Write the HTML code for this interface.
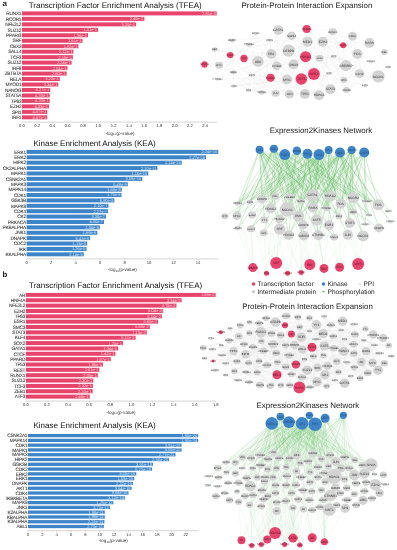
<!DOCTYPE html>
<html><head><meta charset="utf-8"><style>
html,body{margin:0;padding:0;background:#fff;width:397px;height:550px;overflow:hidden}
svg{display:block;will-change:transform;filter:blur(0.3px)}
text{font-family:"Liberation Sans",sans-serif;text-rendering:geometricPrecision}
</style></head><body>
<svg width="397" height="550" viewBox="0 0 397 550">
<rect width="397" height="550" fill="#fff"/>
<text x="2.60" y="6.00" font-size="8.0" fill="#1a1a1a" text-anchor="start" font-weight="bold" >a</text>
<text x="2.50" y="277.00" font-size="7.8" fill="#1a1a1a" text-anchor="start" font-weight="bold" >b</text>
<text x="28.70" y="7.50" font-size="8.0" fill="#111" text-anchor="start" >Transcription Factor Enrichment Analysis (TFEA)</text>
<rect x="22.00" y="11.40" width="194.70" height="4.00" fill="#e8436b"/>
<text x="21.30" y="15.13" font-size="4.8" fill="#3c3c3c" text-anchor="end" letter-spacing="-0.25" stroke="#3c3c3c" stroke-width="0.08">RUNX1</text>
<text x="215.70" y="14.84" font-size="4.0" fill="#fff" text-anchor="end" fill-opacity="0.78">2.81e-3</text>
<rect x="22.00" y="16.87" width="122.40" height="4.00" fill="#e8436b"/>
<text x="21.30" y="20.60" font-size="4.8" fill="#3c3c3c" text-anchor="end" letter-spacing="-0.25" stroke="#3c3c3c" stroke-width="0.08">RCOR1</text>
<text x="143.40" y="20.31" font-size="4.0" fill="#fff" text-anchor="end" fill-opacity="0.78">2.49e-2</text>
<rect x="22.00" y="22.34" width="114.10" height="4.00" fill="#e8436b"/>
<text x="21.30" y="26.07" font-size="4.8" fill="#3c3c3c" text-anchor="end" letter-spacing="-0.25" stroke="#3c3c3c" stroke-width="0.08">NFE2L2</text>
<text x="135.10" y="25.78" font-size="4.0" fill="#fff" text-anchor="end" fill-opacity="0.78">3.20e-2</text>
<rect x="22.00" y="27.81" width="76.10" height="4.00" fill="#e8436b"/>
<text x="21.30" y="31.54" font-size="4.8" fill="#3c3c3c" text-anchor="end" letter-spacing="-0.25" stroke="#3c3c3c" stroke-width="0.08">SUZ12</text>
<text x="97.10" y="31.25" font-size="4.0" fill="#fff" text-anchor="end" fill-opacity="0.78">1.01e-1</text>
<rect x="22.00" y="33.28" width="66.00" height="4.00" fill="#e8436b"/>
<text x="21.30" y="37.01" font-size="4.8" fill="#3c3c3c" text-anchor="end" letter-spacing="-0.25" stroke="#3c3c3c" stroke-width="0.08">PPARG</text>
<text x="87.00" y="36.72" font-size="4.0" fill="#fff" text-anchor="end" fill-opacity="0.78">1.36e-1</text>
<rect x="22.00" y="38.75" width="60.50" height="4.00" fill="#e8436b"/>
<text x="21.30" y="42.48" font-size="4.8" fill="#3c3c3c" text-anchor="end" letter-spacing="-0.25" stroke="#3c3c3c" stroke-width="0.08">SRF</text>
<text x="81.50" y="42.19" font-size="4.0" fill="#fff" text-anchor="end" fill-opacity="0.78">1.61e-1</text>
<rect x="22.00" y="44.22" width="56.40" height="4.00" fill="#e8436b"/>
<text x="21.30" y="47.95" font-size="4.8" fill="#3c3c3c" text-anchor="end" letter-spacing="-0.25" stroke="#3c3c3c" stroke-width="0.08">CBX3</text>
<text x="77.40" y="47.66" font-size="4.0" fill="#fff" text-anchor="end" fill-opacity="0.78">1.82e-1</text>
<rect x="22.00" y="49.69" width="51.40" height="4.00" fill="#e8436b"/>
<text x="21.30" y="53.42" font-size="4.8" fill="#3c3c3c" text-anchor="end" letter-spacing="-0.25" stroke="#3c3c3c" stroke-width="0.08">SALL4</text>
<text x="72.40" y="53.13" font-size="4.0" fill="#fff" text-anchor="end" fill-opacity="0.78">2.12e-1</text>
<rect x="22.00" y="55.16" width="50.90" height="4.00" fill="#e8436b"/>
<text x="21.30" y="58.89" font-size="4.8" fill="#3c3c3c" text-anchor="end" letter-spacing="-0.25" stroke="#3c3c3c" stroke-width="0.08">TCF3</text>
<text x="71.90" y="58.60" font-size="4.0" fill="#fff" text-anchor="end" fill-opacity="0.78">2.15e-1</text>
<rect x="22.00" y="60.63" width="49.60" height="4.00" fill="#e8436b"/>
<text x="21.30" y="64.36" font-size="4.8" fill="#3c3c3c" text-anchor="end" letter-spacing="-0.25" stroke="#3c3c3c" stroke-width="0.08">SUZ12</text>
<text x="70.60" y="64.07" font-size="4.0" fill="#fff" text-anchor="end" fill-opacity="0.78">2.24e-1</text>
<rect x="22.00" y="66.10" width="45.40" height="4.00" fill="#e8436b"/>
<text x="21.30" y="69.83" font-size="4.8" fill="#3c3c3c" text-anchor="end" letter-spacing="-0.25" stroke="#3c3c3c" stroke-width="0.08">IRF8</text>
<text x="66.40" y="69.54" font-size="4.0" fill="#fff" text-anchor="end" fill-opacity="0.78">2.54e-1</text>
<rect x="22.00" y="71.57" width="44.60" height="4.00" fill="#e8436b"/>
<text x="21.30" y="75.30" font-size="4.8" fill="#3c3c3c" text-anchor="end" letter-spacing="-0.25" stroke="#3c3c3c" stroke-width="0.08">ZBTB7A</text>
<text x="65.60" y="75.01" font-size="4.0" fill="#fff" text-anchor="end" fill-opacity="0.78">2.60e-1</text>
<rect x="22.00" y="77.04" width="37.80" height="4.00" fill="#e8436b"/>
<text x="21.30" y="80.77" font-size="4.8" fill="#3c3c3c" text-anchor="end" letter-spacing="-0.25" stroke="#3c3c3c" stroke-width="0.08">RELA</text>
<text x="58.80" y="80.48" font-size="4.0" fill="#fff" text-anchor="end" fill-opacity="0.78">3.20e-1</text>
<rect x="22.00" y="82.51" width="36.30" height="4.00" fill="#e8436b"/>
<text x="21.30" y="86.24" font-size="4.8" fill="#3c3c3c" text-anchor="end" letter-spacing="-0.25" stroke="#3c3c3c" stroke-width="0.08">MYOD1</text>
<text x="57.30" y="85.95" font-size="4.0" fill="#fff" text-anchor="end" fill-opacity="0.78">3.34e-1</text>
<rect x="22.00" y="87.98" width="28.20" height="4.00" fill="#e8436b"/>
<text x="21.30" y="91.71" font-size="4.8" fill="#3c3c3c" text-anchor="end" letter-spacing="-0.25" stroke="#3c3c3c" stroke-width="0.08">NANOG</text>
<text x="49.20" y="91.42" font-size="4.0" fill="#fff" text-anchor="end" fill-opacity="0.78">4.27e-1</text>
<rect x="22.00" y="93.45" width="27.70" height="4.00" fill="#e8436b"/>
<text x="21.30" y="97.18" font-size="4.8" fill="#3c3c3c" text-anchor="end" letter-spacing="-0.25" stroke="#3c3c3c" stroke-width="0.08">STAT5A</text>
<text x="48.70" y="96.89" font-size="4.0" fill="#fff" text-anchor="end" fill-opacity="0.78">4.33e-1</text>
<rect x="22.00" y="98.92" width="27.70" height="4.00" fill="#e8436b"/>
<text x="21.30" y="102.65" font-size="4.8" fill="#3c3c3c" text-anchor="end" letter-spacing="-0.25" stroke="#3c3c3c" stroke-width="0.08">TP63</text>
<text x="48.70" y="102.36" font-size="4.0" fill="#fff" text-anchor="end" fill-opacity="0.78">4.33e-1</text>
<rect x="22.00" y="104.39" width="27.00" height="4.00" fill="#e8436b"/>
<text x="21.30" y="108.12" font-size="4.8" fill="#3c3c3c" text-anchor="end" letter-spacing="-0.25" stroke="#3c3c3c" stroke-width="0.08">EZH2</text>
<text x="48.00" y="107.83" font-size="4.0" fill="#fff" text-anchor="end" fill-opacity="0.78">4.43e-1</text>
<rect x="22.00" y="109.86" width="25.20" height="4.00" fill="#e8436b"/>
<text x="21.30" y="113.59" font-size="4.8" fill="#3c3c3c" text-anchor="end" letter-spacing="-0.25" stroke="#3c3c3c" stroke-width="0.08">SPI1</text>
<text x="46.20" y="113.30" font-size="4.0" fill="#fff" text-anchor="end" fill-opacity="0.78">4.67e-1</text>
<rect x="22.00" y="115.33" width="25.20" height="4.00" fill="#e8436b"/>
<text x="21.30" y="119.06" font-size="4.8" fill="#3c3c3c" text-anchor="end" letter-spacing="-0.25" stroke="#3c3c3c" stroke-width="0.08">IRF1</text>
<text x="46.20" y="118.77" font-size="4.0" fill="#fff" text-anchor="end" fill-opacity="0.78">4.67e-1</text>
<line x1="22.00" y1="122.10" x2="217.20" y2="122.10" stroke="#aaa" stroke-width="0.5"/>
<line x1="22.00" y1="122.10" x2="22.00" y2="123.30" stroke="#aaa" stroke-width="0.4"/>
<text x="22.00" y="126.90" font-size="4.2" fill="#333" text-anchor="middle" >0.0</text>
<line x1="37.26" y1="122.10" x2="37.26" y2="123.30" stroke="#aaa" stroke-width="0.4"/>
<text x="37.26" y="126.90" font-size="4.2" fill="#333" text-anchor="middle" >0.2</text>
<line x1="52.52" y1="122.10" x2="52.52" y2="123.30" stroke="#aaa" stroke-width="0.4"/>
<text x="52.52" y="126.90" font-size="4.2" fill="#333" text-anchor="middle" >0.4</text>
<line x1="67.78" y1="122.10" x2="67.78" y2="123.30" stroke="#aaa" stroke-width="0.4"/>
<text x="67.78" y="126.90" font-size="4.2" fill="#333" text-anchor="middle" >0.6</text>
<line x1="83.04" y1="122.10" x2="83.04" y2="123.30" stroke="#aaa" stroke-width="0.4"/>
<text x="83.04" y="126.90" font-size="4.2" fill="#333" text-anchor="middle" >0.8</text>
<line x1="98.30" y1="122.10" x2="98.30" y2="123.30" stroke="#aaa" stroke-width="0.4"/>
<text x="98.30" y="126.90" font-size="4.2" fill="#333" text-anchor="middle" >1.0</text>
<line x1="113.56" y1="122.10" x2="113.56" y2="123.30" stroke="#aaa" stroke-width="0.4"/>
<text x="113.56" y="126.90" font-size="4.2" fill="#333" text-anchor="middle" >1.2</text>
<line x1="128.82" y1="122.10" x2="128.82" y2="123.30" stroke="#aaa" stroke-width="0.4"/>
<text x="128.82" y="126.90" font-size="4.2" fill="#333" text-anchor="middle" >1.4</text>
<line x1="144.08" y1="122.10" x2="144.08" y2="123.30" stroke="#aaa" stroke-width="0.4"/>
<text x="144.08" y="126.90" font-size="4.2" fill="#333" text-anchor="middle" >1.6</text>
<line x1="159.34" y1="122.10" x2="159.34" y2="123.30" stroke="#aaa" stroke-width="0.4"/>
<text x="159.34" y="126.90" font-size="4.2" fill="#333" text-anchor="middle" >1.8</text>
<line x1="174.60" y1="122.10" x2="174.60" y2="123.30" stroke="#aaa" stroke-width="0.4"/>
<text x="174.60" y="126.90" font-size="4.2" fill="#333" text-anchor="middle" >2.0</text>
<line x1="189.86" y1="122.10" x2="189.86" y2="123.30" stroke="#aaa" stroke-width="0.4"/>
<text x="189.86" y="126.90" font-size="4.2" fill="#333" text-anchor="middle" >2.2</text>
<line x1="205.12" y1="122.10" x2="205.12" y2="123.30" stroke="#aaa" stroke-width="0.4"/>
<text x="205.12" y="126.90" font-size="4.2" fill="#333" text-anchor="middle" >2.4</text>
<text x="120.00" y="134.60" font-size="4.55" fill="#333" text-anchor="middle">-log<tspan font-size="3.1" dy="0.8">10</tspan><tspan dy="-0.8">(p-value)</tspan></text>
<text x="33.40" y="145.60" font-size="8.0" fill="#111" text-anchor="start" >Kinase Enrichment Analysis (KEA)</text>
<rect x="26.60" y="149.90" width="191.70" height="4.00" fill="#3d85c8"/>
<text x="25.90" y="153.63" font-size="4.8" fill="#3c3c3c" text-anchor="end" letter-spacing="-0.25" stroke="#3c3c3c" stroke-width="0.08">ERK1</text>
<text x="217.30" y="153.34" font-size="4.0" fill="#fff" text-anchor="end" fill-opacity="0.78">2.24e-16</text>
<rect x="26.60" y="155.29" width="179.40" height="4.00" fill="#3d85c8"/>
<text x="25.90" y="159.02" font-size="4.8" fill="#3c3c3c" text-anchor="end" letter-spacing="-0.25" stroke="#3c3c3c" stroke-width="0.08">ERK2</text>
<text x="205.00" y="158.73" font-size="4.0" fill="#fff" text-anchor="end" fill-opacity="0.78">2.27e-15</text>
<rect x="26.60" y="160.68" width="155.20" height="4.00" fill="#3d85c8"/>
<text x="25.90" y="164.41" font-size="4.8" fill="#3c3c3c" text-anchor="end" letter-spacing="-0.25" stroke="#3c3c3c" stroke-width="0.08">HIPK2</text>
<text x="180.80" y="164.12" font-size="4.0" fill="#fff" text-anchor="end" fill-opacity="0.78">2.14e-13</text>
<rect x="26.60" y="166.07" width="130.80" height="4.00" fill="#3d85c8"/>
<text x="25.90" y="169.80" font-size="4.8" fill="#3c3c3c" text-anchor="end" letter-spacing="-0.25" stroke="#3c3c3c" stroke-width="0.08">CK2ALPHA</text>
<text x="156.40" y="169.51" font-size="4.0" fill="#fff" text-anchor="end" fill-opacity="0.78">2.10e-11</text>
<rect x="26.60" y="171.46" width="121.70" height="4.00" fill="#3d85c8"/>
<text x="25.90" y="175.19" font-size="4.8" fill="#3c3c3c" text-anchor="end" letter-spacing="-0.25" stroke="#3c3c3c" stroke-width="0.08">MAPK1</text>
<text x="147.30" y="174.90" font-size="4.0" fill="#fff" text-anchor="end" fill-opacity="0.78">1.16e-10</text>
<rect x="26.60" y="176.85" width="115.70" height="4.00" fill="#3d85c8"/>
<text x="25.90" y="180.58" font-size="4.8" fill="#3c3c3c" text-anchor="end" letter-spacing="-0.25" stroke="#3c3c3c" stroke-width="0.08">CSNK2A1</text>
<text x="141.30" y="180.29" font-size="4.0" fill="#fff" text-anchor="end" fill-opacity="0.78">3.59e-10</text>
<rect x="26.60" y="182.24" width="101.20" height="4.00" fill="#3d85c8"/>
<text x="25.90" y="185.97" font-size="4.8" fill="#3c3c3c" text-anchor="end" letter-spacing="-0.25" stroke="#3c3c3c" stroke-width="0.08">MAPK3</text>
<text x="126.80" y="185.68" font-size="4.0" fill="#fff" text-anchor="end" fill-opacity="0.78">5.48e-9</text>
<rect x="26.60" y="187.63" width="95.20" height="4.00" fill="#3d85c8"/>
<text x="25.90" y="191.36" font-size="4.8" fill="#3c3c3c" text-anchor="end" letter-spacing="-0.25" stroke="#3c3c3c" stroke-width="0.08">MAPK14</text>
<text x="120.80" y="191.07" font-size="4.0" fill="#fff" text-anchor="end" fill-opacity="0.78">1.69e-8</text>
<rect x="26.60" y="193.02" width="94.90" height="4.00" fill="#3d85c8"/>
<text x="25.90" y="196.75" font-size="4.8" fill="#3c3c3c" text-anchor="end" letter-spacing="-0.25" stroke="#3c3c3c" stroke-width="0.08">CDK1</text>
<text x="120.50" y="196.46" font-size="4.0" fill="#fff" text-anchor="end" fill-opacity="0.78">1.79e-8</text>
<rect x="26.60" y="198.41" width="87.80" height="4.00" fill="#3d85c8"/>
<text x="25.90" y="202.14" font-size="4.8" fill="#3c3c3c" text-anchor="end" letter-spacing="-0.25" stroke="#3c3c3c" stroke-width="0.08">GSK3B</text>
<text x="113.40" y="201.85" font-size="4.0" fill="#fff" text-anchor="end" fill-opacity="0.78">6.80e-8</text>
<rect x="26.60" y="203.80" width="81.80" height="4.00" fill="#3d85c8"/>
<text x="25.90" y="207.53" font-size="4.8" fill="#3c3c3c" text-anchor="end" letter-spacing="-0.25" stroke="#3c3c3c" stroke-width="0.08">MAPK8</text>
<text x="107.40" y="207.24" font-size="4.0" fill="#fff" text-anchor="end" fill-opacity="0.78">2.10e-7</text>
<rect x="26.60" y="209.19" width="81.40" height="4.00" fill="#3d85c8"/>
<text x="25.90" y="212.92" font-size="4.8" fill="#3c3c3c" text-anchor="end" letter-spacing="-0.25" stroke="#3c3c3c" stroke-width="0.08">CDK4</text>
<text x="107.00" y="212.63" font-size="4.0" fill="#fff" text-anchor="end" fill-opacity="0.78">2.27e-7</text>
<rect x="26.60" y="214.58" width="79.40" height="4.00" fill="#3d85c8"/>
<text x="25.90" y="218.31" font-size="4.8" fill="#3c3c3c" text-anchor="end" letter-spacing="-0.25" stroke="#3c3c3c" stroke-width="0.08">CK2</text>
<text x="105.00" y="218.02" font-size="4.0" fill="#fff" text-anchor="end" fill-opacity="0.78">3.30e-7</text>
<rect x="26.60" y="219.97" width="77.40" height="4.00" fill="#3d85c8"/>
<text x="25.90" y="223.70" font-size="4.8" fill="#3c3c3c" text-anchor="end" letter-spacing="-0.25" stroke="#3c3c3c" stroke-width="0.08">PRKACA</text>
<text x="103.00" y="223.41" font-size="4.0" fill="#fff" text-anchor="end" fill-opacity="0.78">4.80e-7</text>
<rect x="26.60" y="225.36" width="73.30" height="4.00" fill="#3d85c8"/>
<text x="25.90" y="229.09" font-size="4.8" fill="#3c3c3c" text-anchor="end" letter-spacing="-0.25" stroke="#3c3c3c" stroke-width="0.08">PKBALPHA</text>
<text x="98.90" y="228.80" font-size="4.0" fill="#fff" text-anchor="end" fill-opacity="0.78">1.04e-6</text>
<rect x="26.60" y="230.75" width="70.70" height="4.00" fill="#3d85c8"/>
<text x="25.90" y="234.48" font-size="4.8" fill="#3c3c3c" text-anchor="end" letter-spacing="-0.25" stroke="#3c3c3c" stroke-width="0.08">JNK1</text>
<text x="96.30" y="234.19" font-size="4.0" fill="#fff" text-anchor="end" fill-opacity="0.78">1.69e-6</text>
<rect x="26.60" y="236.14" width="63.60" height="4.00" fill="#3d85c8"/>
<text x="25.90" y="239.87" font-size="4.8" fill="#3c3c3c" text-anchor="end" letter-spacing="-0.25" stroke="#3c3c3c" stroke-width="0.08">DNAPK</text>
<text x="89.20" y="239.58" font-size="4.0" fill="#fff" text-anchor="end" fill-opacity="0.78">6.43e-6</text>
<rect x="26.60" y="241.53" width="60.60" height="4.00" fill="#3d85c8"/>
<text x="25.90" y="245.26" font-size="4.8" fill="#3c3c3c" text-anchor="end" letter-spacing="-0.25" stroke="#3c3c3c" stroke-width="0.08">CDC2</text>
<text x="86.20" y="244.97" font-size="4.0" fill="#fff" text-anchor="end" fill-opacity="0.78">1.13e-5</text>
<rect x="26.60" y="246.92" width="60.00" height="4.00" fill="#3d85c8"/>
<text x="25.90" y="250.65" font-size="4.8" fill="#3c3c3c" text-anchor="end" letter-spacing="-0.25" stroke="#3c3c3c" stroke-width="0.08">IKK</text>
<text x="85.60" y="250.36" font-size="4.0" fill="#fff" text-anchor="end" fill-opacity="0.78">1.26e-5</text>
<rect x="26.60" y="252.31" width="57.20" height="4.00" fill="#3d85c8"/>
<text x="25.90" y="256.04" font-size="4.8" fill="#3c3c3c" text-anchor="end" letter-spacing="-0.25" stroke="#3c3c3c" stroke-width="0.08">KKALPHA</text>
<text x="82.80" y="255.75" font-size="4.0" fill="#fff" text-anchor="end" fill-opacity="0.78">2.14e-5</text>
<line x1="26.60" y1="258.90" x2="218.50" y2="258.90" stroke="#aaa" stroke-width="0.5"/>
<line x1="26.60" y1="258.90" x2="26.60" y2="260.10" stroke="#aaa" stroke-width="0.4"/>
<text x="26.60" y="263.70" font-size="4.2" fill="#333" text-anchor="middle" >0</text>
<line x1="51.10" y1="258.90" x2="51.10" y2="260.10" stroke="#aaa" stroke-width="0.4"/>
<text x="51.10" y="263.70" font-size="4.2" fill="#333" text-anchor="middle" >2</text>
<line x1="75.60" y1="258.90" x2="75.60" y2="260.10" stroke="#aaa" stroke-width="0.4"/>
<text x="75.60" y="263.70" font-size="4.2" fill="#333" text-anchor="middle" >4</text>
<line x1="100.10" y1="258.90" x2="100.10" y2="260.10" stroke="#aaa" stroke-width="0.4"/>
<text x="100.10" y="263.70" font-size="4.2" fill="#333" text-anchor="middle" >6</text>
<line x1="124.60" y1="258.90" x2="124.60" y2="260.10" stroke="#aaa" stroke-width="0.4"/>
<text x="124.60" y="263.70" font-size="4.2" fill="#333" text-anchor="middle" >8</text>
<line x1="149.10" y1="258.90" x2="149.10" y2="260.10" stroke="#aaa" stroke-width="0.4"/>
<text x="149.10" y="263.70" font-size="4.2" fill="#333" text-anchor="middle" >10</text>
<line x1="173.60" y1="258.90" x2="173.60" y2="260.10" stroke="#aaa" stroke-width="0.4"/>
<text x="173.60" y="263.70" font-size="4.2" fill="#333" text-anchor="middle" >12</text>
<line x1="198.10" y1="258.90" x2="198.10" y2="260.10" stroke="#aaa" stroke-width="0.4"/>
<text x="198.10" y="263.70" font-size="4.2" fill="#333" text-anchor="middle" >14</text>
<text x="122.40" y="271.30" font-size="4.55" fill="#333" text-anchor="middle">-log<tspan font-size="3.1" dy="0.8">10</tspan><tspan dy="-0.8">(p-value)</tspan></text>
<text x="29.10" y="287.60" font-size="8.0" fill="#111" text-anchor="start" >Transcription Factor Enrichment Analysis (TFEA)</text>
<rect x="25.90" y="292.90" width="189.70" height="4.00" fill="#e8436b"/>
<text x="25.20" y="296.63" font-size="4.8" fill="#3c3c3c" text-anchor="end" letter-spacing="-0.25" stroke="#3c3c3c" stroke-width="0.08">AR</text>
<text x="214.60" y="296.34" font-size="4.0" fill="#fff" text-anchor="end" fill-opacity="0.78">1.59e-2</text>
<rect x="25.90" y="298.25" width="155.70" height="4.00" fill="#e8436b"/>
<text x="25.20" y="301.98" font-size="4.8" fill="#3c3c3c" text-anchor="end" letter-spacing="-0.25" stroke="#3c3c3c" stroke-width="0.08">HNF4A</text>
<text x="180.60" y="301.69" font-size="4.0" fill="#fff" text-anchor="end" fill-opacity="0.78">3.34e-2</text>
<rect x="25.90" y="303.61" width="150.50" height="4.00" fill="#e8436b"/>
<text x="25.20" y="307.33" font-size="4.8" fill="#3c3c3c" text-anchor="end" letter-spacing="-0.25" stroke="#3c3c3c" stroke-width="0.08">NFE2L2</text>
<text x="175.40" y="307.05" font-size="4.0" fill="#fff" text-anchor="end" fill-opacity="0.78">3.75e-2</text>
<rect x="25.90" y="308.96" width="136.90" height="4.00" fill="#e8436b"/>
<text x="25.20" y="312.69" font-size="4.8" fill="#3c3c3c" text-anchor="end" letter-spacing="-0.25" stroke="#3c3c3c" stroke-width="0.08">EZH2</text>
<text x="161.80" y="312.40" font-size="4.0" fill="#fff" text-anchor="end" fill-opacity="0.78">5.04e-2</text>
<rect x="25.90" y="314.31" width="136.00" height="4.00" fill="#e8436b"/>
<text x="25.20" y="318.04" font-size="4.8" fill="#3c3c3c" text-anchor="end" letter-spacing="-0.25" stroke="#3c3c3c" stroke-width="0.08">TP63</text>
<text x="160.90" y="317.75" font-size="4.0" fill="#fff" text-anchor="end" fill-opacity="0.78">5.14e-2</text>
<rect x="25.90" y="319.66" width="132.10" height="4.00" fill="#e8436b"/>
<text x="25.20" y="323.39" font-size="4.8" fill="#3c3c3c" text-anchor="end" letter-spacing="-0.25" stroke="#3c3c3c" stroke-width="0.08">ESR1</text>
<text x="157.00" y="323.10" font-size="4.0" fill="#fff" text-anchor="end" fill-opacity="0.78">5.60e-2</text>
<rect x="25.90" y="325.02" width="123.90" height="4.00" fill="#e8436b"/>
<text x="25.20" y="328.75" font-size="4.8" fill="#3c3c3c" text-anchor="end" letter-spacing="-0.25" stroke="#3c3c3c" stroke-width="0.08">SMC3</text>
<text x="148.80" y="328.46" font-size="4.0" fill="#fff" text-anchor="end" fill-opacity="0.78">6.69e-2</text>
<rect x="25.90" y="330.37" width="120.90" height="4.00" fill="#e8436b"/>
<text x="25.20" y="334.10" font-size="4.8" fill="#3c3c3c" text-anchor="end" letter-spacing="-0.25" stroke="#3c3c3c" stroke-width="0.08">STAT3</text>
<text x="145.80" y="333.81" font-size="4.0" fill="#fff" text-anchor="end" fill-opacity="0.78">7.15e-2</text>
<rect x="25.90" y="335.72" width="109.70" height="4.00" fill="#e8436b"/>
<text x="25.20" y="339.45" font-size="4.8" fill="#3c3c3c" text-anchor="end" letter-spacing="-0.25" stroke="#3c3c3c" stroke-width="0.08">KLF4</text>
<text x="134.60" y="339.16" font-size="4.0" fill="#fff" text-anchor="end" fill-opacity="0.78">9.12e-2</text>
<rect x="25.90" y="341.08" width="97.00" height="4.00" fill="#e8436b"/>
<text x="25.20" y="344.81" font-size="4.8" fill="#3c3c3c" text-anchor="end" letter-spacing="-0.25" stroke="#3c3c3c" stroke-width="0.08">SOX2</text>
<text x="121.90" y="344.52" font-size="4.0" fill="#fff" text-anchor="end" fill-opacity="0.78">1.20e-1</text>
<rect x="25.90" y="346.43" width="92.20" height="4.00" fill="#e8436b"/>
<text x="25.20" y="350.16" font-size="4.8" fill="#3c3c3c" text-anchor="end" letter-spacing="-0.25" stroke="#3c3c3c" stroke-width="0.08">GATA1</text>
<text x="117.10" y="349.87" font-size="4.0" fill="#fff" text-anchor="end" fill-opacity="0.78">1.34e-1</text>
<rect x="25.90" y="351.78" width="89.50" height="4.00" fill="#e8436b"/>
<text x="25.20" y="355.51" font-size="4.8" fill="#3c3c3c" text-anchor="end" letter-spacing="-0.25" stroke="#3c3c3c" stroke-width="0.08">CTCF</text>
<text x="114.40" y="355.22" font-size="4.0" fill="#fff" text-anchor="end" fill-opacity="0.78">1.42e-1</text>
<rect x="25.90" y="357.14" width="84.90" height="4.00" fill="#e8436b"/>
<text x="25.20" y="360.86" font-size="4.8" fill="#3c3c3c" text-anchor="end" letter-spacing="-0.25" stroke="#3c3c3c" stroke-width="0.08">PPARD</text>
<text x="109.80" y="360.58" font-size="4.0" fill="#fff" text-anchor="end" fill-opacity="0.78">1.57e-1</text>
<rect x="25.90" y="362.49" width="77.00" height="4.00" fill="#e8436b"/>
<text x="25.20" y="366.22" font-size="4.8" fill="#3c3c3c" text-anchor="end" letter-spacing="-0.25" stroke="#3c3c3c" stroke-width="0.08">TP53</text>
<text x="101.90" y="365.93" font-size="4.0" fill="#fff" text-anchor="end" fill-opacity="0.78">1.86e-1</text>
<rect x="25.90" y="367.84" width="73.40" height="4.00" fill="#e8436b"/>
<text x="25.20" y="371.57" font-size="4.8" fill="#3c3c3c" text-anchor="end" letter-spacing="-0.25" stroke="#3c3c3c" stroke-width="0.08">REST</text>
<text x="98.30" y="371.28" font-size="4.0" fill="#fff" text-anchor="end" fill-opacity="0.78">2.01e-1</text>
<rect x="25.90" y="373.19" width="72.00" height="4.00" fill="#e8436b"/>
<text x="25.20" y="376.92" font-size="4.8" fill="#3c3c3c" text-anchor="end" letter-spacing="-0.25" stroke="#3c3c3c" stroke-width="0.08">RUNX1</text>
<text x="96.90" y="376.63" font-size="4.0" fill="#fff" text-anchor="end" fill-opacity="0.78">2.08e-1</text>
<rect x="25.90" y="378.55" width="67.40" height="4.00" fill="#e8436b"/>
<text x="25.20" y="382.28" font-size="4.8" fill="#3c3c3c" text-anchor="end" letter-spacing="-0.25" stroke="#3c3c3c" stroke-width="0.08">SUZ12</text>
<text x="92.30" y="381.99" font-size="4.0" fill="#fff" text-anchor="end" fill-opacity="0.78">2.30e-1</text>
<rect x="25.90" y="383.90" width="67.00" height="4.00" fill="#e8436b"/>
<text x="25.20" y="387.63" font-size="4.8" fill="#3c3c3c" text-anchor="end" letter-spacing="-0.25" stroke="#3c3c3c" stroke-width="0.08">TCF3</text>
<text x="91.90" y="387.34" font-size="4.0" fill="#fff" text-anchor="end" fill-opacity="0.78">2.32e-1</text>
<rect x="25.90" y="389.25" width="66.80" height="4.00" fill="#e8436b"/>
<text x="25.20" y="392.98" font-size="4.8" fill="#3c3c3c" text-anchor="end" letter-spacing="-0.25" stroke="#3c3c3c" stroke-width="0.08">ZEB1</text>
<text x="91.70" y="392.69" font-size="4.0" fill="#fff" text-anchor="end" fill-opacity="0.78">2.33e-1</text>
<rect x="25.90" y="394.61" width="63.90" height="4.00" fill="#e8436b"/>
<text x="25.20" y="398.33" font-size="4.8" fill="#3c3c3c" text-anchor="end" letter-spacing="-0.25" stroke="#3c3c3c" stroke-width="0.08">ATF3</text>
<text x="88.80" y="398.05" font-size="4.0" fill="#fff" text-anchor="end" fill-opacity="0.78">2.48e-1</text>
<line x1="25.90" y1="401.10" x2="215.60" y2="401.10" stroke="#aaa" stroke-width="0.5"/>
<line x1="25.90" y1="401.10" x2="25.90" y2="402.30" stroke="#aaa" stroke-width="0.4"/>
<text x="25.90" y="405.90" font-size="4.2" fill="#333" text-anchor="middle" >0.0</text>
<line x1="47.00" y1="401.10" x2="47.00" y2="402.30" stroke="#aaa" stroke-width="0.4"/>
<text x="47.00" y="405.90" font-size="4.2" fill="#333" text-anchor="middle" >0.2</text>
<line x1="68.10" y1="401.10" x2="68.10" y2="402.30" stroke="#aaa" stroke-width="0.4"/>
<text x="68.10" y="405.90" font-size="4.2" fill="#333" text-anchor="middle" >0.4</text>
<line x1="89.20" y1="401.10" x2="89.20" y2="402.30" stroke="#aaa" stroke-width="0.4"/>
<text x="89.20" y="405.90" font-size="4.2" fill="#333" text-anchor="middle" >0.6</text>
<line x1="110.30" y1="401.10" x2="110.30" y2="402.30" stroke="#aaa" stroke-width="0.4"/>
<text x="110.30" y="405.90" font-size="4.2" fill="#333" text-anchor="middle" >0.8</text>
<line x1="131.40" y1="401.10" x2="131.40" y2="402.30" stroke="#aaa" stroke-width="0.4"/>
<text x="131.40" y="405.90" font-size="4.2" fill="#333" text-anchor="middle" >1.0</text>
<line x1="152.50" y1="401.10" x2="152.50" y2="402.30" stroke="#aaa" stroke-width="0.4"/>
<text x="152.50" y="405.90" font-size="4.2" fill="#333" text-anchor="middle" >1.2</text>
<line x1="173.60" y1="401.10" x2="173.60" y2="402.30" stroke="#aaa" stroke-width="0.4"/>
<text x="173.60" y="405.90" font-size="4.2" fill="#333" text-anchor="middle" >1.4</text>
<line x1="194.70" y1="401.10" x2="194.70" y2="402.30" stroke="#aaa" stroke-width="0.4"/>
<text x="194.70" y="405.90" font-size="4.2" fill="#333" text-anchor="middle" >1.6</text>
<line x1="215.80" y1="401.10" x2="215.80" y2="402.30" stroke="#aaa" stroke-width="0.4"/>
<text x="215.80" y="405.90" font-size="4.2" fill="#333" text-anchor="middle" >1.8</text>
<text x="121.00" y="413.60" font-size="4.55" fill="#333" text-anchor="middle">-log<tspan font-size="3.1" dy="0.8">10</tspan><tspan dy="-0.8">(p-value)</tspan></text>
<text x="33.50" y="427.60" font-size="8.0" fill="#111" text-anchor="start" >Kinase Enrichment Analysis (KEA)</text>
<rect x="28.00" y="433.95" width="170.20" height="3.30" fill="#3d85c8"/>
<text x="27.30" y="437.33" font-size="4.8" fill="#3c3c3c" text-anchor="end" letter-spacing="-0.25" stroke="#3c3c3c" stroke-width="0.08">CSNK2A1</text>
<text x="197.20" y="437.04" font-size="4.0" fill="#fff" text-anchor="end" fill-opacity="0.78">1.90e-24</text>
<rect x="28.00" y="438.74" width="170.20" height="3.30" fill="#3d85c8"/>
<text x="27.30" y="442.11" font-size="4.8" fill="#3c3c3c" text-anchor="end" letter-spacing="-0.25" stroke="#3c3c3c" stroke-width="0.08">MAPK14</text>
<text x="197.20" y="441.83" font-size="4.0" fill="#fff" text-anchor="end" fill-opacity="0.78">1.90e-24</text>
<rect x="28.00" y="443.52" width="153.60" height="3.30" fill="#3d85c8"/>
<text x="27.30" y="446.90" font-size="4.8" fill="#3c3c3c" text-anchor="end" letter-spacing="-0.25" stroke="#3c3c3c" stroke-width="0.08">CDK1</text>
<text x="180.60" y="446.61" font-size="4.0" fill="#fff" text-anchor="end" fill-opacity="0.78">3.91e-22</text>
<rect x="28.00" y="448.31" width="153.60" height="3.30" fill="#3d85c8"/>
<text x="27.30" y="451.68" font-size="4.8" fill="#3c3c3c" text-anchor="end" letter-spacing="-0.25" stroke="#3c3c3c" stroke-width="0.08">MAPK1</text>
<text x="180.60" y="451.40" font-size="4.0" fill="#fff" text-anchor="end" fill-opacity="0.78">3.91e-22</text>
<rect x="28.00" y="453.09" width="147.50" height="3.30" fill="#3d85c8"/>
<text x="27.30" y="456.47" font-size="4.8" fill="#3c3c3c" text-anchor="end" letter-spacing="-0.25" stroke="#3c3c3c" stroke-width="0.08">MAPK3</text>
<text x="174.50" y="456.18" font-size="4.0" fill="#fff" text-anchor="end" fill-opacity="0.78">2.77e-21</text>
<rect x="28.00" y="457.88" width="140.90" height="3.30" fill="#3d85c8"/>
<text x="27.30" y="461.25" font-size="4.8" fill="#3c3c3c" text-anchor="end" letter-spacing="-0.25" stroke="#3c3c3c" stroke-width="0.08">HIPK2</text>
<text x="167.90" y="460.97" font-size="4.0" fill="#fff" text-anchor="end" fill-opacity="0.78">2.30e-20</text>
<rect x="28.00" y="462.66" width="124.90" height="3.30" fill="#3d85c8"/>
<text x="27.30" y="466.04" font-size="4.8" fill="#3c3c3c" text-anchor="end" letter-spacing="-0.25" stroke="#3c3c3c" stroke-width="0.08">GSK3B</text>
<text x="151.90" y="465.75" font-size="4.0" fill="#fff" text-anchor="end" fill-opacity="0.78">3.91e-18</text>
<rect x="28.00" y="467.45" width="124.00" height="3.30" fill="#3d85c8"/>
<text x="27.30" y="470.82" font-size="4.8" fill="#3c3c3c" text-anchor="end" letter-spacing="-0.25" stroke="#3c3c3c" stroke-width="0.08">CDK2</text>
<text x="151.00" y="470.54" font-size="4.0" fill="#fff" text-anchor="end" fill-opacity="0.78">5.22e-18</text>
<rect x="28.00" y="472.23" width="108.30" height="3.30" fill="#3d85c8"/>
<text x="27.30" y="475.61" font-size="4.8" fill="#3c3c3c" text-anchor="end" letter-spacing="-0.25" stroke="#3c3c3c" stroke-width="0.08">ERK2</text>
<text x="135.30" y="475.32" font-size="4.0" fill="#fff" text-anchor="end" fill-opacity="0.78">8.05e-16</text>
<rect x="28.00" y="477.02" width="106.20" height="3.30" fill="#3d85c8"/>
<text x="27.30" y="480.39" font-size="4.8" fill="#3c3c3c" text-anchor="end" letter-spacing="-0.25" stroke="#3c3c3c" stroke-width="0.08">ERK1</text>
<text x="133.20" y="480.11" font-size="4.0" fill="#fff" text-anchor="end" fill-opacity="0.78">1.58e-15</text>
<rect x="28.00" y="481.80" width="105.00" height="3.30" fill="#3d85c8"/>
<text x="27.30" y="485.18" font-size="4.8" fill="#3c3c3c" text-anchor="end" letter-spacing="-0.25" stroke="#3c3c3c" stroke-width="0.08">DNAPK</text>
<text x="132.00" y="484.89" font-size="4.0" fill="#fff" text-anchor="end" fill-opacity="0.78">2.32e-15</text>
<rect x="28.00" y="486.59" width="103.60" height="3.30" fill="#3d85c8"/>
<text x="27.30" y="489.96" font-size="4.8" fill="#3c3c3c" text-anchor="end" letter-spacing="-0.25" stroke="#3c3c3c" stroke-width="0.08">AKT1</text>
<text x="130.60" y="489.68" font-size="4.0" fill="#fff" text-anchor="end" fill-opacity="0.78">3.64e-15</text>
<rect x="28.00" y="491.37" width="100.50" height="3.30" fill="#3d85c8"/>
<text x="27.30" y="494.75" font-size="4.8" fill="#3c3c3c" text-anchor="end" letter-spacing="-0.25" stroke="#3c3c3c" stroke-width="0.08">CDK4</text>
<text x="127.50" y="494.46" font-size="4.0" fill="#fff" text-anchor="end" fill-opacity="0.78">9.84e-15</text>
<rect x="28.00" y="496.16" width="96.90" height="3.30" fill="#3d85c8"/>
<text x="27.30" y="499.53" font-size="4.8" fill="#3c3c3c" text-anchor="end" letter-spacing="-0.25" stroke="#3c3c3c" stroke-width="0.08">IKBKBETA</text>
<text x="123.90" y="499.25" font-size="4.0" fill="#fff" text-anchor="end" fill-opacity="0.78">3.12e-14</text>
<rect x="28.00" y="500.94" width="85.40" height="3.30" fill="#3d85c8"/>
<text x="27.30" y="504.32" font-size="4.8" fill="#3c3c3c" text-anchor="end" letter-spacing="-0.25" stroke="#3c3c3c" stroke-width="0.08">MAPK8</text>
<text x="112.40" y="504.03" font-size="4.0" fill="#fff" text-anchor="end" fill-opacity="0.78">1.25e-12</text>
<rect x="28.00" y="505.73" width="82.00" height="3.30" fill="#3d85c8"/>
<text x="27.30" y="509.10" font-size="4.8" fill="#3c3c3c" text-anchor="end" letter-spacing="-0.25" stroke="#3c3c3c" stroke-width="0.08">JNK1</text>
<text x="109.00" y="508.81" font-size="4.0" fill="#fff" text-anchor="end" fill-opacity="0.78">3.73e-12</text>
<rect x="28.00" y="510.51" width="76.80" height="3.30" fill="#3d85c8"/>
<text x="27.30" y="513.89" font-size="4.8" fill="#3c3c3c" text-anchor="end" letter-spacing="-0.25" stroke="#3c3c3c" stroke-width="0.08">K2ALPHA</text>
<text x="103.80" y="513.60" font-size="4.0" fill="#fff" text-anchor="end" fill-opacity="0.78">1.98e-11</text>
<rect x="28.00" y="515.30" width="76.80" height="3.30" fill="#3d85c8"/>
<text x="27.30" y="518.67" font-size="4.8" fill="#3c3c3c" text-anchor="end" letter-spacing="-0.25" stroke="#3c3c3c" stroke-width="0.08">KBALPHA</text>
<text x="103.80" y="518.39" font-size="4.0" fill="#fff" text-anchor="end" fill-opacity="0.78">1.98e-11</text>
<rect x="28.00" y="520.08" width="76.40" height="3.30" fill="#3d85c8"/>
<text x="27.30" y="523.46" font-size="4.8" fill="#3c3c3c" text-anchor="end" letter-spacing="-0.25" stroke="#3c3c3c" stroke-width="0.08">K3ALPHA</text>
<text x="103.40" y="523.17" font-size="4.0" fill="#fff" text-anchor="end" fill-opacity="0.78">2.25e-11</text>
<rect x="28.00" y="524.87" width="75.80" height="3.30" fill="#3d85c8"/>
<text x="27.30" y="528.24" font-size="4.8" fill="#3c3c3c" text-anchor="end" letter-spacing="-0.25" stroke="#3c3c3c" stroke-width="0.08">ABL1</text>
<text x="102.80" y="527.96" font-size="4.0" fill="#fff" text-anchor="end" fill-opacity="0.78">2.73e-11</text>
<line x1="28.00" y1="530.70" x2="198.50" y2="530.70" stroke="#aaa" stroke-width="0.5"/>
<line x1="28.00" y1="530.70" x2="28.00" y2="531.90" stroke="#aaa" stroke-width="0.4"/>
<text x="28.00" y="535.50" font-size="4.2" fill="#333" text-anchor="middle" >0</text>
<line x1="42.35" y1="530.70" x2="42.35" y2="531.90" stroke="#aaa" stroke-width="0.4"/>
<text x="42.35" y="535.50" font-size="4.2" fill="#333" text-anchor="middle" >2</text>
<line x1="56.70" y1="530.70" x2="56.70" y2="531.90" stroke="#aaa" stroke-width="0.4"/>
<text x="56.70" y="535.50" font-size="4.2" fill="#333" text-anchor="middle" >4</text>
<line x1="71.05" y1="530.70" x2="71.05" y2="531.90" stroke="#aaa" stroke-width="0.4"/>
<text x="71.05" y="535.50" font-size="4.2" fill="#333" text-anchor="middle" >6</text>
<line x1="85.40" y1="530.70" x2="85.40" y2="531.90" stroke="#aaa" stroke-width="0.4"/>
<text x="85.40" y="535.50" font-size="4.2" fill="#333" text-anchor="middle" >8</text>
<line x1="99.75" y1="530.70" x2="99.75" y2="531.90" stroke="#aaa" stroke-width="0.4"/>
<text x="99.75" y="535.50" font-size="4.2" fill="#333" text-anchor="middle" >10</text>
<line x1="114.10" y1="530.70" x2="114.10" y2="531.90" stroke="#aaa" stroke-width="0.4"/>
<text x="114.10" y="535.50" font-size="4.2" fill="#333" text-anchor="middle" >12</text>
<line x1="128.45" y1="530.70" x2="128.45" y2="531.90" stroke="#aaa" stroke-width="0.4"/>
<text x="128.45" y="535.50" font-size="4.2" fill="#333" text-anchor="middle" >14</text>
<line x1="142.80" y1="530.70" x2="142.80" y2="531.90" stroke="#aaa" stroke-width="0.4"/>
<text x="142.80" y="535.50" font-size="4.2" fill="#333" text-anchor="middle" >16</text>
<line x1="157.15" y1="530.70" x2="157.15" y2="531.90" stroke="#aaa" stroke-width="0.4"/>
<text x="157.15" y="535.50" font-size="4.2" fill="#333" text-anchor="middle" >18</text>
<line x1="171.50" y1="530.70" x2="171.50" y2="531.90" stroke="#aaa" stroke-width="0.4"/>
<text x="171.50" y="535.50" font-size="4.2" fill="#333" text-anchor="middle" >20</text>
<line x1="185.85" y1="530.70" x2="185.85" y2="531.90" stroke="#aaa" stroke-width="0.4"/>
<text x="185.85" y="535.50" font-size="4.2" fill="#333" text-anchor="middle" >22</text>
<text x="113.30" y="541.80" font-size="4.55" fill="#333" text-anchor="middle">-log<tspan font-size="3.1" dy="0.8">10</tspan><tspan dy="-0.8">(p-value)</tspan></text>
<line x1="219.0" y1="65.3" x2="258.0" y2="61.4" stroke="#e6e6e6" stroke-width="0.3"/>
<line x1="219.0" y1="65.3" x2="249.0" y2="44.6" stroke="#e6e6e6" stroke-width="0.3"/>
<line x1="219.0" y1="65.3" x2="233.5" y2="72.2" stroke="#e6e6e6" stroke-width="0.3"/>
<line x1="219.0" y1="65.3" x2="261.7" y2="92.4" stroke="#e6e6e6" stroke-width="0.3"/>
<line x1="219.0" y1="65.3" x2="278.3" y2="30.2" stroke="#e6e6e6" stroke-width="0.3"/>
<line x1="219.0" y1="65.3" x2="204.5" y2="64.5" stroke="#e6e6e6" stroke-width="0.3"/>
<line x1="219.0" y1="65.3" x2="270.5" y2="77.8" stroke="#e6e6e6" stroke-width="0.3"/>
<line x1="214.7" y1="49.5" x2="258.0" y2="61.4" stroke="#e6e6e6" stroke-width="0.3"/>
<line x1="214.7" y1="49.5" x2="271.3" y2="53.9" stroke="#e6e6e6" stroke-width="0.3"/>
<line x1="214.7" y1="49.5" x2="276.8" y2="65.7" stroke="#e6e6e6" stroke-width="0.3"/>
<line x1="214.7" y1="49.5" x2="252.0" y2="75.3" stroke="#e6e6e6" stroke-width="0.3"/>
<line x1="214.7" y1="49.5" x2="217.6" y2="79.0" stroke="#e6e6e6" stroke-width="0.3"/>
<line x1="258.0" y1="61.4" x2="291.6" y2="35.8" stroke="#e6e6e6" stroke-width="0.3"/>
<line x1="258.0" y1="61.4" x2="319.6" y2="58.3" stroke="#e6e6e6" stroke-width="0.3"/>
<line x1="258.0" y1="61.4" x2="319.1" y2="95.3" stroke="#e6e6e6" stroke-width="0.3"/>
<line x1="258.0" y1="61.4" x2="269.5" y2="40.2" stroke="#e6e6e6" stroke-width="0.3"/>
<line x1="232.0" y1="40.3" x2="261.7" y2="92.4" stroke="#e6e6e6" stroke-width="0.3"/>
<line x1="232.0" y1="40.3" x2="291.6" y2="35.8" stroke="#e6e6e6" stroke-width="0.3"/>
<line x1="232.0" y1="40.3" x2="204.5" y2="64.5" stroke="#e6e6e6" stroke-width="0.3"/>
<line x1="232.0" y1="40.3" x2="244.0" y2="58.4" stroke="#e6e6e6" stroke-width="0.3"/>
<line x1="232.0" y1="40.3" x2="234.0" y2="86.1" stroke="#e6e6e6" stroke-width="0.3"/>
<line x1="249.0" y1="44.6" x2="275.6" y2="93.4" stroke="#e6e6e6" stroke-width="0.3"/>
<line x1="249.0" y1="44.6" x2="244.0" y2="58.4" stroke="#e6e6e6" stroke-width="0.3"/>
<line x1="249.0" y1="44.6" x2="255.7" y2="33.3" stroke="#e6e6e6" stroke-width="0.3"/>
<line x1="271.3" y1="53.9" x2="261.7" y2="92.4" stroke="#e6e6e6" stroke-width="0.3"/>
<line x1="271.3" y1="53.9" x2="289.4" y2="94.2" stroke="#e6e6e6" stroke-width="0.3"/>
<line x1="271.3" y1="53.9" x2="278.3" y2="30.2" stroke="#e6e6e6" stroke-width="0.3"/>
<line x1="271.3" y1="53.9" x2="322.9" y2="41.8" stroke="#e6e6e6" stroke-width="0.3"/>
<line x1="271.3" y1="53.9" x2="319.6" y2="58.3" stroke="#e6e6e6" stroke-width="0.3"/>
<line x1="271.3" y1="53.9" x2="330.4" y2="89.3" stroke="#e6e6e6" stroke-width="0.3"/>
<line x1="271.3" y1="53.9" x2="304.8" y2="93.9" stroke="#e6e6e6" stroke-width="0.3"/>
<line x1="271.3" y1="53.9" x2="204.5" y2="64.5" stroke="#e6e6e6" stroke-width="0.3"/>
<line x1="271.3" y1="53.9" x2="270.5" y2="77.8" stroke="#e6e6e6" stroke-width="0.3"/>
<line x1="271.3" y1="53.9" x2="301.4" y2="79.0" stroke="#e6e6e6" stroke-width="0.3"/>
<line x1="271.3" y1="53.9" x2="255.7" y2="33.3" stroke="#e6e6e6" stroke-width="0.3"/>
<line x1="271.3" y1="53.9" x2="269.5" y2="40.2" stroke="#e6e6e6" stroke-width="0.3"/>
<line x1="288.7" y1="50.6" x2="233.5" y2="72.2" stroke="#e6e6e6" stroke-width="0.3"/>
<line x1="288.7" y1="50.6" x2="275.6" y2="93.4" stroke="#e6e6e6" stroke-width="0.3"/>
<line x1="288.7" y1="50.6" x2="278.3" y2="30.2" stroke="#e6e6e6" stroke-width="0.3"/>
<line x1="288.7" y1="50.6" x2="252.0" y2="75.3" stroke="#e6e6e6" stroke-width="0.3"/>
<line x1="288.7" y1="50.6" x2="234.0" y2="86.1" stroke="#e6e6e6" stroke-width="0.3"/>
<line x1="276.8" y1="65.7" x2="330.4" y2="89.3" stroke="#e6e6e6" stroke-width="0.3"/>
<line x1="276.8" y1="65.7" x2="269.5" y2="40.2" stroke="#e6e6e6" stroke-width="0.3"/>
<line x1="276.8" y1="65.7" x2="333.7" y2="56.7" stroke="#e6e6e6" stroke-width="0.3"/>
<line x1="293.5" y1="64.4" x2="286.9" y2="79.5" stroke="#e6e6e6" stroke-width="0.3"/>
<line x1="293.5" y1="64.4" x2="332.6" y2="31.6" stroke="#e6e6e6" stroke-width="0.3"/>
<line x1="293.5" y1="64.4" x2="352.5" y2="36.1" stroke="#e6e6e6" stroke-width="0.3"/>
<line x1="293.5" y1="64.4" x2="306.7" y2="28.9" stroke="#e6e6e6" stroke-width="0.3"/>
<line x1="293.5" y1="64.4" x2="329.1" y2="73.7" stroke="#e6e6e6" stroke-width="0.3"/>
<line x1="233.5" y1="72.2" x2="275.6" y2="93.4" stroke="#e6e6e6" stroke-width="0.3"/>
<line x1="233.5" y1="72.2" x2="217.6" y2="79.0" stroke="#e6e6e6" stroke-width="0.3"/>
<line x1="286.9" y1="79.5" x2="305.6" y2="56.7" stroke="#e6e6e6" stroke-width="0.3"/>
<line x1="286.9" y1="79.5" x2="313.9" y2="74.1" stroke="#e6e6e6" stroke-width="0.3"/>
<line x1="286.9" y1="79.5" x2="252.0" y2="75.3" stroke="#e6e6e6" stroke-width="0.3"/>
<line x1="286.9" y1="79.5" x2="234.0" y2="86.1" stroke="#e6e6e6" stroke-width="0.3"/>
<line x1="286.9" y1="79.5" x2="333.7" y2="56.7" stroke="#e6e6e6" stroke-width="0.3"/>
<line x1="261.7" y1="92.4" x2="289.4" y2="94.2" stroke="#e6e6e6" stroke-width="0.3"/>
<line x1="261.7" y1="92.4" x2="217.6" y2="79.0" stroke="#e6e6e6" stroke-width="0.3"/>
<line x1="261.7" y1="92.4" x2="255.7" y2="33.3" stroke="#e6e6e6" stroke-width="0.3"/>
<line x1="275.6" y1="93.4" x2="278.3" y2="30.2" stroke="#e6e6e6" stroke-width="0.3"/>
<line x1="275.6" y1="93.4" x2="319.6" y2="58.3" stroke="#e6e6e6" stroke-width="0.3"/>
<line x1="275.6" y1="93.4" x2="330.4" y2="89.3" stroke="#e6e6e6" stroke-width="0.3"/>
<line x1="275.6" y1="93.4" x2="230.2" y2="55.1" stroke="#e6e6e6" stroke-width="0.3"/>
<line x1="275.6" y1="93.4" x2="301.4" y2="79.0" stroke="#e6e6e6" stroke-width="0.3"/>
<line x1="275.6" y1="93.4" x2="248.6" y2="90.4" stroke="#e6e6e6" stroke-width="0.3"/>
<line x1="275.6" y1="93.4" x2="255.7" y2="33.3" stroke="#e6e6e6" stroke-width="0.3"/>
<line x1="275.6" y1="93.4" x2="329.1" y2="73.7" stroke="#e6e6e6" stroke-width="0.3"/>
<line x1="289.4" y1="94.2" x2="322.9" y2="41.8" stroke="#e6e6e6" stroke-width="0.3"/>
<line x1="289.4" y1="94.2" x2="346.0" y2="65.6" stroke="#e6e6e6" stroke-width="0.3"/>
<line x1="289.4" y1="94.2" x2="270.5" y2="77.8" stroke="#e6e6e6" stroke-width="0.3"/>
<line x1="289.4" y1="94.2" x2="313.9" y2="74.1" stroke="#e6e6e6" stroke-width="0.3"/>
<line x1="289.4" y1="94.2" x2="252.0" y2="75.3" stroke="#e6e6e6" stroke-width="0.3"/>
<line x1="278.3" y1="30.2" x2="307.5" y2="41.8" stroke="#e6e6e6" stroke-width="0.3"/>
<line x1="278.3" y1="30.2" x2="319.6" y2="58.3" stroke="#e6e6e6" stroke-width="0.3"/>
<line x1="278.3" y1="30.2" x2="343.1" y2="45.2" stroke="#e6e6e6" stroke-width="0.3"/>
<line x1="291.6" y1="35.8" x2="357.4" y2="54.0" stroke="#e6e6e6" stroke-width="0.3"/>
<line x1="291.6" y1="35.8" x2="346.0" y2="65.6" stroke="#e6e6e6" stroke-width="0.3"/>
<line x1="291.6" y1="35.8" x2="343.9" y2="79.9" stroke="#e6e6e6" stroke-width="0.3"/>
<line x1="291.6" y1="35.8" x2="230.2" y2="55.1" stroke="#e6e6e6" stroke-width="0.3"/>
<line x1="291.6" y1="35.8" x2="252.0" y2="75.3" stroke="#e6e6e6" stroke-width="0.3"/>
<line x1="332.6" y1="31.6" x2="319.6" y2="58.3" stroke="#e6e6e6" stroke-width="0.3"/>
<line x1="332.6" y1="31.6" x2="343.9" y2="79.9" stroke="#e6e6e6" stroke-width="0.3"/>
<line x1="332.6" y1="31.6" x2="346.6" y2="89.9" stroke="#e6e6e6" stroke-width="0.3"/>
<line x1="332.6" y1="31.6" x2="319.1" y2="95.3" stroke="#e6e6e6" stroke-width="0.3"/>
<line x1="332.6" y1="31.6" x2="306.7" y2="28.9" stroke="#e6e6e6" stroke-width="0.3"/>
<line x1="352.5" y1="36.1" x2="307.5" y2="41.8" stroke="#e6e6e6" stroke-width="0.3"/>
<line x1="352.5" y1="36.1" x2="357.4" y2="54.0" stroke="#e6e6e6" stroke-width="0.3"/>
<line x1="352.5" y1="36.1" x2="330.4" y2="89.3" stroke="#e6e6e6" stroke-width="0.3"/>
<line x1="352.5" y1="36.1" x2="329.1" y2="73.7" stroke="#e6e6e6" stroke-width="0.3"/>
<line x1="352.5" y1="36.1" x2="364.9" y2="85.8" stroke="#e6e6e6" stroke-width="0.3"/>
<line x1="369.5" y1="42.9" x2="322.9" y2="41.8" stroke="#e6e6e6" stroke-width="0.3"/>
<line x1="369.5" y1="42.9" x2="343.9" y2="79.9" stroke="#e6e6e6" stroke-width="0.3"/>
<line x1="369.5" y1="42.9" x2="313.9" y2="74.1" stroke="#e6e6e6" stroke-width="0.3"/>
<line x1="369.5" y1="42.9" x2="388.4" y2="67.0" stroke="#e6e6e6" stroke-width="0.3"/>
<line x1="307.5" y1="41.8" x2="244.0" y2="58.4" stroke="#e6e6e6" stroke-width="0.3"/>
<line x1="307.5" y1="41.8" x2="270.5" y2="77.8" stroke="#e6e6e6" stroke-width="0.3"/>
<line x1="307.5" y1="41.8" x2="301.4" y2="79.0" stroke="#e6e6e6" stroke-width="0.3"/>
<line x1="307.5" y1="41.8" x2="252.0" y2="75.3" stroke="#e6e6e6" stroke-width="0.3"/>
<line x1="322.9" y1="41.8" x2="346.0" y2="65.6" stroke="#e6e6e6" stroke-width="0.3"/>
<line x1="322.9" y1="41.8" x2="346.6" y2="89.9" stroke="#e6e6e6" stroke-width="0.3"/>
<line x1="322.9" y1="41.8" x2="269.5" y2="40.2" stroke="#e6e6e6" stroke-width="0.3"/>
<line x1="322.9" y1="41.8" x2="329.1" y2="73.7" stroke="#e6e6e6" stroke-width="0.3"/>
<line x1="319.6" y1="58.3" x2="330.4" y2="89.3" stroke="#e6e6e6" stroke-width="0.3"/>
<line x1="319.6" y1="58.3" x2="346.6" y2="89.9" stroke="#e6e6e6" stroke-width="0.3"/>
<line x1="319.6" y1="58.3" x2="306.7" y2="28.9" stroke="#e6e6e6" stroke-width="0.3"/>
<line x1="319.6" y1="58.3" x2="301.4" y2="79.0" stroke="#e6e6e6" stroke-width="0.3"/>
<line x1="319.6" y1="58.3" x2="269.5" y2="40.2" stroke="#e6e6e6" stroke-width="0.3"/>
<line x1="357.4" y1="54.0" x2="346.6" y2="89.9" stroke="#e6e6e6" stroke-width="0.3"/>
<line x1="357.4" y1="54.0" x2="304.8" y2="93.9" stroke="#e6e6e6" stroke-width="0.3"/>
<line x1="384.3" y1="52.1" x2="346.6" y2="89.9" stroke="#e6e6e6" stroke-width="0.3"/>
<line x1="384.3" y1="52.1" x2="364.9" y2="85.8" stroke="#e6e6e6" stroke-width="0.3"/>
<line x1="346.0" y1="65.6" x2="378.4" y2="76.4" stroke="#e6e6e6" stroke-width="0.3"/>
<line x1="359.5" y1="73.7" x2="304.8" y2="93.9" stroke="#e6e6e6" stroke-width="0.3"/>
<line x1="359.5" y1="73.7" x2="306.7" y2="28.9" stroke="#e6e6e6" stroke-width="0.3"/>
<line x1="359.5" y1="73.7" x2="305.6" y2="56.7" stroke="#e6e6e6" stroke-width="0.3"/>
<line x1="378.4" y1="76.4" x2="319.1" y2="95.3" stroke="#e6e6e6" stroke-width="0.3"/>
<line x1="378.4" y1="76.4" x2="333.7" y2="56.7" stroke="#e6e6e6" stroke-width="0.3"/>
<line x1="343.9" y1="79.9" x2="313.9" y2="74.1" stroke="#e6e6e6" stroke-width="0.3"/>
<line x1="343.9" y1="79.9" x2="301.4" y2="79.0" stroke="#e6e6e6" stroke-width="0.3"/>
<line x1="343.9" y1="79.9" x2="364.9" y2="85.8" stroke="#e6e6e6" stroke-width="0.3"/>
<line x1="330.4" y1="89.3" x2="305.6" y2="56.7" stroke="#e6e6e6" stroke-width="0.3"/>
<line x1="330.4" y1="89.3" x2="313.9" y2="74.1" stroke="#e6e6e6" stroke-width="0.3"/>
<line x1="346.6" y1="89.9" x2="343.1" y2="45.2" stroke="#e6e6e6" stroke-width="0.3"/>
<line x1="346.6" y1="89.9" x2="388.4" y2="67.0" stroke="#e6e6e6" stroke-width="0.3"/>
<line x1="304.8" y1="93.9" x2="270.5" y2="77.8" stroke="#e6e6e6" stroke-width="0.3"/>
<line x1="304.8" y1="93.9" x2="306.7" y2="28.9" stroke="#e6e6e6" stroke-width="0.3"/>
<line x1="304.8" y1="93.9" x2="248.6" y2="90.4" stroke="#e6e6e6" stroke-width="0.3"/>
<line x1="319.1" y1="95.3" x2="370.9" y2="61.6" stroke="#e6e6e6" stroke-width="0.3"/>
<line x1="204.5" y1="64.5" x2="234.0" y2="86.1" stroke="#e6e6e6" stroke-width="0.3"/>
<line x1="270.5" y1="77.8" x2="305.6" y2="56.7" stroke="#e6e6e6" stroke-width="0.3"/>
<line x1="270.5" y1="77.8" x2="217.6" y2="79.0" stroke="#e6e6e6" stroke-width="0.3"/>
<line x1="270.5" y1="77.8" x2="234.0" y2="86.1" stroke="#e6e6e6" stroke-width="0.3"/>
<line x1="270.5" y1="77.8" x2="248.6" y2="90.4" stroke="#e6e6e6" stroke-width="0.3"/>
<line x1="306.7" y1="28.9" x2="333.7" y2="56.7" stroke="#e6e6e6" stroke-width="0.3"/>
<line x1="343.1" y1="45.2" x2="370.9" y2="61.6" stroke="#e6e6e6" stroke-width="0.3"/>
<line x1="305.6" y1="56.7" x2="313.9" y2="74.1" stroke="#e6e6e6" stroke-width="0.3"/>
<line x1="305.6" y1="56.7" x2="370.9" y2="61.6" stroke="#e6e6e6" stroke-width="0.3"/>
<line x1="313.9" y1="74.1" x2="333.7" y2="56.7" stroke="#e6e6e6" stroke-width="0.3"/>
<line x1="301.4" y1="79.0" x2="252.0" y2="75.3" stroke="#e6e6e6" stroke-width="0.3"/>
<line x1="301.4" y1="79.0" x2="234.0" y2="86.1" stroke="#e6e6e6" stroke-width="0.3"/>
<line x1="301.4" y1="79.0" x2="248.6" y2="90.4" stroke="#e6e6e6" stroke-width="0.3"/>
<line x1="217.6" y1="79.0" x2="255.7" y2="33.3" stroke="#e6e6e6" stroke-width="0.3"/>
<line x1="248.6" y1="90.4" x2="255.7" y2="33.3" stroke="#e6e6e6" stroke-width="0.3"/>
<ellipse cx="219.0" cy="65.3" rx="4.08" ry="3.47" fill="#d3d3d3"/>
<text x="219.0" y="66.24" font-size="2.70" fill="#333" text-anchor="middle">MYC</text>
<ellipse cx="214.7" cy="49.5" rx="3.03" ry="2.15" fill="#d3d3d3"/>
<text x="214.7" y="50.38" font-size="2.50" fill="#333" text-anchor="middle">UBC</text>
<ellipse cx="258.0" cy="61.4" rx="5.72" ry="5.50" fill="#d3d3d3"/>
<text x="258.0" y="62.52" font-size="3.20" fill="#333" text-anchor="middle">UBC</text>
<ellipse cx="232.0" cy="40.3" rx="2.78" ry="1.97" fill="#d3d3d3"/>
<text x="232.0" y="41.17" font-size="2.50" fill="#333" text-anchor="middle">SMAD4</text>
<ellipse cx="249.0" cy="44.6" rx="3.03" ry="2.15" fill="#d3d3d3"/>
<text x="249.0" y="45.48" font-size="2.50" fill="#333" text-anchor="middle">CTNNB1</text>
<ellipse cx="271.3" cy="53.9" rx="5.15" ry="4.95" fill="#d3d3d3"/>
<text x="271.3" y="55.02" font-size="3.20" fill="#333" text-anchor="middle">RB1</text>
<ellipse cx="288.7" cy="50.6" rx="6.29" ry="6.05" fill="#d3d3d3"/>
<text x="288.7" y="51.72" font-size="3.20" fill="#333" text-anchor="middle">CEBPB</text>
<ellipse cx="276.8" cy="65.7" rx="4.58" ry="4.40" fill="#d3d3d3"/>
<text x="276.8" y="66.78" font-size="3.08" fill="#333" text-anchor="middle">EP300</text>
<ellipse cx="293.5" cy="64.4" rx="5.15" ry="4.95" fill="#d3d3d3"/>
<text x="293.5" y="65.52" font-size="3.20" fill="#333" text-anchor="middle">SIN3A</text>
<ellipse cx="233.5" cy="72.2" rx="2.78" ry="1.97" fill="#d3d3d3"/>
<text x="233.5" y="73.08" font-size="2.50" fill="#333" text-anchor="middle">RARA</text>
<ellipse cx="286.9" cy="79.5" rx="5.15" ry="4.95" fill="#d3d3d3"/>
<text x="286.9" y="80.62" font-size="3.20" fill="#333" text-anchor="middle">MYC</text>
<ellipse cx="261.7" cy="92.4" rx="3.03" ry="2.15" fill="#d3d3d3"/>
<text x="261.7" y="93.28" font-size="2.50" fill="#333" text-anchor="middle">NCOA1</text>
<ellipse cx="275.6" cy="93.4" rx="4.08" ry="3.47" fill="#d3d3d3"/>
<text x="275.6" y="94.34" font-size="2.70" fill="#333" text-anchor="middle">VDR</text>
<ellipse cx="289.4" cy="94.2" rx="4.58" ry="4.40" fill="#d3d3d3"/>
<text x="289.4" y="95.28" font-size="3.08" fill="#333" text-anchor="middle">JUN</text>
<ellipse cx="278.3" cy="30.2" rx="5.03" ry="4.84" fill="#d3d3d3"/>
<text x="278.3" y="31.32" font-size="3.20" fill="#333" text-anchor="middle">GATA1</text>
<ellipse cx="291.6" cy="35.8" rx="4.35" ry="4.18" fill="#d3d3d3"/>
<text x="291.6" y="36.82" font-size="2.93" fill="#333" text-anchor="middle">SUZ12</text>
<ellipse cx="332.6" cy="31.6" rx="4.08" ry="3.47" fill="#d3d3d3"/>
<text x="332.6" y="32.54" font-size="2.70" fill="#333" text-anchor="middle">RUNX1</text>
<ellipse cx="352.5" cy="36.1" rx="4.58" ry="4.40" fill="#d3d3d3"/>
<text x="352.5" y="37.18" font-size="3.08" fill="#333" text-anchor="middle">UBC</text>
<ellipse cx="369.5" cy="42.9" rx="5.15" ry="4.95" fill="#d3d3d3"/>
<text x="369.5" y="44.02" font-size="3.20" fill="#333" text-anchor="middle">RARA</text>
<ellipse cx="307.5" cy="41.8" rx="5.15" ry="4.95" fill="#d3d3d3"/>
<text x="307.5" y="42.92" font-size="3.20" fill="#333" text-anchor="middle">MED1</text>
<ellipse cx="322.9" cy="41.8" rx="5.15" ry="4.95" fill="#d3d3d3"/>
<text x="322.9" y="42.92" font-size="3.20" fill="#333" text-anchor="middle">EZH2</text>
<ellipse cx="319.6" cy="58.3" rx="4.08" ry="3.47" fill="#d3d3d3"/>
<text x="319.6" y="59.24" font-size="2.70" fill="#333" text-anchor="middle">VDR</text>
<ellipse cx="357.4" cy="54.0" rx="5.15" ry="4.95" fill="#d3d3d3"/>
<text x="357.4" y="55.12" font-size="3.20" fill="#333" text-anchor="middle">FOS</text>
<ellipse cx="384.3" cy="52.1" rx="3.50" ry="2.97" fill="#d3d3d3"/>
<text x="384.3" y="52.98" font-size="2.50" fill="#333" text-anchor="middle">RB1</text>
<ellipse cx="346.0" cy="65.6" rx="5.72" ry="5.50" fill="#d3d3d3"/>
<text x="346.0" y="66.72" font-size="3.20" fill="#333" text-anchor="middle">CREBBP</text>
<ellipse cx="359.5" cy="73.7" rx="4.58" ry="4.40" fill="#d3d3d3"/>
<text x="359.5" y="74.78" font-size="3.08" fill="#333" text-anchor="middle">EZH2</text>
<ellipse cx="378.4" cy="76.4" rx="6.29" ry="6.05" fill="#d3d3d3"/>
<text x="378.4" y="77.52" font-size="3.20" fill="#333" text-anchor="middle">NCOA1</text>
<ellipse cx="343.9" cy="79.9" rx="3.50" ry="2.97" fill="#d3d3d3"/>
<text x="343.9" y="80.78" font-size="2.50" fill="#333" text-anchor="middle">SPI1</text>
<ellipse cx="330.4" cy="89.3" rx="5.15" ry="4.95" fill="#d3d3d3"/>
<text x="330.4" y="90.42" font-size="3.20" fill="#333" text-anchor="middle">STAT3</text>
<ellipse cx="346.6" cy="89.9" rx="3.50" ry="2.97" fill="#d3d3d3"/>
<text x="346.6" y="90.78" font-size="2.50" fill="#333" text-anchor="middle">SMAD3</text>
<ellipse cx="304.8" cy="93.9" rx="5.15" ry="4.95" fill="#d3d3d3"/>
<text x="304.8" y="95.02" font-size="3.20" fill="#333" text-anchor="middle">TP53</text>
<ellipse cx="319.1" cy="95.3" rx="5.15" ry="4.95" fill="#d3d3d3"/>
<text x="319.1" y="96.42" font-size="3.20" fill="#333" text-anchor="middle">HDAC1</text>
<circle cx="204.5" cy="64.5" r="3.20" fill="#e8436b"/>
<text x="204.5" y="65.38" font-size="2.50" fill="#6a1028" text-anchor="middle">NCOA1</text>
<circle cx="230.2" cy="55.1" r="3.20" fill="#e8436b"/>
<text x="230.2" y="55.98" font-size="2.50" fill="#6a1028" text-anchor="middle">SMAD4</text>
<circle cx="244.0" cy="58.4" r="3.70" fill="#e8436b"/>
<text x="244.0" y="59.31" font-size="2.59" fill="#6a1028" text-anchor="middle">MYC</text>
<circle cx="270.5" cy="77.8" r="4.00" fill="#e8436b"/>
<text x="270.5" y="78.78" font-size="2.80" fill="#6a1028" text-anchor="middle">RUNX1</text>
<circle cx="306.7" cy="28.9" r="4.00" fill="#e8436b"/>
<text x="306.7" y="29.88" font-size="2.80" fill="#6a1028" text-anchor="middle">NCOR2</text>
<circle cx="343.1" cy="45.2" r="3.00" fill="#e8436b"/>
<text x="343.1" y="46.08" font-size="2.50" fill="#6a1028" text-anchor="middle">HDAC2</text>
<circle cx="305.6" cy="56.7" r="5.50" fill="#e8436b"/>
<text x="305.6" y="57.82" font-size="3.20" fill="#6a1028" text-anchor="middle">HDAC2</text>
<circle cx="313.9" cy="74.1" r="6.00" fill="#e8436b"/>
<text x="313.9" y="75.22" font-size="3.20" fill="#6a1028" text-anchor="middle">SIRT1</text>
<circle cx="301.4" cy="79.0" r="5.80" fill="#e8436b"/>
<text x="301.4" y="80.12" font-size="3.20" fill="#6a1028" text-anchor="middle">TCF3</text>
<ellipse cx="252.0" cy="75.3" rx="2.8" ry="1.6" fill="#dcdcdc"/>
<text x="252.0" y="75.90" font-size="2.5" fill="#555" text-anchor="middle">SIRT1</text>
<ellipse cx="217.6" cy="79.0" rx="2.8" ry="1.6" fill="#dcdcdc"/>
<text x="217.6" y="79.60" font-size="2.5" fill="#555" text-anchor="middle">CTNNB1</text>
<ellipse cx="234.0" cy="86.1" rx="2.8" ry="1.6" fill="#dcdcdc"/>
<text x="234.0" y="86.70" font-size="2.5" fill="#555" text-anchor="middle">FOS</text>
<ellipse cx="248.6" cy="90.4" rx="2.8" ry="1.6" fill="#dcdcdc"/>
<text x="248.6" y="91.00" font-size="2.5" fill="#555" text-anchor="middle">FOS</text>
<ellipse cx="255.7" cy="33.3" rx="2.8" ry="1.6" fill="#dcdcdc"/>
<text x="255.7" y="33.90" font-size="2.5" fill="#555" text-anchor="middle">EP300</text>
<ellipse cx="269.5" cy="40.2" rx="2.8" ry="1.6" fill="#dcdcdc"/>
<text x="269.5" y="40.80" font-size="2.5" fill="#555" text-anchor="middle">STAT3</text>
<ellipse cx="333.7" cy="56.7" rx="2.8" ry="1.6" fill="#dcdcdc"/>
<text x="333.7" y="57.30" font-size="2.5" fill="#555" text-anchor="middle">MYC</text>
<ellipse cx="370.9" cy="61.6" rx="2.8" ry="1.6" fill="#dcdcdc"/>
<text x="370.9" y="62.20" font-size="2.5" fill="#555" text-anchor="middle">SMAD3</text>
<ellipse cx="388.4" cy="67.0" rx="2.8" ry="1.6" fill="#dcdcdc"/>
<text x="388.4" y="67.60" font-size="2.5" fill="#555" text-anchor="middle">MYC</text>
<ellipse cx="329.1" cy="73.7" rx="2.8" ry="1.6" fill="#dcdcdc"/>
<text x="329.1" y="74.30" font-size="2.5" fill="#555" text-anchor="middle">MYC</text>
<ellipse cx="364.9" cy="85.8" rx="2.8" ry="1.6" fill="#dcdcdc"/>
<text x="364.9" y="86.40" font-size="2.5" fill="#555" text-anchor="middle">KAT5</text>
<line x1="259.6" y1="149.7" x2="237.5" y2="203.4" stroke="rgba(85,185,85,0.6)" stroke-width="0.45"/>
<line x1="259.6" y1="149.7" x2="261.9" y2="199.2" stroke="rgba(85,185,85,0.6)" stroke-width="0.45"/>
<line x1="259.6" y1="149.7" x2="275.1" y2="196.3" stroke="rgba(85,185,85,0.6)" stroke-width="0.45"/>
<line x1="259.6" y1="149.7" x2="289.5" y2="196.6" stroke="rgba(85,185,85,0.6)" stroke-width="0.45"/>
<line x1="259.6" y1="149.7" x2="300.8" y2="201.1" stroke="rgba(85,185,85,0.6)" stroke-width="0.45"/>
<line x1="259.6" y1="149.7" x2="312.6" y2="195.1" stroke="rgba(85,185,85,0.6)" stroke-width="0.45"/>
<line x1="259.6" y1="149.7" x2="353.3" y2="197.5" stroke="rgba(85,185,85,0.6)" stroke-width="0.45"/>
<line x1="259.6" y1="149.7" x2="313.7" y2="207.0" stroke="rgba(85,185,85,0.6)" stroke-width="0.45"/>
<line x1="259.6" y1="149.7" x2="326.4" y2="208.3" stroke="rgba(85,185,85,0.6)" stroke-width="0.45"/>
<line x1="259.6" y1="149.7" x2="237.0" y2="215.5" stroke="rgba(85,185,85,0.6)" stroke-width="0.45"/>
<line x1="259.6" y1="149.7" x2="264.4" y2="219.9" stroke="rgba(85,185,85,0.6)" stroke-width="0.45"/>
<line x1="259.6" y1="149.7" x2="270.6" y2="208.4" stroke="rgba(85,185,85,0.6)" stroke-width="0.45"/>
<line x1="259.6" y1="149.7" x2="298.5" y2="216.0" stroke="rgba(85,185,85,0.6)" stroke-width="0.45"/>
<line x1="259.6" y1="149.7" x2="279.6" y2="219.0" stroke="rgba(85,185,85,0.6)" stroke-width="0.45"/>
<line x1="259.6" y1="149.7" x2="339.0" y2="216.4" stroke="rgba(85,185,85,0.6)" stroke-width="0.45"/>
<line x1="259.6" y1="149.7" x2="379.0" y2="228.0" stroke="rgba(85,185,85,0.6)" stroke-width="0.45"/>
<line x1="259.6" y1="149.7" x2="279.6" y2="229.1" stroke="rgba(85,185,85,0.6)" stroke-width="0.45"/>
<line x1="259.6" y1="149.7" x2="303.8" y2="235.6" stroke="rgba(85,185,85,0.6)" stroke-width="0.45"/>
<line x1="259.6" y1="149.7" x2="334.2" y2="237.1" stroke="rgba(85,185,85,0.6)" stroke-width="0.45"/>
<line x1="273.9" y1="148.7" x2="237.5" y2="203.4" stroke="rgba(85,185,85,0.6)" stroke-width="0.45"/>
<line x1="273.9" y1="148.7" x2="249.8" y2="201.9" stroke="rgba(85,185,85,0.6)" stroke-width="0.45"/>
<line x1="273.9" y1="148.7" x2="261.9" y2="199.2" stroke="rgba(85,185,85,0.6)" stroke-width="0.45"/>
<line x1="273.9" y1="148.7" x2="275.1" y2="196.3" stroke="rgba(85,185,85,0.6)" stroke-width="0.45"/>
<line x1="273.9" y1="148.7" x2="289.5" y2="196.6" stroke="rgba(85,185,85,0.6)" stroke-width="0.45"/>
<line x1="273.9" y1="148.7" x2="312.6" y2="195.1" stroke="rgba(85,185,85,0.6)" stroke-width="0.45"/>
<line x1="273.9" y1="148.7" x2="330.4" y2="196.2" stroke="rgba(85,185,85,0.6)" stroke-width="0.45"/>
<line x1="273.9" y1="148.7" x2="313.7" y2="207.0" stroke="rgba(85,185,85,0.6)" stroke-width="0.45"/>
<line x1="273.9" y1="148.7" x2="326.4" y2="208.3" stroke="rgba(85,185,85,0.6)" stroke-width="0.45"/>
<line x1="273.9" y1="148.7" x2="237.0" y2="215.5" stroke="rgba(85,185,85,0.6)" stroke-width="0.45"/>
<line x1="273.9" y1="148.7" x2="270.6" y2="208.4" stroke="rgba(85,185,85,0.6)" stroke-width="0.45"/>
<line x1="273.9" y1="148.7" x2="287.2" y2="209.5" stroke="rgba(85,185,85,0.6)" stroke-width="0.45"/>
<line x1="273.9" y1="148.7" x2="329.0" y2="225.3" stroke="rgba(85,185,85,0.6)" stroke-width="0.45"/>
<line x1="273.9" y1="148.7" x2="237.8" y2="228.0" stroke="rgba(85,185,85,0.6)" stroke-width="0.45"/>
<line x1="273.9" y1="148.7" x2="288.7" y2="235.1" stroke="rgba(85,185,85,0.6)" stroke-width="0.45"/>
<line x1="273.9" y1="148.7" x2="303.8" y2="235.6" stroke="rgba(85,185,85,0.6)" stroke-width="0.45"/>
<line x1="273.9" y1="148.7" x2="318.3" y2="235.2" stroke="rgba(85,185,85,0.6)" stroke-width="0.45"/>
<line x1="284.8" y1="154.6" x2="237.5" y2="203.4" stroke="rgba(85,185,85,0.6)" stroke-width="0.45"/>
<line x1="284.8" y1="154.6" x2="249.8" y2="201.9" stroke="rgba(85,185,85,0.6)" stroke-width="0.45"/>
<line x1="284.8" y1="154.6" x2="261.9" y2="199.2" stroke="rgba(85,185,85,0.6)" stroke-width="0.45"/>
<line x1="284.8" y1="154.6" x2="275.1" y2="196.3" stroke="rgba(85,185,85,0.6)" stroke-width="0.45"/>
<line x1="284.8" y1="154.6" x2="289.5" y2="196.6" stroke="rgba(85,185,85,0.6)" stroke-width="0.45"/>
<line x1="284.8" y1="154.6" x2="300.8" y2="201.1" stroke="rgba(85,185,85,0.6)" stroke-width="0.45"/>
<line x1="284.8" y1="154.6" x2="312.6" y2="195.1" stroke="rgba(85,185,85,0.6)" stroke-width="0.45"/>
<line x1="284.8" y1="154.6" x2="353.3" y2="197.5" stroke="rgba(85,185,85,0.6)" stroke-width="0.45"/>
<line x1="284.8" y1="154.6" x2="313.7" y2="207.0" stroke="rgba(85,185,85,0.6)" stroke-width="0.45"/>
<line x1="284.8" y1="154.6" x2="378.4" y2="204.8" stroke="rgba(85,185,85,0.6)" stroke-width="0.45"/>
<line x1="284.8" y1="154.6" x2="298.5" y2="216.0" stroke="rgba(85,185,85,0.6)" stroke-width="0.45"/>
<line x1="284.8" y1="154.6" x2="339.0" y2="216.4" stroke="rgba(85,185,85,0.6)" stroke-width="0.45"/>
<line x1="284.8" y1="154.6" x2="303.5" y2="225.0" stroke="rgba(85,185,85,0.6)" stroke-width="0.45"/>
<line x1="284.8" y1="154.6" x2="263.8" y2="232.9" stroke="rgba(85,185,85,0.6)" stroke-width="0.45"/>
<line x1="296.9" y1="150.7" x2="237.5" y2="203.4" stroke="rgba(85,185,85,0.6)" stroke-width="0.45"/>
<line x1="296.9" y1="150.7" x2="249.8" y2="201.9" stroke="rgba(85,185,85,0.6)" stroke-width="0.45"/>
<line x1="296.9" y1="150.7" x2="261.9" y2="199.2" stroke="rgba(85,185,85,0.6)" stroke-width="0.45"/>
<line x1="296.9" y1="150.7" x2="275.1" y2="196.3" stroke="rgba(85,185,85,0.6)" stroke-width="0.45"/>
<line x1="296.9" y1="150.7" x2="289.5" y2="196.6" stroke="rgba(85,185,85,0.6)" stroke-width="0.45"/>
<line x1="296.9" y1="150.7" x2="312.6" y2="195.1" stroke="rgba(85,185,85,0.6)" stroke-width="0.45"/>
<line x1="296.9" y1="150.7" x2="330.4" y2="196.2" stroke="rgba(85,185,85,0.6)" stroke-width="0.45"/>
<line x1="296.9" y1="150.7" x2="353.3" y2="197.5" stroke="rgba(85,185,85,0.6)" stroke-width="0.45"/>
<line x1="296.9" y1="150.7" x2="378.4" y2="204.8" stroke="rgba(85,185,85,0.6)" stroke-width="0.45"/>
<line x1="296.9" y1="150.7" x2="287.2" y2="209.5" stroke="rgba(85,185,85,0.6)" stroke-width="0.45"/>
<line x1="296.9" y1="150.7" x2="312.9" y2="207.5" stroke="rgba(85,185,85,0.6)" stroke-width="0.45"/>
<line x1="296.9" y1="150.7" x2="279.6" y2="219.0" stroke="rgba(85,185,85,0.6)" stroke-width="0.45"/>
<line x1="296.9" y1="150.7" x2="339.0" y2="216.4" stroke="rgba(85,185,85,0.6)" stroke-width="0.45"/>
<line x1="296.9" y1="150.7" x2="237.8" y2="228.0" stroke="rgba(85,185,85,0.6)" stroke-width="0.45"/>
<line x1="296.9" y1="150.7" x2="251.0" y2="228.8" stroke="rgba(85,185,85,0.6)" stroke-width="0.45"/>
<line x1="296.9" y1="150.7" x2="288.7" y2="235.1" stroke="rgba(85,185,85,0.6)" stroke-width="0.45"/>
<line x1="296.9" y1="150.7" x2="303.8" y2="235.6" stroke="rgba(85,185,85,0.6)" stroke-width="0.45"/>
<line x1="296.9" y1="150.7" x2="369.0" y2="215.0" stroke="rgba(85,185,85,0.6)" stroke-width="0.45"/>
<line x1="307.5" y1="153.8" x2="237.5" y2="203.4" stroke="rgba(85,185,85,0.6)" stroke-width="0.45"/>
<line x1="307.5" y1="153.8" x2="249.8" y2="201.9" stroke="rgba(85,185,85,0.6)" stroke-width="0.45"/>
<line x1="307.5" y1="153.8" x2="261.9" y2="199.2" stroke="rgba(85,185,85,0.6)" stroke-width="0.45"/>
<line x1="307.5" y1="153.8" x2="289.5" y2="196.6" stroke="rgba(85,185,85,0.6)" stroke-width="0.45"/>
<line x1="307.5" y1="153.8" x2="300.8" y2="201.1" stroke="rgba(85,185,85,0.6)" stroke-width="0.45"/>
<line x1="307.5" y1="153.8" x2="312.6" y2="195.1" stroke="rgba(85,185,85,0.6)" stroke-width="0.45"/>
<line x1="307.5" y1="153.8" x2="330.4" y2="196.2" stroke="rgba(85,185,85,0.6)" stroke-width="0.45"/>
<line x1="307.5" y1="153.8" x2="353.3" y2="197.5" stroke="rgba(85,185,85,0.6)" stroke-width="0.45"/>
<line x1="307.5" y1="153.8" x2="340.7" y2="203.7" stroke="rgba(85,185,85,0.6)" stroke-width="0.45"/>
<line x1="307.5" y1="153.8" x2="313.7" y2="207.0" stroke="rgba(85,185,85,0.6)" stroke-width="0.45"/>
<line x1="307.5" y1="153.8" x2="326.4" y2="208.3" stroke="rgba(85,185,85,0.6)" stroke-width="0.45"/>
<line x1="307.5" y1="153.8" x2="353.3" y2="211.8" stroke="rgba(85,185,85,0.6)" stroke-width="0.45"/>
<line x1="307.5" y1="153.8" x2="252.1" y2="215.0" stroke="rgba(85,185,85,0.6)" stroke-width="0.45"/>
<line x1="307.5" y1="153.8" x2="287.2" y2="209.5" stroke="rgba(85,185,85,0.6)" stroke-width="0.45"/>
<line x1="307.5" y1="153.8" x2="298.5" y2="216.0" stroke="rgba(85,185,85,0.6)" stroke-width="0.45"/>
<line x1="307.5" y1="153.8" x2="318.3" y2="235.2" stroke="rgba(85,185,85,0.6)" stroke-width="0.45"/>
<line x1="307.5" y1="153.8" x2="347.7" y2="234.7" stroke="rgba(85,185,85,0.6)" stroke-width="0.45"/>
<line x1="307.5" y1="153.8" x2="369.0" y2="215.0" stroke="rgba(85,185,85,0.6)" stroke-width="0.45"/>
<line x1="319.0" y1="154.5" x2="289.5" y2="196.6" stroke="rgba(85,185,85,0.6)" stroke-width="0.45"/>
<line x1="319.0" y1="154.5" x2="300.8" y2="201.1" stroke="rgba(85,185,85,0.6)" stroke-width="0.45"/>
<line x1="319.0" y1="154.5" x2="312.6" y2="195.1" stroke="rgba(85,185,85,0.6)" stroke-width="0.45"/>
<line x1="319.0" y1="154.5" x2="330.4" y2="196.2" stroke="rgba(85,185,85,0.6)" stroke-width="0.45"/>
<line x1="319.0" y1="154.5" x2="353.3" y2="197.5" stroke="rgba(85,185,85,0.6)" stroke-width="0.45"/>
<line x1="319.0" y1="154.5" x2="340.7" y2="203.7" stroke="rgba(85,185,85,0.6)" stroke-width="0.45"/>
<line x1="319.0" y1="154.5" x2="313.7" y2="207.0" stroke="rgba(85,185,85,0.6)" stroke-width="0.45"/>
<line x1="319.0" y1="154.5" x2="326.4" y2="208.3" stroke="rgba(85,185,85,0.6)" stroke-width="0.45"/>
<line x1="319.0" y1="154.5" x2="224.9" y2="216.3" stroke="rgba(85,185,85,0.6)" stroke-width="0.45"/>
<line x1="319.0" y1="154.5" x2="237.0" y2="215.5" stroke="rgba(85,185,85,0.6)" stroke-width="0.45"/>
<line x1="319.0" y1="154.5" x2="287.2" y2="209.5" stroke="rgba(85,185,85,0.6)" stroke-width="0.45"/>
<line x1="319.0" y1="154.5" x2="312.9" y2="207.5" stroke="rgba(85,185,85,0.6)" stroke-width="0.45"/>
<line x1="319.0" y1="154.5" x2="298.5" y2="216.0" stroke="rgba(85,185,85,0.6)" stroke-width="0.45"/>
<line x1="319.0" y1="154.5" x2="279.6" y2="219.0" stroke="rgba(85,185,85,0.6)" stroke-width="0.45"/>
<line x1="319.0" y1="154.5" x2="316.6" y2="220.0" stroke="rgba(85,185,85,0.6)" stroke-width="0.45"/>
<line x1="319.0" y1="154.5" x2="349.8" y2="223.1" stroke="rgba(85,185,85,0.6)" stroke-width="0.45"/>
<line x1="319.0" y1="154.5" x2="303.5" y2="225.0" stroke="rgba(85,185,85,0.6)" stroke-width="0.45"/>
<line x1="319.0" y1="154.5" x2="251.0" y2="228.8" stroke="rgba(85,185,85,0.6)" stroke-width="0.45"/>
<line x1="319.0" y1="154.5" x2="263.8" y2="232.9" stroke="rgba(85,185,85,0.6)" stroke-width="0.45"/>
<line x1="319.0" y1="154.5" x2="334.2" y2="237.1" stroke="rgba(85,185,85,0.6)" stroke-width="0.45"/>
<line x1="319.0" y1="154.5" x2="366.8" y2="201.6" stroke="rgba(85,185,85,0.6)" stroke-width="0.45"/>
<line x1="328.6" y1="149.9" x2="237.5" y2="203.4" stroke="rgba(85,185,85,0.6)" stroke-width="0.45"/>
<line x1="328.6" y1="149.9" x2="249.8" y2="201.9" stroke="rgba(85,185,85,0.6)" stroke-width="0.45"/>
<line x1="328.6" y1="149.9" x2="261.9" y2="199.2" stroke="rgba(85,185,85,0.6)" stroke-width="0.45"/>
<line x1="328.6" y1="149.9" x2="275.1" y2="196.3" stroke="rgba(85,185,85,0.6)" stroke-width="0.45"/>
<line x1="328.6" y1="149.9" x2="289.5" y2="196.6" stroke="rgba(85,185,85,0.6)" stroke-width="0.45"/>
<line x1="328.6" y1="149.9" x2="300.8" y2="201.1" stroke="rgba(85,185,85,0.6)" stroke-width="0.45"/>
<line x1="328.6" y1="149.9" x2="312.6" y2="195.1" stroke="rgba(85,185,85,0.6)" stroke-width="0.45"/>
<line x1="328.6" y1="149.9" x2="330.4" y2="196.2" stroke="rgba(85,185,85,0.6)" stroke-width="0.45"/>
<line x1="328.6" y1="149.9" x2="353.3" y2="197.5" stroke="rgba(85,185,85,0.6)" stroke-width="0.45"/>
<line x1="328.6" y1="149.9" x2="340.7" y2="203.7" stroke="rgba(85,185,85,0.6)" stroke-width="0.45"/>
<line x1="328.6" y1="149.9" x2="313.7" y2="207.0" stroke="rgba(85,185,85,0.6)" stroke-width="0.45"/>
<line x1="328.6" y1="149.9" x2="326.4" y2="208.3" stroke="rgba(85,185,85,0.6)" stroke-width="0.45"/>
<line x1="328.6" y1="149.9" x2="270.6" y2="208.4" stroke="rgba(85,185,85,0.6)" stroke-width="0.45"/>
<line x1="328.6" y1="149.9" x2="339.0" y2="216.4" stroke="rgba(85,185,85,0.6)" stroke-width="0.45"/>
<line x1="328.6" y1="149.9" x2="329.0" y2="225.3" stroke="rgba(85,185,85,0.6)" stroke-width="0.45"/>
<line x1="328.6" y1="149.9" x2="288.7" y2="235.1" stroke="rgba(85,185,85,0.6)" stroke-width="0.45"/>
<line x1="328.6" y1="149.9" x2="363.1" y2="235.9" stroke="rgba(85,185,85,0.6)" stroke-width="0.45"/>
<line x1="328.6" y1="149.9" x2="366.8" y2="201.6" stroke="rgba(85,185,85,0.6)" stroke-width="0.45"/>
<line x1="340.0" y1="152.5" x2="275.1" y2="196.3" stroke="rgba(85,185,85,0.6)" stroke-width="0.45"/>
<line x1="340.0" y1="152.5" x2="289.5" y2="196.6" stroke="rgba(85,185,85,0.6)" stroke-width="0.45"/>
<line x1="340.0" y1="152.5" x2="300.8" y2="201.1" stroke="rgba(85,185,85,0.6)" stroke-width="0.45"/>
<line x1="340.0" y1="152.5" x2="312.6" y2="195.1" stroke="rgba(85,185,85,0.6)" stroke-width="0.45"/>
<line x1="340.0" y1="152.5" x2="330.4" y2="196.2" stroke="rgba(85,185,85,0.6)" stroke-width="0.45"/>
<line x1="340.0" y1="152.5" x2="353.3" y2="197.5" stroke="rgba(85,185,85,0.6)" stroke-width="0.45"/>
<line x1="340.0" y1="152.5" x2="340.7" y2="203.7" stroke="rgba(85,185,85,0.6)" stroke-width="0.45"/>
<line x1="340.0" y1="152.5" x2="326.4" y2="208.3" stroke="rgba(85,185,85,0.6)" stroke-width="0.45"/>
<line x1="340.0" y1="152.5" x2="353.3" y2="211.8" stroke="rgba(85,185,85,0.6)" stroke-width="0.45"/>
<line x1="340.0" y1="152.5" x2="378.4" y2="204.8" stroke="rgba(85,185,85,0.6)" stroke-width="0.45"/>
<line x1="340.0" y1="152.5" x2="312.9" y2="207.5" stroke="rgba(85,185,85,0.6)" stroke-width="0.45"/>
<line x1="340.0" y1="152.5" x2="279.6" y2="219.0" stroke="rgba(85,185,85,0.6)" stroke-width="0.45"/>
<line x1="340.0" y1="152.5" x2="316.6" y2="220.0" stroke="rgba(85,185,85,0.6)" stroke-width="0.45"/>
<line x1="340.0" y1="152.5" x2="349.8" y2="223.1" stroke="rgba(85,185,85,0.6)" stroke-width="0.45"/>
<line x1="340.0" y1="152.5" x2="279.6" y2="229.1" stroke="rgba(85,185,85,0.6)" stroke-width="0.45"/>
<line x1="340.0" y1="152.5" x2="288.7" y2="235.1" stroke="rgba(85,185,85,0.6)" stroke-width="0.45"/>
<line x1="340.0" y1="152.5" x2="318.3" y2="235.2" stroke="rgba(85,185,85,0.6)" stroke-width="0.45"/>
<line x1="340.0" y1="152.5" x2="363.1" y2="235.9" stroke="rgba(85,185,85,0.6)" stroke-width="0.45"/>
<line x1="340.0" y1="152.5" x2="366.8" y2="201.6" stroke="rgba(85,185,85,0.6)" stroke-width="0.45"/>
<line x1="340.0" y1="152.5" x2="369.0" y2="215.0" stroke="rgba(85,185,85,0.6)" stroke-width="0.45"/>
<line x1="340.0" y1="152.5" x2="390.3" y2="221.8" stroke="rgba(85,185,85,0.6)" stroke-width="0.45"/>
<line x1="340.0" y1="152.5" x2="365.5" y2="224.5" stroke="rgba(85,185,85,0.6)" stroke-width="0.45"/>
<line x1="351.7" y1="149.9" x2="261.9" y2="199.2" stroke="rgba(85,185,85,0.6)" stroke-width="0.45"/>
<line x1="351.7" y1="149.9" x2="289.5" y2="196.6" stroke="rgba(85,185,85,0.6)" stroke-width="0.45"/>
<line x1="351.7" y1="149.9" x2="330.4" y2="196.2" stroke="rgba(85,185,85,0.6)" stroke-width="0.45"/>
<line x1="351.7" y1="149.9" x2="353.3" y2="197.5" stroke="rgba(85,185,85,0.6)" stroke-width="0.45"/>
<line x1="351.7" y1="149.9" x2="340.7" y2="203.7" stroke="rgba(85,185,85,0.6)" stroke-width="0.45"/>
<line x1="351.7" y1="149.9" x2="313.7" y2="207.0" stroke="rgba(85,185,85,0.6)" stroke-width="0.45"/>
<line x1="351.7" y1="149.9" x2="326.4" y2="208.3" stroke="rgba(85,185,85,0.6)" stroke-width="0.45"/>
<line x1="351.7" y1="149.9" x2="353.3" y2="211.8" stroke="rgba(85,185,85,0.6)" stroke-width="0.45"/>
<line x1="351.7" y1="149.9" x2="252.1" y2="215.0" stroke="rgba(85,185,85,0.6)" stroke-width="0.45"/>
<line x1="351.7" y1="149.9" x2="312.9" y2="207.5" stroke="rgba(85,185,85,0.6)" stroke-width="0.45"/>
<line x1="351.7" y1="149.9" x2="316.6" y2="220.0" stroke="rgba(85,185,85,0.6)" stroke-width="0.45"/>
<line x1="351.7" y1="149.9" x2="339.0" y2="216.4" stroke="rgba(85,185,85,0.6)" stroke-width="0.45"/>
<line x1="351.7" y1="149.9" x2="349.8" y2="223.1" stroke="rgba(85,185,85,0.6)" stroke-width="0.45"/>
<line x1="351.7" y1="149.9" x2="379.0" y2="228.0" stroke="rgba(85,185,85,0.6)" stroke-width="0.45"/>
<line x1="351.7" y1="149.9" x2="347.7" y2="234.7" stroke="rgba(85,185,85,0.6)" stroke-width="0.45"/>
<line x1="351.7" y1="149.9" x2="366.8" y2="201.6" stroke="rgba(85,185,85,0.6)" stroke-width="0.45"/>
<line x1="351.7" y1="149.9" x2="388.4" y2="211.0" stroke="rgba(85,185,85,0.6)" stroke-width="0.45"/>
<line x1="351.7" y1="149.9" x2="369.0" y2="215.0" stroke="rgba(85,185,85,0.6)" stroke-width="0.45"/>
<line x1="364.2" y1="152.5" x2="300.8" y2="201.1" stroke="rgba(85,185,85,0.6)" stroke-width="0.45"/>
<line x1="364.2" y1="152.5" x2="330.4" y2="196.2" stroke="rgba(85,185,85,0.6)" stroke-width="0.45"/>
<line x1="364.2" y1="152.5" x2="353.3" y2="197.5" stroke="rgba(85,185,85,0.6)" stroke-width="0.45"/>
<line x1="364.2" y1="152.5" x2="340.7" y2="203.7" stroke="rgba(85,185,85,0.6)" stroke-width="0.45"/>
<line x1="364.2" y1="152.5" x2="378.4" y2="204.8" stroke="rgba(85,185,85,0.6)" stroke-width="0.45"/>
<line x1="364.2" y1="152.5" x2="312.9" y2="207.5" stroke="rgba(85,185,85,0.6)" stroke-width="0.45"/>
<line x1="364.2" y1="152.5" x2="298.5" y2="216.0" stroke="rgba(85,185,85,0.6)" stroke-width="0.45"/>
<line x1="364.2" y1="152.5" x2="329.0" y2="225.3" stroke="rgba(85,185,85,0.6)" stroke-width="0.45"/>
<line x1="364.2" y1="152.5" x2="366.8" y2="201.6" stroke="rgba(85,185,85,0.6)" stroke-width="0.45"/>
<line x1="364.2" y1="152.5" x2="365.5" y2="224.5" stroke="rgba(85,185,85,0.6)" stroke-width="0.45"/>
<line x1="237.5" y1="203.4" x2="237.0" y2="215.5" stroke="#e2e2e2" stroke-width="0.3"/>
<line x1="289.5" y1="196.6" x2="312.6" y2="195.1" stroke="#e2e2e2" stroke-width="0.3"/>
<line x1="289.5" y1="196.6" x2="287.2" y2="209.5" stroke="#e2e2e2" stroke-width="0.3"/>
<line x1="289.5" y1="196.6" x2="312.9" y2="207.5" stroke="#e2e2e2" stroke-width="0.3"/>
<line x1="300.8" y1="201.1" x2="313.7" y2="207.0" stroke="#e2e2e2" stroke-width="0.3"/>
<line x1="300.8" y1="201.1" x2="279.6" y2="219.0" stroke="#e2e2e2" stroke-width="0.3"/>
<line x1="312.6" y1="195.1" x2="326.4" y2="208.3" stroke="#e2e2e2" stroke-width="0.3"/>
<line x1="312.6" y1="195.1" x2="298.5" y2="216.0" stroke="#e2e2e2" stroke-width="0.3"/>
<line x1="353.3" y1="197.5" x2="378.4" y2="204.8" stroke="#e2e2e2" stroke-width="0.3"/>
<line x1="340.7" y1="203.7" x2="339.0" y2="216.4" stroke="#e2e2e2" stroke-width="0.3"/>
<line x1="313.7" y1="207.0" x2="326.4" y2="208.3" stroke="#e2e2e2" stroke-width="0.3"/>
<line x1="313.7" y1="207.0" x2="329.0" y2="225.3" stroke="#e2e2e2" stroke-width="0.3"/>
<line x1="326.4" y1="208.3" x2="312.9" y2="207.5" stroke="#e2e2e2" stroke-width="0.3"/>
<line x1="353.3" y1="211.8" x2="349.8" y2="223.1" stroke="#e2e2e2" stroke-width="0.3"/>
<line x1="252.1" y1="215.0" x2="279.6" y2="219.0" stroke="#e2e2e2" stroke-width="0.3"/>
<line x1="252.1" y1="215.0" x2="237.8" y2="228.0" stroke="#e2e2e2" stroke-width="0.3"/>
<line x1="264.4" y1="219.9" x2="279.6" y2="219.0" stroke="#e2e2e2" stroke-width="0.3"/>
<line x1="270.6" y1="208.4" x2="279.6" y2="219.0" stroke="#e2e2e2" stroke-width="0.3"/>
<line x1="270.6" y1="208.4" x2="263.8" y2="232.9" stroke="#e2e2e2" stroke-width="0.3"/>
<line x1="287.2" y1="209.5" x2="279.6" y2="229.1" stroke="#e2e2e2" stroke-width="0.3"/>
<line x1="316.6" y1="220.0" x2="303.8" y2="235.6" stroke="#e2e2e2" stroke-width="0.3"/>
<line x1="316.6" y1="220.0" x2="334.2" y2="237.1" stroke="#e2e2e2" stroke-width="0.3"/>
<line x1="339.0" y1="216.4" x2="318.3" y2="235.2" stroke="#e2e2e2" stroke-width="0.3"/>
<line x1="303.5" y1="225.0" x2="279.6" y2="229.1" stroke="#e2e2e2" stroke-width="0.3"/>
<line x1="263.8" y1="232.9" x2="288.7" y2="235.1" stroke="#e2e2e2" stroke-width="0.3"/>
<line x1="318.3" y1="235.2" x2="347.7" y2="234.7" stroke="#e2e2e2" stroke-width="0.3"/>
<line x1="347.7" y1="234.7" x2="363.1" y2="235.9" stroke="#e2e2e2" stroke-width="0.3"/>
<line x1="237.5" y1="203.4" x2="252.9" y2="267.6" stroke="rgba(170,215,170,0.55)" stroke-width="0.25"/>
<line x1="249.8" y1="201.9" x2="252.9" y2="267.6" stroke="rgba(170,215,170,0.55)" stroke-width="0.25"/>
<line x1="275.1" y1="196.3" x2="266.5" y2="273.3" stroke="rgba(170,215,170,0.55)" stroke-width="0.25"/>
<line x1="300.8" y1="201.1" x2="301.2" y2="272.6" stroke="rgba(170,215,170,0.55)" stroke-width="0.25"/>
<line x1="312.6" y1="195.1" x2="301.2" y2="272.6" stroke="rgba(170,215,170,0.55)" stroke-width="0.25"/>
<line x1="312.6" y1="195.1" x2="324.0" y2="268.4" stroke="rgba(170,215,170,0.55)" stroke-width="0.25"/>
<line x1="330.4" y1="196.2" x2="309.8" y2="264.5" stroke="rgba(170,215,170,0.55)" stroke-width="0.25"/>
<line x1="353.3" y1="197.5" x2="358.2" y2="264.0" stroke="rgba(170,215,170,0.55)" stroke-width="0.25"/>
<line x1="340.7" y1="203.7" x2="339.6" y2="267.2" stroke="rgba(170,215,170,0.55)" stroke-width="0.25"/>
<line x1="313.7" y1="207.0" x2="324.0" y2="268.4" stroke="rgba(170,215,170,0.55)" stroke-width="0.25"/>
<line x1="313.7" y1="207.0" x2="339.6" y2="267.2" stroke="rgba(170,215,170,0.55)" stroke-width="0.25"/>
<line x1="252.1" y1="215.0" x2="276.2" y2="263.1" stroke="rgba(170,215,170,0.55)" stroke-width="0.25"/>
<line x1="252.1" y1="215.0" x2="266.5" y2="273.3" stroke="rgba(170,215,170,0.55)" stroke-width="0.25"/>
<line x1="270.6" y1="208.4" x2="276.2" y2="263.1" stroke="rgba(170,215,170,0.55)" stroke-width="0.25"/>
<line x1="270.6" y1="208.4" x2="287.6" y2="273.3" stroke="rgba(170,215,170,0.55)" stroke-width="0.25"/>
<line x1="287.2" y1="209.5" x2="276.2" y2="263.1" stroke="rgba(170,215,170,0.55)" stroke-width="0.25"/>
<line x1="312.9" y1="207.5" x2="309.8" y2="264.5" stroke="rgba(170,215,170,0.55)" stroke-width="0.25"/>
<line x1="312.9" y1="207.5" x2="324.0" y2="268.4" stroke="rgba(170,215,170,0.55)" stroke-width="0.25"/>
<line x1="298.5" y1="216.0" x2="287.6" y2="273.3" stroke="rgba(170,215,170,0.55)" stroke-width="0.25"/>
<line x1="298.5" y1="216.0" x2="301.2" y2="272.6" stroke="rgba(170,215,170,0.55)" stroke-width="0.25"/>
<line x1="298.5" y1="216.0" x2="309.8" y2="264.5" stroke="rgba(170,215,170,0.55)" stroke-width="0.25"/>
<line x1="279.6" y1="219.0" x2="276.2" y2="263.1" stroke="rgba(170,215,170,0.55)" stroke-width="0.25"/>
<line x1="279.6" y1="219.0" x2="301.2" y2="272.6" stroke="rgba(170,215,170,0.55)" stroke-width="0.25"/>
<line x1="339.0" y1="216.4" x2="309.8" y2="264.5" stroke="rgba(170,215,170,0.55)" stroke-width="0.25"/>
<line x1="349.8" y1="223.1" x2="358.2" y2="264.0" stroke="rgba(170,215,170,0.55)" stroke-width="0.25"/>
<line x1="303.5" y1="225.0" x2="276.2" y2="263.1" stroke="rgba(170,215,170,0.55)" stroke-width="0.25"/>
<line x1="303.5" y1="225.0" x2="287.6" y2="273.3" stroke="rgba(170,215,170,0.55)" stroke-width="0.25"/>
<line x1="303.5" y1="225.0" x2="309.8" y2="264.5" stroke="rgba(170,215,170,0.55)" stroke-width="0.25"/>
<line x1="329.0" y1="225.3" x2="309.8" y2="264.5" stroke="rgba(170,215,170,0.55)" stroke-width="0.25"/>
<line x1="329.0" y1="225.3" x2="324.0" y2="268.4" stroke="rgba(170,215,170,0.55)" stroke-width="0.25"/>
<line x1="329.0" y1="225.3" x2="339.6" y2="267.2" stroke="rgba(170,215,170,0.55)" stroke-width="0.25"/>
<line x1="237.8" y1="228.0" x2="252.9" y2="267.6" stroke="rgba(170,215,170,0.55)" stroke-width="0.25"/>
<line x1="251.0" y1="228.8" x2="252.9" y2="267.6" stroke="rgba(170,215,170,0.55)" stroke-width="0.25"/>
<line x1="251.0" y1="228.8" x2="276.2" y2="263.1" stroke="rgba(170,215,170,0.55)" stroke-width="0.25"/>
<line x1="263.8" y1="232.9" x2="266.5" y2="273.3" stroke="rgba(170,215,170,0.55)" stroke-width="0.25"/>
<line x1="279.6" y1="229.1" x2="276.2" y2="263.1" stroke="rgba(170,215,170,0.55)" stroke-width="0.25"/>
<line x1="279.6" y1="229.1" x2="266.5" y2="273.3" stroke="rgba(170,215,170,0.55)" stroke-width="0.25"/>
<line x1="279.6" y1="229.1" x2="301.2" y2="272.6" stroke="rgba(170,215,170,0.55)" stroke-width="0.25"/>
<line x1="288.7" y1="235.1" x2="252.9" y2="267.6" stroke="rgba(170,215,170,0.55)" stroke-width="0.25"/>
<line x1="303.8" y1="235.6" x2="301.2" y2="272.6" stroke="rgba(170,215,170,0.55)" stroke-width="0.25"/>
<line x1="347.7" y1="234.7" x2="324.0" y2="268.4" stroke="rgba(170,215,170,0.55)" stroke-width="0.25"/>
<line x1="347.7" y1="234.7" x2="339.6" y2="267.2" stroke="rgba(170,215,170,0.55)" stroke-width="0.25"/>
<line x1="347.7" y1="234.7" x2="358.2" y2="264.0" stroke="rgba(170,215,170,0.55)" stroke-width="0.25"/>
<line x1="363.1" y1="235.9" x2="358.2" y2="264.0" stroke="rgba(170,215,170,0.55)" stroke-width="0.25"/>
<circle cx="259.6" cy="149.7" r="4.00" fill="#3d85c8"/>
<text x="259.6" y="150.68" font-size="2.80" fill="#1d4a78" text-anchor="middle">TCF3</text>
<circle cx="273.9" cy="148.7" r="4.00" fill="#3d85c8"/>
<text x="273.9" y="149.68" font-size="2.80" fill="#1d4a78" text-anchor="middle">HDAC2</text>
<circle cx="284.8" cy="154.6" r="5.50" fill="#3d85c8"/>
<text x="284.8" y="155.72" font-size="3.20" fill="#1d4a78" text-anchor="middle">ESR1</text>
<circle cx="296.9" cy="150.7" r="4.30" fill="#3d85c8"/>
<text x="296.9" y="151.75" font-size="3.01" fill="#1d4a78" text-anchor="middle">RARA</text>
<circle cx="307.5" cy="153.8" r="5.00" fill="#3d85c8"/>
<text x="307.5" y="154.92" font-size="3.20" fill="#1d4a78" text-anchor="middle">FOS</text>
<circle cx="319.0" cy="154.5" r="5.50" fill="#3d85c8"/>
<text x="319.0" y="155.62" font-size="3.20" fill="#1d4a78" text-anchor="middle">SPI1</text>
<circle cx="328.6" cy="149.9" r="4.00" fill="#3d85c8"/>
<text x="328.6" y="150.88" font-size="2.80" fill="#1d4a78" text-anchor="middle">EZH2</text>
<circle cx="340.0" cy="152.5" r="5.00" fill="#3d85c8"/>
<text x="340.0" y="153.62" font-size="3.20" fill="#1d4a78" text-anchor="middle">UBC</text>
<circle cx="351.7" cy="149.9" r="4.00" fill="#3d85c8"/>
<text x="351.7" y="150.88" font-size="2.80" fill="#1d4a78" text-anchor="middle">SMAD4</text>
<circle cx="364.2" cy="152.5" r="5.00" fill="#3d85c8"/>
<text x="364.2" y="153.62" font-size="3.20" fill="#1d4a78" text-anchor="middle">GATA1</text>
<ellipse cx="237.5" cy="203.4" rx="3.03" ry="2.15" fill="#d3d3d3"/>
<text x="237.5" y="204.28" font-size="2.50" fill="#333" text-anchor="middle">NCOR2</text>
<ellipse cx="249.8" cy="201.9" rx="3.03" ry="2.15" fill="#d3d3d3"/>
<text x="249.8" y="202.78" font-size="2.50" fill="#333" text-anchor="middle">KAT5</text>
<ellipse cx="261.9" cy="199.2" rx="4.58" ry="4.40" fill="#d3d3d3"/>
<text x="261.9" y="200.28" font-size="3.08" fill="#333" text-anchor="middle">CEBPB</text>
<ellipse cx="275.1" cy="196.3" rx="4.08" ry="3.47" fill="#d3d3d3"/>
<text x="275.1" y="197.24" font-size="2.70" fill="#333" text-anchor="middle">PML</text>
<ellipse cx="289.5" cy="196.6" rx="4.08" ry="3.47" fill="#d3d3d3"/>
<text x="289.5" y="197.54" font-size="2.70" fill="#333" text-anchor="middle">CREBBP</text>
<ellipse cx="300.8" cy="201.1" rx="3.50" ry="2.97" fill="#d3d3d3"/>
<text x="300.8" y="201.97" font-size="2.50" fill="#333" text-anchor="middle">SUZ12</text>
<ellipse cx="312.6" cy="195.1" rx="6.29" ry="6.05" fill="#d3d3d3"/>
<text x="312.6" y="196.22" font-size="3.20" fill="#333" text-anchor="middle">GATA1</text>
<ellipse cx="330.4" cy="196.2" rx="5.72" ry="5.50" fill="#d3d3d3"/>
<text x="330.4" y="197.32" font-size="3.20" fill="#333" text-anchor="middle">HDAC2</text>
<ellipse cx="353.3" cy="197.5" rx="5.72" ry="5.50" fill="#d3d3d3"/>
<text x="353.3" y="198.62" font-size="3.20" fill="#333" text-anchor="middle">NCOR2</text>
<ellipse cx="340.7" cy="203.7" rx="5.15" ry="4.95" fill="#d3d3d3"/>
<text x="340.7" y="204.82" font-size="3.20" fill="#333" text-anchor="middle">FOS</text>
<ellipse cx="313.7" cy="207.0" rx="3.50" ry="2.97" fill="#d3d3d3"/>
<text x="313.7" y="207.88" font-size="2.50" fill="#333" text-anchor="middle">EP300</text>
<ellipse cx="326.4" cy="208.3" rx="3.50" ry="2.97" fill="#d3d3d3"/>
<text x="326.4" y="209.18" font-size="2.50" fill="#333" text-anchor="middle">CTNNB1</text>
<ellipse cx="353.3" cy="211.8" rx="3.50" ry="2.97" fill="#d3d3d3"/>
<text x="353.3" y="212.68" font-size="2.50" fill="#333" text-anchor="middle">MED1</text>
<ellipse cx="378.4" cy="204.8" rx="5.72" ry="5.50" fill="#d3d3d3"/>
<text x="378.4" y="205.92" font-size="3.20" fill="#333" text-anchor="middle">FOS</text>
<ellipse cx="224.9" cy="216.3" rx="3.50" ry="2.97" fill="#d3d3d3"/>
<text x="224.9" y="217.18" font-size="2.50" fill="#333" text-anchor="middle">MYC</text>
<ellipse cx="237.0" cy="215.5" rx="4.58" ry="4.40" fill="#d3d3d3"/>
<text x="237.0" y="216.58" font-size="3.08" fill="#333" text-anchor="middle">MYC</text>
<ellipse cx="252.1" cy="215.0" rx="4.08" ry="3.47" fill="#d3d3d3"/>
<text x="252.1" y="215.94" font-size="2.70" fill="#333" text-anchor="middle">EZH2</text>
<ellipse cx="264.4" cy="219.9" rx="4.08" ry="3.47" fill="#d3d3d3"/>
<text x="264.4" y="220.84" font-size="2.70" fill="#333" text-anchor="middle">YY1</text>
<ellipse cx="270.6" cy="208.4" rx="5.15" ry="4.95" fill="#d3d3d3"/>
<text x="270.6" y="209.52" font-size="3.20" fill="#333" text-anchor="middle">HDAC2</text>
<ellipse cx="287.2" cy="209.5" rx="7.44" ry="7.15" fill="#d3d3d3"/>
<text x="287.2" y="210.62" font-size="3.20" fill="#333" text-anchor="middle">NCOA1</text>
<ellipse cx="312.9" cy="207.5" rx="5.15" ry="4.95" fill="#d3d3d3"/>
<text x="312.9" y="208.62" font-size="3.20" fill="#333" text-anchor="middle">RARA</text>
<ellipse cx="298.5" cy="216.0" rx="5.72" ry="5.50" fill="#d3d3d3"/>
<text x="298.5" y="217.12" font-size="3.20" fill="#333" text-anchor="middle">PML</text>
<ellipse cx="279.6" cy="219.0" rx="4.58" ry="4.40" fill="#d3d3d3"/>
<text x="279.6" y="220.08" font-size="3.08" fill="#333" text-anchor="middle">HDAC2</text>
<ellipse cx="316.6" cy="220.0" rx="5.72" ry="5.50" fill="#d3d3d3"/>
<text x="316.6" y="221.12" font-size="3.20" fill="#333" text-anchor="middle">KAT5</text>
<ellipse cx="339.0" cy="216.4" rx="3.50" ry="2.97" fill="#d3d3d3"/>
<text x="339.0" y="217.28" font-size="2.50" fill="#333" text-anchor="middle">RELA</text>
<ellipse cx="349.8" cy="223.1" rx="5.15" ry="4.95" fill="#d3d3d3"/>
<text x="349.8" y="224.22" font-size="3.20" fill="#333" text-anchor="middle">STAT3</text>
<ellipse cx="303.5" cy="225.0" rx="4.58" ry="4.40" fill="#d3d3d3"/>
<text x="303.5" y="226.08" font-size="3.08" fill="#333" text-anchor="middle">CEBPB</text>
<ellipse cx="329.0" cy="225.3" rx="5.15" ry="4.95" fill="#d3d3d3"/>
<text x="329.0" y="226.42" font-size="3.20" fill="#333" text-anchor="middle">ESR1</text>
<ellipse cx="379.0" cy="228.0" rx="4.58" ry="4.40" fill="#d3d3d3"/>
<text x="379.0" y="229.08" font-size="3.08" fill="#333" text-anchor="middle">CEBPB</text>
<ellipse cx="237.8" cy="228.0" rx="3.03" ry="2.15" fill="#d3d3d3"/>
<text x="237.8" y="228.88" font-size="2.50" fill="#333" text-anchor="middle">HDAC1</text>
<ellipse cx="251.0" cy="228.8" rx="4.08" ry="3.47" fill="#d3d3d3"/>
<text x="251.0" y="229.74" font-size="2.70" fill="#333" text-anchor="middle">STAT3</text>
<ellipse cx="263.8" cy="232.9" rx="4.08" ry="3.47" fill="#d3d3d3"/>
<text x="263.8" y="233.84" font-size="2.70" fill="#333" text-anchor="middle">SP1</text>
<ellipse cx="279.6" cy="229.1" rx="5.72" ry="5.50" fill="#d3d3d3"/>
<text x="279.6" y="230.22" font-size="3.20" fill="#333" text-anchor="middle">SRF</text>
<ellipse cx="288.7" cy="235.1" rx="5.15" ry="4.95" fill="#d3d3d3"/>
<text x="288.7" y="236.22" font-size="3.20" fill="#333" text-anchor="middle">HDAC2</text>
<ellipse cx="303.8" cy="235.6" rx="5.15" ry="4.95" fill="#d3d3d3"/>
<text x="303.8" y="236.72" font-size="3.20" fill="#333" text-anchor="middle">SMAD3</text>
<ellipse cx="318.3" cy="235.2" rx="5.15" ry="4.95" fill="#d3d3d3"/>
<text x="318.3" y="236.32" font-size="3.20" fill="#333" text-anchor="middle">CTNNB1</text>
<ellipse cx="334.2" cy="237.1" rx="4.08" ry="3.47" fill="#d3d3d3"/>
<text x="334.2" y="238.04" font-size="2.70" fill="#333" text-anchor="middle">MED1</text>
<ellipse cx="347.7" cy="234.7" rx="5.15" ry="4.95" fill="#d3d3d3"/>
<text x="347.7" y="235.82" font-size="3.20" fill="#333" text-anchor="middle">JUN</text>
<ellipse cx="363.1" cy="235.9" rx="5.72" ry="5.50" fill="#d3d3d3"/>
<text x="363.1" y="237.02" font-size="3.20" fill="#333" text-anchor="middle">NCOA1</text>
<ellipse cx="366.8" cy="201.6" rx="2.8" ry="1.6" fill="#dcdcdc"/>
<text x="366.8" y="202.20" font-size="2.5" fill="#555" text-anchor="middle">CREBBP</text>
<ellipse cx="388.4" cy="211.0" rx="2.8" ry="1.6" fill="#dcdcdc"/>
<text x="388.4" y="211.60" font-size="2.5" fill="#555" text-anchor="middle">SIRT1</text>
<ellipse cx="369.0" cy="215.0" rx="2.8" ry="1.6" fill="#dcdcdc"/>
<text x="369.0" y="215.60" font-size="2.5" fill="#555" text-anchor="middle">TCF3</text>
<ellipse cx="390.3" cy="221.8" rx="2.8" ry="1.6" fill="#dcdcdc"/>
<text x="390.3" y="222.40" font-size="2.5" fill="#555" text-anchor="middle">SMAD3</text>
<ellipse cx="365.5" cy="224.5" rx="2.8" ry="1.6" fill="#dcdcdc"/>
<text x="365.5" y="225.10" font-size="2.5" fill="#555" text-anchor="middle">HDAC1</text>
<circle cx="252.9" cy="267.6" r="4.50" fill="#e8436b"/>
<text x="252.9" y="268.70" font-size="3.15" fill="#6a1028" text-anchor="middle">SMAD3</text>
<circle cx="276.2" cy="263.1" r="6.00" fill="#e8436b"/>
<text x="276.2" y="264.22" font-size="3.20" fill="#6a1028" text-anchor="middle">SRF</text>
<circle cx="266.5" cy="273.3" r="2.50" fill="#e8436b"/>
<text x="266.5" y="274.18" font-size="2.50" fill="#6a1028" text-anchor="middle">TP53</text>
<circle cx="287.6" cy="273.3" r="2.50" fill="#e8436b"/>
<text x="287.6" y="274.18" font-size="2.50" fill="#6a1028" text-anchor="middle">SMAD3</text>
<circle cx="301.2" cy="272.6" r="2.50" fill="#e8436b"/>
<text x="301.2" y="273.48" font-size="2.50" fill="#6a1028" text-anchor="middle">EP300</text>
<circle cx="309.8" cy="264.5" r="5.50" fill="#e8436b"/>
<text x="309.8" y="265.62" font-size="3.20" fill="#6a1028" text-anchor="middle">RB1</text>
<circle cx="324.0" cy="268.4" r="4.50" fill="#e8436b"/>
<text x="324.0" y="269.50" font-size="3.15" fill="#6a1028" text-anchor="middle">RB1</text>
<circle cx="339.6" cy="267.2" r="4.50" fill="#e8436b"/>
<text x="339.6" y="268.30" font-size="3.15" fill="#6a1028" text-anchor="middle">SPI1</text>
<circle cx="358.2" cy="264.0" r="6.00" fill="#e8436b"/>
<text x="358.2" y="265.12" font-size="3.20" fill="#6a1028" text-anchor="middle">SIRT1</text>
<circle cx="253.5" cy="284" r="1.8" fill="#e8436b"/>
<text x="257.50" y="286.20" font-size="6.6" fill="#222" text-anchor="start" >Transcription factor</text>
<circle cx="253.5" cy="291.7" r="1.8" fill="#cfcfcf"/>
<text x="257.50" y="293.90" font-size="6.6" fill="#222" text-anchor="start" >Intermediate protein</text>
<circle cx="323.5" cy="284" r="1.8" fill="#3d85c8"/>
<text x="327.50" y="286.20" font-size="6.6" fill="#222" text-anchor="start" >Kinase</text>
<line x1="358.6" y1="284" x2="361" y2="284" stroke="#bbb" stroke-width="0.8"/>
<text x="363.40" y="286.20" font-size="6.6" fill="#222" text-anchor="start" >PPI</text>
<line x1="322.3" y1="291.7" x2="324.7" y2="291.7" stroke="#2ca02c" stroke-width="0.9"/>
<text x="327.50" y="293.90" font-size="6.6" fill="#222" text-anchor="start" >Phosphorylation</text>
<text x="241.60" y="7.60" font-size="7.9" fill="#222" text-anchor="start" >Protein-Protein Interaction Expansion</text>
<text x="269.70" y="133.00" font-size="7.9" fill="#222" text-anchor="start" >Expression2Kinases Network</text>
<text x="242.20" y="308.90" font-size="7.9" fill="#222" text-anchor="start" >Protein-Protein Interaction Expansion</text>
<text x="256.60" y="407.80" font-size="7.9" fill="#222" text-anchor="start" >Expression2Kinases Network</text>
<line x1="240.2" y1="325.6" x2="249.4" y2="322.1" stroke="#ebebeb" stroke-width="0.3"/>
<line x1="240.2" y1="325.6" x2="259.1" y2="323.0" stroke="#ebebeb" stroke-width="0.3"/>
<line x1="240.2" y1="325.6" x2="249.4" y2="332.7" stroke="#ebebeb" stroke-width="0.3"/>
<line x1="240.2" y1="325.6" x2="229.1" y2="340.6" stroke="#ebebeb" stroke-width="0.3"/>
<line x1="240.2" y1="325.6" x2="275.5" y2="322.1" stroke="#ebebeb" stroke-width="0.3"/>
<line x1="240.2" y1="325.6" x2="280.8" y2="335.3" stroke="#ebebeb" stroke-width="0.3"/>
<line x1="240.2" y1="325.6" x2="289.1" y2="355.6" stroke="#ebebeb" stroke-width="0.3"/>
<line x1="240.2" y1="325.6" x2="257.3" y2="372.6" stroke="#ebebeb" stroke-width="0.3"/>
<line x1="240.2" y1="325.6" x2="212.3" y2="349.4" stroke="#ebebeb" stroke-width="0.3"/>
<line x1="240.2" y1="325.6" x2="225.6" y2="363.8" stroke="#ebebeb" stroke-width="0.3"/>
<line x1="240.2" y1="325.6" x2="225.6" y2="375.0" stroke="#ebebeb" stroke-width="0.3"/>
<line x1="249.4" y1="322.1" x2="259.1" y2="323.0" stroke="#ebebeb" stroke-width="0.3"/>
<line x1="249.4" y1="322.1" x2="238.8" y2="336.2" stroke="#ebebeb" stroke-width="0.3"/>
<line x1="249.4" y1="322.1" x2="261.4" y2="341.2" stroke="#ebebeb" stroke-width="0.3"/>
<line x1="249.4" y1="322.1" x2="299.7" y2="327.0" stroke="#ebebeb" stroke-width="0.3"/>
<line x1="249.4" y1="322.1" x2="271.5" y2="333.6" stroke="#ebebeb" stroke-width="0.3"/>
<line x1="249.4" y1="322.1" x2="294.4" y2="345.0" stroke="#ebebeb" stroke-width="0.3"/>
<line x1="249.4" y1="322.1" x2="276.2" y2="353.0" stroke="#ebebeb" stroke-width="0.3"/>
<line x1="249.4" y1="322.1" x2="257.3" y2="372.6" stroke="#ebebeb" stroke-width="0.3"/>
<line x1="249.4" y1="322.1" x2="291.4" y2="334.1" stroke="#ebebeb" stroke-width="0.3"/>
<line x1="249.4" y1="322.1" x2="213.2" y2="361.0" stroke="#ebebeb" stroke-width="0.3"/>
<line x1="259.1" y1="323.0" x2="238.8" y2="336.2" stroke="#ebebeb" stroke-width="0.3"/>
<line x1="259.1" y1="323.0" x2="244.1" y2="344.2" stroke="#ebebeb" stroke-width="0.3"/>
<line x1="259.1" y1="323.0" x2="252.9" y2="346.8" stroke="#ebebeb" stroke-width="0.3"/>
<line x1="259.1" y1="323.0" x2="233.5" y2="351.2" stroke="#ebebeb" stroke-width="0.3"/>
<line x1="259.1" y1="323.0" x2="271.5" y2="333.6" stroke="#ebebeb" stroke-width="0.3"/>
<line x1="259.1" y1="323.0" x2="273.2" y2="344.2" stroke="#ebebeb" stroke-width="0.3"/>
<line x1="259.1" y1="323.0" x2="237.0" y2="361.5" stroke="#ebebeb" stroke-width="0.3"/>
<line x1="259.1" y1="323.0" x2="248.5" y2="362.7" stroke="#ebebeb" stroke-width="0.3"/>
<line x1="259.1" y1="323.0" x2="259.1" y2="361.0" stroke="#ebebeb" stroke-width="0.3"/>
<line x1="259.1" y1="323.0" x2="267.0" y2="365.0" stroke="#ebebeb" stroke-width="0.3"/>
<line x1="259.1" y1="323.0" x2="246.2" y2="372.0" stroke="#ebebeb" stroke-width="0.3"/>
<line x1="259.1" y1="323.0" x2="257.3" y2="372.6" stroke="#ebebeb" stroke-width="0.3"/>
<line x1="259.1" y1="323.0" x2="277.3" y2="362.3" stroke="#ebebeb" stroke-width="0.3"/>
<line x1="259.1" y1="323.0" x2="285.8" y2="366.8" stroke="#ebebeb" stroke-width="0.3"/>
<line x1="259.1" y1="323.0" x2="312.0" y2="347.2" stroke="#ebebeb" stroke-width="0.3"/>
<line x1="266.1" y1="318.2" x2="286.1" y2="315.9" stroke="#ebebeb" stroke-width="0.3"/>
<line x1="266.1" y1="318.2" x2="309.4" y2="317.7" stroke="#ebebeb" stroke-width="0.3"/>
<line x1="266.1" y1="318.2" x2="280.8" y2="335.3" stroke="#ebebeb" stroke-width="0.3"/>
<line x1="266.1" y1="318.2" x2="289.1" y2="355.6" stroke="#ebebeb" stroke-width="0.3"/>
<line x1="266.1" y1="318.2" x2="302.3" y2="349.4" stroke="#ebebeb" stroke-width="0.3"/>
<line x1="266.1" y1="318.2" x2="277.0" y2="374.7" stroke="#ebebeb" stroke-width="0.3"/>
<line x1="266.1" y1="318.2" x2="324.4" y2="316.8" stroke="#ebebeb" stroke-width="0.3"/>
<line x1="238.8" y1="336.2" x2="252.9" y2="346.8" stroke="#ebebeb" stroke-width="0.3"/>
<line x1="238.8" y1="336.2" x2="263.5" y2="350.7" stroke="#ebebeb" stroke-width="0.3"/>
<line x1="238.8" y1="336.2" x2="271.5" y2="333.6" stroke="#ebebeb" stroke-width="0.3"/>
<line x1="238.8" y1="336.2" x2="294.4" y2="345.0" stroke="#ebebeb" stroke-width="0.3"/>
<line x1="238.8" y1="336.2" x2="257.3" y2="372.6" stroke="#ebebeb" stroke-width="0.3"/>
<line x1="238.8" y1="336.2" x2="215.0" y2="370.3" stroke="#ebebeb" stroke-width="0.3"/>
<line x1="249.4" y1="332.7" x2="286.1" y2="315.9" stroke="#ebebeb" stroke-width="0.3"/>
<line x1="249.4" y1="332.7" x2="299.7" y2="327.0" stroke="#ebebeb" stroke-width="0.3"/>
<line x1="249.4" y1="332.7" x2="271.5" y2="333.6" stroke="#ebebeb" stroke-width="0.3"/>
<line x1="249.4" y1="332.7" x2="276.2" y2="353.0" stroke="#ebebeb" stroke-width="0.3"/>
<line x1="249.4" y1="332.7" x2="289.1" y2="355.6" stroke="#ebebeb" stroke-width="0.3"/>
<line x1="249.4" y1="332.7" x2="257.3" y2="372.6" stroke="#ebebeb" stroke-width="0.3"/>
<line x1="249.4" y1="332.7" x2="269.7" y2="386.2" stroke="#ebebeb" stroke-width="0.3"/>
<line x1="249.4" y1="332.7" x2="285.8" y2="366.8" stroke="#ebebeb" stroke-width="0.3"/>
<line x1="249.4" y1="332.7" x2="222.0" y2="355.3" stroke="#ebebeb" stroke-width="0.3"/>
<line x1="249.4" y1="332.7" x2="225.6" y2="363.8" stroke="#ebebeb" stroke-width="0.3"/>
<line x1="261.0" y1="332.0" x2="261.4" y2="341.2" stroke="#ebebeb" stroke-width="0.3"/>
<line x1="261.0" y1="332.0" x2="203.2" y2="347.7" stroke="#ebebeb" stroke-width="0.3"/>
<line x1="261.0" y1="332.0" x2="263.5" y2="350.7" stroke="#ebebeb" stroke-width="0.3"/>
<line x1="261.0" y1="332.0" x2="286.1" y2="315.9" stroke="#ebebeb" stroke-width="0.3"/>
<line x1="261.0" y1="332.0" x2="297.9" y2="317.2" stroke="#ebebeb" stroke-width="0.3"/>
<line x1="261.0" y1="332.0" x2="309.4" y2="317.7" stroke="#ebebeb" stroke-width="0.3"/>
<line x1="261.0" y1="332.0" x2="301.4" y2="337.1" stroke="#ebebeb" stroke-width="0.3"/>
<line x1="261.0" y1="332.0" x2="273.2" y2="344.2" stroke="#ebebeb" stroke-width="0.3"/>
<line x1="261.0" y1="332.0" x2="294.4" y2="345.0" stroke="#ebebeb" stroke-width="0.3"/>
<line x1="261.0" y1="332.0" x2="302.3" y2="349.4" stroke="#ebebeb" stroke-width="0.3"/>
<line x1="261.0" y1="332.0" x2="313.3" y2="356.5" stroke="#ebebeb" stroke-width="0.3"/>
<line x1="261.0" y1="332.0" x2="249.0" y2="382.1" stroke="#ebebeb" stroke-width="0.3"/>
<line x1="261.0" y1="332.0" x2="277.3" y2="362.3" stroke="#ebebeb" stroke-width="0.3"/>
<line x1="261.0" y1="332.0" x2="280.9" y2="385.3" stroke="#ebebeb" stroke-width="0.3"/>
<line x1="261.0" y1="332.0" x2="220.8" y2="332.3" stroke="#ebebeb" stroke-width="0.3"/>
<line x1="261.0" y1="332.0" x2="291.4" y2="334.1" stroke="#ebebeb" stroke-width="0.3"/>
<line x1="261.0" y1="332.0" x2="213.2" y2="361.0" stroke="#ebebeb" stroke-width="0.3"/>
<line x1="261.0" y1="332.0" x2="230.0" y2="328.8" stroke="#ebebeb" stroke-width="0.3"/>
<line x1="261.0" y1="332.0" x2="212.3" y2="349.4" stroke="#ebebeb" stroke-width="0.3"/>
<line x1="261.0" y1="332.0" x2="309.4" y2="330.9" stroke="#ebebeb" stroke-width="0.3"/>
<line x1="261.0" y1="332.0" x2="316.4" y2="339.4" stroke="#ebebeb" stroke-width="0.3"/>
<line x1="229.1" y1="340.6" x2="244.1" y2="344.2" stroke="#ebebeb" stroke-width="0.3"/>
<line x1="229.1" y1="340.6" x2="280.8" y2="335.3" stroke="#ebebeb" stroke-width="0.3"/>
<line x1="229.1" y1="340.6" x2="285.6" y2="345.4" stroke="#ebebeb" stroke-width="0.3"/>
<line x1="229.1" y1="340.6" x2="276.2" y2="353.0" stroke="#ebebeb" stroke-width="0.3"/>
<line x1="229.1" y1="340.6" x2="248.5" y2="362.7" stroke="#ebebeb" stroke-width="0.3"/>
<line x1="229.1" y1="340.6" x2="222.0" y2="355.3" stroke="#ebebeb" stroke-width="0.3"/>
<line x1="229.1" y1="340.6" x2="215.0" y2="370.3" stroke="#ebebeb" stroke-width="0.3"/>
<line x1="229.1" y1="340.6" x2="225.6" y2="375.0" stroke="#ebebeb" stroke-width="0.3"/>
<line x1="261.4" y1="341.2" x2="237.0" y2="361.5" stroke="#ebebeb" stroke-width="0.3"/>
<line x1="261.4" y1="341.2" x2="267.0" y2="365.0" stroke="#ebebeb" stroke-width="0.3"/>
<line x1="261.4" y1="341.2" x2="249.0" y2="382.1" stroke="#ebebeb" stroke-width="0.3"/>
<line x1="261.4" y1="341.2" x2="269.7" y2="386.2" stroke="#ebebeb" stroke-width="0.3"/>
<line x1="261.4" y1="341.2" x2="277.3" y2="362.3" stroke="#ebebeb" stroke-width="0.3"/>
<line x1="261.4" y1="341.2" x2="271.2" y2="385.3" stroke="#ebebeb" stroke-width="0.3"/>
<line x1="261.4" y1="341.2" x2="289.7" y2="385.3" stroke="#ebebeb" stroke-width="0.3"/>
<line x1="261.4" y1="341.2" x2="312.0" y2="347.2" stroke="#ebebeb" stroke-width="0.3"/>
<line x1="261.4" y1="341.2" x2="277.0" y2="374.7" stroke="#ebebeb" stroke-width="0.3"/>
<line x1="261.4" y1="341.2" x2="225.6" y2="363.8" stroke="#ebebeb" stroke-width="0.3"/>
<line x1="203.2" y1="347.7" x2="252.9" y2="346.8" stroke="#ebebeb" stroke-width="0.3"/>
<line x1="203.2" y1="347.7" x2="234.4" y2="371.2" stroke="#ebebeb" stroke-width="0.3"/>
<line x1="203.2" y1="347.7" x2="222.0" y2="355.3" stroke="#ebebeb" stroke-width="0.3"/>
<line x1="244.1" y1="344.2" x2="271.5" y2="333.6" stroke="#ebebeb" stroke-width="0.3"/>
<line x1="244.1" y1="344.2" x2="237.0" y2="361.5" stroke="#ebebeb" stroke-width="0.3"/>
<line x1="244.1" y1="344.2" x2="204.4" y2="358.5" stroke="#ebebeb" stroke-width="0.3"/>
<line x1="244.1" y1="344.2" x2="237.9" y2="380.3" stroke="#ebebeb" stroke-width="0.3"/>
<line x1="252.9" y1="346.8" x2="233.5" y2="351.2" stroke="#ebebeb" stroke-width="0.3"/>
<line x1="252.9" y1="346.8" x2="275.5" y2="322.1" stroke="#ebebeb" stroke-width="0.3"/>
<line x1="252.9" y1="346.8" x2="271.5" y2="333.6" stroke="#ebebeb" stroke-width="0.3"/>
<line x1="252.9" y1="346.8" x2="301.4" y2="337.1" stroke="#ebebeb" stroke-width="0.3"/>
<line x1="252.9" y1="346.8" x2="289.1" y2="355.6" stroke="#ebebeb" stroke-width="0.3"/>
<line x1="252.9" y1="346.8" x2="304.5" y2="359.6" stroke="#ebebeb" stroke-width="0.3"/>
<line x1="252.9" y1="346.8" x2="259.1" y2="361.0" stroke="#ebebeb" stroke-width="0.3"/>
<line x1="252.9" y1="346.8" x2="249.0" y2="382.1" stroke="#ebebeb" stroke-width="0.3"/>
<line x1="252.9" y1="346.8" x2="285.8" y2="366.8" stroke="#ebebeb" stroke-width="0.3"/>
<line x1="252.9" y1="346.8" x2="289.7" y2="385.3" stroke="#ebebeb" stroke-width="0.3"/>
<line x1="252.9" y1="346.8" x2="285.0" y2="325.3" stroke="#ebebeb" stroke-width="0.3"/>
<line x1="252.9" y1="346.8" x2="295.9" y2="364.5" stroke="#ebebeb" stroke-width="0.3"/>
<line x1="252.9" y1="346.8" x2="230.0" y2="328.8" stroke="#ebebeb" stroke-width="0.3"/>
<line x1="252.9" y1="346.8" x2="309.4" y2="330.9" stroke="#ebebeb" stroke-width="0.3"/>
<line x1="233.5" y1="351.2" x2="289.1" y2="355.6" stroke="#ebebeb" stroke-width="0.3"/>
<line x1="233.5" y1="351.2" x2="246.2" y2="372.0" stroke="#ebebeb" stroke-width="0.3"/>
<line x1="233.5" y1="351.2" x2="249.0" y2="382.1" stroke="#ebebeb" stroke-width="0.3"/>
<line x1="233.5" y1="351.2" x2="269.7" y2="386.2" stroke="#ebebeb" stroke-width="0.3"/>
<line x1="233.5" y1="351.2" x2="285.0" y2="325.3" stroke="#ebebeb" stroke-width="0.3"/>
<line x1="233.5" y1="351.2" x2="204.4" y2="358.5" stroke="#ebebeb" stroke-width="0.3"/>
<line x1="233.5" y1="351.2" x2="237.9" y2="380.3" stroke="#ebebeb" stroke-width="0.3"/>
<line x1="245.5" y1="354.2" x2="263.5" y2="350.7" stroke="#ebebeb" stroke-width="0.3"/>
<line x1="245.5" y1="354.2" x2="301.4" y2="337.1" stroke="#ebebeb" stroke-width="0.3"/>
<line x1="245.5" y1="354.2" x2="304.5" y2="359.6" stroke="#ebebeb" stroke-width="0.3"/>
<line x1="245.5" y1="354.2" x2="248.5" y2="362.7" stroke="#ebebeb" stroke-width="0.3"/>
<line x1="245.5" y1="354.2" x2="269.7" y2="386.2" stroke="#ebebeb" stroke-width="0.3"/>
<line x1="245.5" y1="354.2" x2="271.2" y2="385.3" stroke="#ebebeb" stroke-width="0.3"/>
<line x1="245.5" y1="354.2" x2="280.9" y2="385.3" stroke="#ebebeb" stroke-width="0.3"/>
<line x1="245.5" y1="354.2" x2="289.7" y2="385.3" stroke="#ebebeb" stroke-width="0.3"/>
<line x1="245.5" y1="354.2" x2="291.4" y2="334.1" stroke="#ebebeb" stroke-width="0.3"/>
<line x1="245.5" y1="354.2" x2="295.9" y2="364.5" stroke="#ebebeb" stroke-width="0.3"/>
<line x1="245.5" y1="354.2" x2="213.2" y2="361.0" stroke="#ebebeb" stroke-width="0.3"/>
<line x1="245.5" y1="354.2" x2="221.2" y2="345.4" stroke="#ebebeb" stroke-width="0.3"/>
<line x1="263.5" y1="350.7" x2="309.4" y2="317.7" stroke="#ebebeb" stroke-width="0.3"/>
<line x1="263.5" y1="350.7" x2="316.4" y2="324.8" stroke="#ebebeb" stroke-width="0.3"/>
<line x1="263.5" y1="350.7" x2="302.3" y2="349.4" stroke="#ebebeb" stroke-width="0.3"/>
<line x1="263.5" y1="350.7" x2="246.2" y2="372.0" stroke="#ebebeb" stroke-width="0.3"/>
<line x1="263.5" y1="350.7" x2="220.8" y2="332.3" stroke="#ebebeb" stroke-width="0.3"/>
<line x1="263.5" y1="350.7" x2="309.4" y2="330.9" stroke="#ebebeb" stroke-width="0.3"/>
<line x1="286.1" y1="315.9" x2="271.5" y2="333.6" stroke="#ebebeb" stroke-width="0.3"/>
<line x1="286.1" y1="315.9" x2="301.4" y2="337.1" stroke="#ebebeb" stroke-width="0.3"/>
<line x1="286.1" y1="315.9" x2="294.4" y2="345.0" stroke="#ebebeb" stroke-width="0.3"/>
<line x1="286.1" y1="315.9" x2="324.4" y2="345.9" stroke="#ebebeb" stroke-width="0.3"/>
<line x1="286.1" y1="315.9" x2="313.3" y2="356.5" stroke="#ebebeb" stroke-width="0.3"/>
<line x1="286.1" y1="315.9" x2="323.5" y2="355.6" stroke="#ebebeb" stroke-width="0.3"/>
<line x1="286.1" y1="315.9" x2="330.9" y2="324.8" stroke="#ebebeb" stroke-width="0.3"/>
<line x1="286.1" y1="315.9" x2="304.5" y2="359.6" stroke="#ebebeb" stroke-width="0.3"/>
<line x1="286.1" y1="315.9" x2="285.0" y2="325.3" stroke="#ebebeb" stroke-width="0.3"/>
<line x1="297.9" y1="317.2" x2="299.7" y2="327.0" stroke="#ebebeb" stroke-width="0.3"/>
<line x1="297.9" y1="317.2" x2="323.1" y2="333.6" stroke="#ebebeb" stroke-width="0.3"/>
<line x1="297.9" y1="317.2" x2="276.2" y2="353.0" stroke="#ebebeb" stroke-width="0.3"/>
<line x1="297.9" y1="317.2" x2="302.3" y2="349.4" stroke="#ebebeb" stroke-width="0.3"/>
<line x1="297.9" y1="317.2" x2="267.0" y2="365.0" stroke="#ebebeb" stroke-width="0.3"/>
<line x1="297.9" y1="317.2" x2="317.6" y2="367.6" stroke="#ebebeb" stroke-width="0.3"/>
<line x1="297.9" y1="317.2" x2="291.5" y2="374.3" stroke="#ebebeb" stroke-width="0.3"/>
<line x1="309.4" y1="317.7" x2="316.4" y2="324.8" stroke="#ebebeb" stroke-width="0.3"/>
<line x1="309.4" y1="317.7" x2="354.9" y2="334.5" stroke="#ebebeb" stroke-width="0.3"/>
<line x1="309.4" y1="317.7" x2="353.5" y2="344.2" stroke="#ebebeb" stroke-width="0.3"/>
<line x1="309.4" y1="317.7" x2="277.3" y2="362.3" stroke="#ebebeb" stroke-width="0.3"/>
<line x1="309.4" y1="317.7" x2="327.6" y2="365.9" stroke="#ebebeb" stroke-width="0.3"/>
<line x1="309.4" y1="317.7" x2="291.5" y2="374.3" stroke="#ebebeb" stroke-width="0.3"/>
<line x1="309.4" y1="317.7" x2="285.0" y2="325.3" stroke="#ebebeb" stroke-width="0.3"/>
<line x1="309.4" y1="317.7" x2="309.4" y2="330.9" stroke="#ebebeb" stroke-width="0.3"/>
<line x1="309.4" y1="317.7" x2="316.4" y2="339.4" stroke="#ebebeb" stroke-width="0.3"/>
<line x1="275.5" y1="322.1" x2="289.1" y2="355.6" stroke="#ebebeb" stroke-width="0.3"/>
<line x1="275.5" y1="322.1" x2="259.1" y2="361.0" stroke="#ebebeb" stroke-width="0.3"/>
<line x1="275.5" y1="322.1" x2="307.3" y2="370.3" stroke="#ebebeb" stroke-width="0.3"/>
<line x1="275.5" y1="322.1" x2="291.5" y2="374.3" stroke="#ebebeb" stroke-width="0.3"/>
<line x1="299.7" y1="327.0" x2="316.4" y2="324.8" stroke="#ebebeb" stroke-width="0.3"/>
<line x1="299.7" y1="327.0" x2="285.6" y2="345.4" stroke="#ebebeb" stroke-width="0.3"/>
<line x1="299.7" y1="327.0" x2="294.4" y2="345.0" stroke="#ebebeb" stroke-width="0.3"/>
<line x1="299.7" y1="327.0" x2="313.3" y2="356.5" stroke="#ebebeb" stroke-width="0.3"/>
<line x1="299.7" y1="327.0" x2="342.5" y2="321.2" stroke="#ebebeb" stroke-width="0.3"/>
<line x1="299.7" y1="327.0" x2="330.9" y2="324.8" stroke="#ebebeb" stroke-width="0.3"/>
<line x1="299.7" y1="327.0" x2="354.9" y2="334.5" stroke="#ebebeb" stroke-width="0.3"/>
<line x1="299.7" y1="327.0" x2="333.2" y2="336.2" stroke="#ebebeb" stroke-width="0.3"/>
<line x1="299.7" y1="327.0" x2="343.8" y2="351.2" stroke="#ebebeb" stroke-width="0.3"/>
<line x1="299.7" y1="327.0" x2="277.3" y2="362.3" stroke="#ebebeb" stroke-width="0.3"/>
<line x1="299.7" y1="327.0" x2="307.3" y2="370.3" stroke="#ebebeb" stroke-width="0.3"/>
<line x1="299.7" y1="327.0" x2="291.5" y2="374.3" stroke="#ebebeb" stroke-width="0.3"/>
<line x1="299.7" y1="327.0" x2="317.0" y2="381.7" stroke="#ebebeb" stroke-width="0.3"/>
<line x1="299.7" y1="327.0" x2="285.0" y2="325.3" stroke="#ebebeb" stroke-width="0.3"/>
<line x1="299.7" y1="327.0" x2="316.4" y2="339.4" stroke="#ebebeb" stroke-width="0.3"/>
<line x1="316.4" y1="324.8" x2="301.4" y2="337.1" stroke="#ebebeb" stroke-width="0.3"/>
<line x1="316.4" y1="324.8" x2="323.1" y2="333.6" stroke="#ebebeb" stroke-width="0.3"/>
<line x1="316.4" y1="324.8" x2="323.5" y2="355.6" stroke="#ebebeb" stroke-width="0.3"/>
<line x1="316.4" y1="324.8" x2="353.5" y2="344.2" stroke="#ebebeb" stroke-width="0.3"/>
<line x1="316.4" y1="324.8" x2="291.5" y2="374.3" stroke="#ebebeb" stroke-width="0.3"/>
<line x1="316.4" y1="324.8" x2="317.0" y2="381.7" stroke="#ebebeb" stroke-width="0.3"/>
<line x1="316.4" y1="324.8" x2="291.4" y2="334.1" stroke="#ebebeb" stroke-width="0.3"/>
<line x1="271.5" y1="333.6" x2="313.3" y2="356.5" stroke="#ebebeb" stroke-width="0.3"/>
<line x1="271.5" y1="333.6" x2="304.5" y2="359.6" stroke="#ebebeb" stroke-width="0.3"/>
<line x1="271.5" y1="333.6" x2="277.3" y2="362.3" stroke="#ebebeb" stroke-width="0.3"/>
<line x1="271.5" y1="333.6" x2="285.8" y2="366.8" stroke="#ebebeb" stroke-width="0.3"/>
<line x1="271.5" y1="333.6" x2="221.2" y2="345.4" stroke="#ebebeb" stroke-width="0.3"/>
<line x1="271.5" y1="333.6" x2="324.4" y2="316.8" stroke="#ebebeb" stroke-width="0.3"/>
<line x1="271.5" y1="333.6" x2="309.4" y2="330.9" stroke="#ebebeb" stroke-width="0.3"/>
<line x1="280.8" y1="335.3" x2="285.6" y2="345.4" stroke="#ebebeb" stroke-width="0.3"/>
<line x1="280.8" y1="335.3" x2="289.1" y2="355.6" stroke="#ebebeb" stroke-width="0.3"/>
<line x1="280.8" y1="335.3" x2="330.9" y2="324.8" stroke="#ebebeb" stroke-width="0.3"/>
<line x1="280.8" y1="335.3" x2="237.0" y2="361.5" stroke="#ebebeb" stroke-width="0.3"/>
<line x1="280.8" y1="335.3" x2="259.1" y2="361.0" stroke="#ebebeb" stroke-width="0.3"/>
<line x1="280.8" y1="335.3" x2="271.2" y2="385.3" stroke="#ebebeb" stroke-width="0.3"/>
<line x1="280.8" y1="335.3" x2="280.9" y2="385.3" stroke="#ebebeb" stroke-width="0.3"/>
<line x1="280.8" y1="335.3" x2="291.4" y2="334.1" stroke="#ebebeb" stroke-width="0.3"/>
<line x1="280.8" y1="335.3" x2="295.9" y2="364.5" stroke="#ebebeb" stroke-width="0.3"/>
<line x1="280.8" y1="335.3" x2="277.0" y2="374.7" stroke="#ebebeb" stroke-width="0.3"/>
<line x1="280.8" y1="335.3" x2="309.4" y2="330.9" stroke="#ebebeb" stroke-width="0.3"/>
<line x1="301.4" y1="337.1" x2="302.3" y2="349.4" stroke="#ebebeb" stroke-width="0.3"/>
<line x1="301.4" y1="337.1" x2="354.9" y2="334.5" stroke="#ebebeb" stroke-width="0.3"/>
<line x1="301.4" y1="337.1" x2="353.5" y2="344.2" stroke="#ebebeb" stroke-width="0.3"/>
<line x1="301.4" y1="337.1" x2="343.8" y2="351.2" stroke="#ebebeb" stroke-width="0.3"/>
<line x1="301.4" y1="337.1" x2="353.8" y2="353.5" stroke="#ebebeb" stroke-width="0.3"/>
<line x1="301.4" y1="337.1" x2="269.7" y2="386.2" stroke="#ebebeb" stroke-width="0.3"/>
<line x1="301.4" y1="337.1" x2="289.7" y2="385.3" stroke="#ebebeb" stroke-width="0.3"/>
<line x1="301.4" y1="337.1" x2="316.4" y2="339.4" stroke="#ebebeb" stroke-width="0.3"/>
<line x1="301.4" y1="337.1" x2="341.1" y2="330.0" stroke="#ebebeb" stroke-width="0.3"/>
<line x1="323.1" y1="333.6" x2="353.5" y2="344.2" stroke="#ebebeb" stroke-width="0.3"/>
<line x1="323.1" y1="333.6" x2="366.2" y2="351.2" stroke="#ebebeb" stroke-width="0.3"/>
<line x1="323.1" y1="333.6" x2="336.7" y2="361.5" stroke="#ebebeb" stroke-width="0.3"/>
<line x1="323.1" y1="333.6" x2="338.5" y2="372.0" stroke="#ebebeb" stroke-width="0.3"/>
<line x1="323.1" y1="333.6" x2="344.6" y2="383.2" stroke="#ebebeb" stroke-width="0.3"/>
<line x1="323.1" y1="333.6" x2="291.4" y2="334.1" stroke="#ebebeb" stroke-width="0.3"/>
<line x1="273.2" y1="344.2" x2="276.2" y2="353.0" stroke="#ebebeb" stroke-width="0.3"/>
<line x1="273.2" y1="344.2" x2="313.3" y2="356.5" stroke="#ebebeb" stroke-width="0.3"/>
<line x1="273.2" y1="344.2" x2="304.5" y2="359.6" stroke="#ebebeb" stroke-width="0.3"/>
<line x1="273.2" y1="344.2" x2="237.0" y2="361.5" stroke="#ebebeb" stroke-width="0.3"/>
<line x1="273.2" y1="344.2" x2="260.0" y2="384.9" stroke="#ebebeb" stroke-width="0.3"/>
<line x1="273.2" y1="344.2" x2="289.7" y2="385.3" stroke="#ebebeb" stroke-width="0.3"/>
<line x1="273.2" y1="344.2" x2="310.0" y2="387.0" stroke="#ebebeb" stroke-width="0.3"/>
<line x1="273.2" y1="344.2" x2="277.0" y2="374.7" stroke="#ebebeb" stroke-width="0.3"/>
<line x1="273.2" y1="344.2" x2="225.6" y2="363.8" stroke="#ebebeb" stroke-width="0.3"/>
<line x1="285.6" y1="345.4" x2="276.2" y2="353.0" stroke="#ebebeb" stroke-width="0.3"/>
<line x1="285.6" y1="345.4" x2="313.3" y2="356.5" stroke="#ebebeb" stroke-width="0.3"/>
<line x1="285.6" y1="345.4" x2="237.0" y2="361.5" stroke="#ebebeb" stroke-width="0.3"/>
<line x1="285.6" y1="345.4" x2="257.3" y2="372.6" stroke="#ebebeb" stroke-width="0.3"/>
<line x1="285.6" y1="345.4" x2="249.0" y2="382.1" stroke="#ebebeb" stroke-width="0.3"/>
<line x1="285.6" y1="345.4" x2="269.7" y2="386.2" stroke="#ebebeb" stroke-width="0.3"/>
<line x1="285.6" y1="345.4" x2="285.8" y2="366.8" stroke="#ebebeb" stroke-width="0.3"/>
<line x1="285.6" y1="345.4" x2="289.7" y2="385.3" stroke="#ebebeb" stroke-width="0.3"/>
<line x1="285.6" y1="345.4" x2="326.7" y2="386.2" stroke="#ebebeb" stroke-width="0.3"/>
<line x1="285.6" y1="345.4" x2="295.9" y2="364.5" stroke="#ebebeb" stroke-width="0.3"/>
<line x1="285.6" y1="345.4" x2="316.4" y2="339.4" stroke="#ebebeb" stroke-width="0.3"/>
<line x1="285.6" y1="345.4" x2="344.6" y2="339.4" stroke="#ebebeb" stroke-width="0.3"/>
<line x1="294.4" y1="345.0" x2="276.2" y2="353.0" stroke="#ebebeb" stroke-width="0.3"/>
<line x1="294.4" y1="345.0" x2="302.3" y2="349.4" stroke="#ebebeb" stroke-width="0.3"/>
<line x1="294.4" y1="345.0" x2="342.5" y2="321.2" stroke="#ebebeb" stroke-width="0.3"/>
<line x1="294.4" y1="345.0" x2="249.0" y2="382.1" stroke="#ebebeb" stroke-width="0.3"/>
<line x1="294.4" y1="345.0" x2="317.6" y2="367.6" stroke="#ebebeb" stroke-width="0.3"/>
<line x1="294.4" y1="345.0" x2="289.7" y2="385.3" stroke="#ebebeb" stroke-width="0.3"/>
<line x1="294.4" y1="345.0" x2="310.0" y2="387.0" stroke="#ebebeb" stroke-width="0.3"/>
<line x1="294.4" y1="345.0" x2="336.7" y2="361.5" stroke="#ebebeb" stroke-width="0.3"/>
<line x1="294.4" y1="345.0" x2="341.1" y2="330.0" stroke="#ebebeb" stroke-width="0.3"/>
<line x1="294.4" y1="345.0" x2="346.8" y2="362.7" stroke="#ebebeb" stroke-width="0.3"/>
<line x1="294.4" y1="345.0" x2="334.9" y2="380.3" stroke="#ebebeb" stroke-width="0.3"/>
<line x1="324.4" y1="345.9" x2="313.3" y2="356.5" stroke="#ebebeb" stroke-width="0.3"/>
<line x1="324.4" y1="345.9" x2="330.9" y2="324.8" stroke="#ebebeb" stroke-width="0.3"/>
<line x1="324.4" y1="345.9" x2="353.5" y2="344.2" stroke="#ebebeb" stroke-width="0.3"/>
<line x1="324.4" y1="345.9" x2="277.3" y2="362.3" stroke="#ebebeb" stroke-width="0.3"/>
<line x1="324.4" y1="345.9" x2="285.8" y2="366.8" stroke="#ebebeb" stroke-width="0.3"/>
<line x1="324.4" y1="345.9" x2="289.7" y2="385.3" stroke="#ebebeb" stroke-width="0.3"/>
<line x1="324.4" y1="345.9" x2="310.0" y2="387.0" stroke="#ebebeb" stroke-width="0.3"/>
<line x1="324.4" y1="345.9" x2="277.0" y2="374.7" stroke="#ebebeb" stroke-width="0.3"/>
<line x1="324.4" y1="345.9" x2="316.4" y2="339.4" stroke="#ebebeb" stroke-width="0.3"/>
<line x1="324.4" y1="345.9" x2="354.3" y2="324.2" stroke="#ebebeb" stroke-width="0.3"/>
<line x1="324.4" y1="345.9" x2="341.1" y2="330.0" stroke="#ebebeb" stroke-width="0.3"/>
<line x1="324.4" y1="345.9" x2="374.6" y2="345.0" stroke="#ebebeb" stroke-width="0.3"/>
<line x1="276.2" y1="353.0" x2="289.1" y2="355.6" stroke="#ebebeb" stroke-width="0.3"/>
<line x1="276.2" y1="353.0" x2="313.3" y2="356.5" stroke="#ebebeb" stroke-width="0.3"/>
<line x1="276.2" y1="353.0" x2="307.3" y2="370.3" stroke="#ebebeb" stroke-width="0.3"/>
<line x1="276.2" y1="353.0" x2="317.6" y2="367.6" stroke="#ebebeb" stroke-width="0.3"/>
<line x1="276.2" y1="353.0" x2="327.6" y2="365.9" stroke="#ebebeb" stroke-width="0.3"/>
<line x1="276.2" y1="353.0" x2="291.5" y2="374.3" stroke="#ebebeb" stroke-width="0.3"/>
<line x1="276.2" y1="353.0" x2="325.0" y2="374.7" stroke="#ebebeb" stroke-width="0.3"/>
<line x1="276.2" y1="353.0" x2="317.0" y2="381.7" stroke="#ebebeb" stroke-width="0.3"/>
<line x1="276.2" y1="353.0" x2="277.0" y2="374.7" stroke="#ebebeb" stroke-width="0.3"/>
<line x1="276.2" y1="353.0" x2="299.4" y2="387.4" stroke="#ebebeb" stroke-width="0.3"/>
<line x1="276.2" y1="353.0" x2="221.2" y2="345.4" stroke="#ebebeb" stroke-width="0.3"/>
<line x1="276.2" y1="353.0" x2="222.0" y2="355.3" stroke="#ebebeb" stroke-width="0.3"/>
<line x1="289.1" y1="355.6" x2="302.3" y2="349.4" stroke="#ebebeb" stroke-width="0.3"/>
<line x1="289.1" y1="355.6" x2="333.7" y2="348.2" stroke="#ebebeb" stroke-width="0.3"/>
<line x1="289.1" y1="355.6" x2="304.5" y2="359.6" stroke="#ebebeb" stroke-width="0.3"/>
<line x1="289.1" y1="355.6" x2="267.0" y2="365.0" stroke="#ebebeb" stroke-width="0.3"/>
<line x1="289.1" y1="355.6" x2="246.2" y2="372.0" stroke="#ebebeb" stroke-width="0.3"/>
<line x1="289.1" y1="355.6" x2="285.8" y2="366.8" stroke="#ebebeb" stroke-width="0.3"/>
<line x1="289.1" y1="355.6" x2="310.0" y2="387.0" stroke="#ebebeb" stroke-width="0.3"/>
<line x1="289.1" y1="355.6" x2="317.0" y2="381.7" stroke="#ebebeb" stroke-width="0.3"/>
<line x1="289.1" y1="355.6" x2="326.7" y2="386.2" stroke="#ebebeb" stroke-width="0.3"/>
<line x1="289.1" y1="355.6" x2="312.0" y2="347.2" stroke="#ebebeb" stroke-width="0.3"/>
<line x1="289.1" y1="355.6" x2="295.9" y2="364.5" stroke="#ebebeb" stroke-width="0.3"/>
<line x1="289.1" y1="355.6" x2="316.4" y2="339.4" stroke="#ebebeb" stroke-width="0.3"/>
<line x1="289.1" y1="355.6" x2="344.6" y2="339.4" stroke="#ebebeb" stroke-width="0.3"/>
<line x1="302.3" y1="349.4" x2="354.9" y2="334.5" stroke="#ebebeb" stroke-width="0.3"/>
<line x1="302.3" y1="349.4" x2="353.5" y2="344.2" stroke="#ebebeb" stroke-width="0.3"/>
<line x1="302.3" y1="349.4" x2="343.8" y2="351.2" stroke="#ebebeb" stroke-width="0.3"/>
<line x1="302.3" y1="349.4" x2="248.5" y2="362.7" stroke="#ebebeb" stroke-width="0.3"/>
<line x1="302.3" y1="349.4" x2="257.3" y2="372.6" stroke="#ebebeb" stroke-width="0.3"/>
<line x1="302.3" y1="349.4" x2="285.8" y2="366.8" stroke="#ebebeb" stroke-width="0.3"/>
<line x1="302.3" y1="349.4" x2="317.6" y2="367.6" stroke="#ebebeb" stroke-width="0.3"/>
<line x1="302.3" y1="349.4" x2="291.5" y2="374.3" stroke="#ebebeb" stroke-width="0.3"/>
<line x1="302.3" y1="349.4" x2="317.0" y2="381.7" stroke="#ebebeb" stroke-width="0.3"/>
<line x1="302.3" y1="349.4" x2="326.7" y2="386.2" stroke="#ebebeb" stroke-width="0.3"/>
<line x1="302.3" y1="349.4" x2="354.3" y2="367.6" stroke="#ebebeb" stroke-width="0.3"/>
<line x1="302.3" y1="349.4" x2="285.0" y2="325.3" stroke="#ebebeb" stroke-width="0.3"/>
<line x1="302.3" y1="349.4" x2="312.0" y2="347.2" stroke="#ebebeb" stroke-width="0.3"/>
<line x1="302.3" y1="349.4" x2="277.0" y2="374.7" stroke="#ebebeb" stroke-width="0.3"/>
<line x1="313.3" y1="356.5" x2="330.9" y2="324.8" stroke="#ebebeb" stroke-width="0.3"/>
<line x1="313.3" y1="356.5" x2="353.5" y2="344.2" stroke="#ebebeb" stroke-width="0.3"/>
<line x1="313.3" y1="356.5" x2="269.7" y2="386.2" stroke="#ebebeb" stroke-width="0.3"/>
<line x1="313.3" y1="356.5" x2="310.0" y2="387.0" stroke="#ebebeb" stroke-width="0.3"/>
<line x1="313.3" y1="356.5" x2="344.6" y2="339.4" stroke="#ebebeb" stroke-width="0.3"/>
<line x1="313.3" y1="356.5" x2="346.8" y2="362.7" stroke="#ebebeb" stroke-width="0.3"/>
<line x1="323.5" y1="355.6" x2="342.5" y2="321.2" stroke="#ebebeb" stroke-width="0.3"/>
<line x1="323.5" y1="355.6" x2="354.9" y2="334.5" stroke="#ebebeb" stroke-width="0.3"/>
<line x1="323.5" y1="355.6" x2="285.8" y2="366.8" stroke="#ebebeb" stroke-width="0.3"/>
<line x1="323.5" y1="355.6" x2="307.3" y2="370.3" stroke="#ebebeb" stroke-width="0.3"/>
<line x1="323.5" y1="355.6" x2="372.5" y2="362.7" stroke="#ebebeb" stroke-width="0.3"/>
<line x1="323.5" y1="355.6" x2="338.5" y2="372.0" stroke="#ebebeb" stroke-width="0.3"/>
<line x1="323.5" y1="355.6" x2="299.4" y2="387.4" stroke="#ebebeb" stroke-width="0.3"/>
<line x1="323.5" y1="355.6" x2="379.6" y2="353.2" stroke="#ebebeb" stroke-width="0.3"/>
<line x1="342.5" y1="321.2" x2="373.2" y2="334.5" stroke="#ebebeb" stroke-width="0.3"/>
<line x1="342.5" y1="321.2" x2="353.5" y2="344.2" stroke="#ebebeb" stroke-width="0.3"/>
<line x1="342.5" y1="321.2" x2="343.8" y2="351.2" stroke="#ebebeb" stroke-width="0.3"/>
<line x1="342.5" y1="321.2" x2="325.0" y2="374.7" stroke="#ebebeb" stroke-width="0.3"/>
<line x1="342.5" y1="321.2" x2="372.5" y2="362.7" stroke="#ebebeb" stroke-width="0.3"/>
<line x1="342.5" y1="321.2" x2="367.9" y2="372.9" stroke="#ebebeb" stroke-width="0.3"/>
<line x1="342.5" y1="321.2" x2="309.4" y2="330.9" stroke="#ebebeb" stroke-width="0.3"/>
<line x1="342.5" y1="321.2" x2="341.1" y2="330.0" stroke="#ebebeb" stroke-width="0.3"/>
<line x1="330.9" y1="324.8" x2="354.9" y2="334.5" stroke="#ebebeb" stroke-width="0.3"/>
<line x1="330.9" y1="324.8" x2="333.7" y2="348.2" stroke="#ebebeb" stroke-width="0.3"/>
<line x1="330.9" y1="324.8" x2="324.4" y2="316.8" stroke="#ebebeb" stroke-width="0.3"/>
<line x1="330.9" y1="324.8" x2="344.6" y2="339.4" stroke="#ebebeb" stroke-width="0.3"/>
<line x1="330.9" y1="324.8" x2="374.6" y2="345.0" stroke="#ebebeb" stroke-width="0.3"/>
<line x1="365.4" y1="328.8" x2="354.9" y2="334.5" stroke="#ebebeb" stroke-width="0.3"/>
<line x1="365.4" y1="328.8" x2="333.7" y2="348.2" stroke="#ebebeb" stroke-width="0.3"/>
<line x1="365.4" y1="328.8" x2="353.8" y2="353.5" stroke="#ebebeb" stroke-width="0.3"/>
<line x1="365.4" y1="328.8" x2="378.1" y2="370.3" stroke="#ebebeb" stroke-width="0.3"/>
<line x1="365.4" y1="328.8" x2="309.4" y2="330.9" stroke="#ebebeb" stroke-width="0.3"/>
<line x1="365.4" y1="328.8" x2="316.4" y2="339.4" stroke="#ebebeb" stroke-width="0.3"/>
<line x1="365.4" y1="328.8" x2="344.6" y2="339.4" stroke="#ebebeb" stroke-width="0.3"/>
<line x1="354.9" y1="334.5" x2="383.1" y2="338.0" stroke="#ebebeb" stroke-width="0.3"/>
<line x1="354.9" y1="334.5" x2="366.2" y2="351.2" stroke="#ebebeb" stroke-width="0.3"/>
<line x1="354.9" y1="334.5" x2="307.3" y2="370.3" stroke="#ebebeb" stroke-width="0.3"/>
<line x1="354.9" y1="334.5" x2="354.3" y2="367.6" stroke="#ebebeb" stroke-width="0.3"/>
<line x1="354.9" y1="334.5" x2="360.2" y2="378.2" stroke="#ebebeb" stroke-width="0.3"/>
<line x1="354.9" y1="334.5" x2="312.0" y2="347.2" stroke="#ebebeb" stroke-width="0.3"/>
<line x1="373.2" y1="334.5" x2="333.7" y2="348.2" stroke="#ebebeb" stroke-width="0.3"/>
<line x1="373.2" y1="334.5" x2="343.8" y2="351.2" stroke="#ebebeb" stroke-width="0.3"/>
<line x1="373.2" y1="334.5" x2="366.2" y2="351.2" stroke="#ebebeb" stroke-width="0.3"/>
<line x1="373.2" y1="334.5" x2="360.2" y2="378.2" stroke="#ebebeb" stroke-width="0.3"/>
<line x1="383.1" y1="338.0" x2="353.5" y2="344.2" stroke="#ebebeb" stroke-width="0.3"/>
<line x1="383.1" y1="338.0" x2="336.7" y2="361.5" stroke="#ebebeb" stroke-width="0.3"/>
<line x1="383.1" y1="338.0" x2="361.4" y2="362.0" stroke="#ebebeb" stroke-width="0.3"/>
<line x1="383.1" y1="338.0" x2="367.9" y2="372.9" stroke="#ebebeb" stroke-width="0.3"/>
<line x1="383.1" y1="338.0" x2="350.8" y2="376.1" stroke="#ebebeb" stroke-width="0.3"/>
<line x1="333.2" y1="336.2" x2="353.5" y2="344.2" stroke="#ebebeb" stroke-width="0.3"/>
<line x1="333.2" y1="336.2" x2="388.7" y2="345.4" stroke="#ebebeb" stroke-width="0.3"/>
<line x1="333.2" y1="336.2" x2="304.5" y2="359.6" stroke="#ebebeb" stroke-width="0.3"/>
<line x1="333.2" y1="336.2" x2="353.8" y2="353.5" stroke="#ebebeb" stroke-width="0.3"/>
<line x1="333.2" y1="336.2" x2="317.0" y2="381.7" stroke="#ebebeb" stroke-width="0.3"/>
<line x1="333.2" y1="336.2" x2="361.4" y2="362.0" stroke="#ebebeb" stroke-width="0.3"/>
<line x1="333.2" y1="336.2" x2="295.9" y2="364.5" stroke="#ebebeb" stroke-width="0.3"/>
<line x1="333.2" y1="336.2" x2="354.3" y2="324.2" stroke="#ebebeb" stroke-width="0.3"/>
<line x1="333.2" y1="336.2" x2="334.9" y2="380.3" stroke="#ebebeb" stroke-width="0.3"/>
<line x1="353.5" y1="344.2" x2="317.0" y2="381.7" stroke="#ebebeb" stroke-width="0.3"/>
<line x1="353.5" y1="344.2" x2="354.3" y2="367.6" stroke="#ebebeb" stroke-width="0.3"/>
<line x1="353.5" y1="344.2" x2="367.9" y2="372.9" stroke="#ebebeb" stroke-width="0.3"/>
<line x1="353.5" y1="344.2" x2="360.2" y2="378.2" stroke="#ebebeb" stroke-width="0.3"/>
<line x1="353.5" y1="344.2" x2="324.4" y2="316.8" stroke="#ebebeb" stroke-width="0.3"/>
<line x1="353.5" y1="344.2" x2="354.3" y2="324.2" stroke="#ebebeb" stroke-width="0.3"/>
<line x1="388.7" y1="345.4" x2="333.7" y2="348.2" stroke="#ebebeb" stroke-width="0.3"/>
<line x1="388.7" y1="345.4" x2="336.7" y2="361.5" stroke="#ebebeb" stroke-width="0.3"/>
<line x1="388.7" y1="345.4" x2="344.6" y2="339.4" stroke="#ebebeb" stroke-width="0.3"/>
<line x1="333.7" y1="348.2" x2="304.5" y2="359.6" stroke="#ebebeb" stroke-width="0.3"/>
<line x1="333.7" y1="348.2" x2="307.3" y2="370.3" stroke="#ebebeb" stroke-width="0.3"/>
<line x1="333.7" y1="348.2" x2="326.7" y2="386.2" stroke="#ebebeb" stroke-width="0.3"/>
<line x1="333.7" y1="348.2" x2="338.5" y2="372.0" stroke="#ebebeb" stroke-width="0.3"/>
<line x1="333.7" y1="348.2" x2="344.6" y2="383.2" stroke="#ebebeb" stroke-width="0.3"/>
<line x1="333.7" y1="348.2" x2="324.4" y2="316.8" stroke="#ebebeb" stroke-width="0.3"/>
<line x1="333.7" y1="348.2" x2="309.4" y2="330.9" stroke="#ebebeb" stroke-width="0.3"/>
<line x1="333.7" y1="348.2" x2="391.4" y2="356.0" stroke="#ebebeb" stroke-width="0.3"/>
<line x1="333.7" y1="348.2" x2="346.8" y2="362.7" stroke="#ebebeb" stroke-width="0.3"/>
<line x1="333.7" y1="348.2" x2="334.9" y2="380.3" stroke="#ebebeb" stroke-width="0.3"/>
<line x1="304.5" y1="359.6" x2="277.3" y2="362.3" stroke="#ebebeb" stroke-width="0.3"/>
<line x1="304.5" y1="359.6" x2="280.9" y2="385.3" stroke="#ebebeb" stroke-width="0.3"/>
<line x1="304.5" y1="359.6" x2="317.0" y2="381.7" stroke="#ebebeb" stroke-width="0.3"/>
<line x1="304.5" y1="359.6" x2="354.3" y2="367.6" stroke="#ebebeb" stroke-width="0.3"/>
<line x1="304.5" y1="359.6" x2="295.9" y2="364.5" stroke="#ebebeb" stroke-width="0.3"/>
<line x1="304.5" y1="359.6" x2="277.0" y2="374.7" stroke="#ebebeb" stroke-width="0.3"/>
<line x1="304.5" y1="359.6" x2="299.4" y2="387.4" stroke="#ebebeb" stroke-width="0.3"/>
<line x1="343.8" y1="351.2" x2="307.3" y2="370.3" stroke="#ebebeb" stroke-width="0.3"/>
<line x1="343.8" y1="351.2" x2="317.6" y2="367.6" stroke="#ebebeb" stroke-width="0.3"/>
<line x1="343.8" y1="351.2" x2="327.6" y2="365.9" stroke="#ebebeb" stroke-width="0.3"/>
<line x1="343.8" y1="351.2" x2="325.0" y2="374.7" stroke="#ebebeb" stroke-width="0.3"/>
<line x1="343.8" y1="351.2" x2="326.7" y2="386.2" stroke="#ebebeb" stroke-width="0.3"/>
<line x1="343.8" y1="351.2" x2="384.3" y2="363.2" stroke="#ebebeb" stroke-width="0.3"/>
<line x1="343.8" y1="351.2" x2="378.1" y2="370.3" stroke="#ebebeb" stroke-width="0.3"/>
<line x1="343.8" y1="351.2" x2="360.2" y2="378.2" stroke="#ebebeb" stroke-width="0.3"/>
<line x1="343.8" y1="351.2" x2="344.6" y2="383.2" stroke="#ebebeb" stroke-width="0.3"/>
<line x1="343.8" y1="351.2" x2="341.1" y2="330.0" stroke="#ebebeb" stroke-width="0.3"/>
<line x1="343.8" y1="351.2" x2="346.8" y2="362.7" stroke="#ebebeb" stroke-width="0.3"/>
<line x1="353.8" y1="353.5" x2="366.2" y2="351.2" stroke="#ebebeb" stroke-width="0.3"/>
<line x1="353.8" y1="353.5" x2="307.3" y2="370.3" stroke="#ebebeb" stroke-width="0.3"/>
<line x1="353.8" y1="353.5" x2="317.6" y2="367.6" stroke="#ebebeb" stroke-width="0.3"/>
<line x1="353.8" y1="353.5" x2="310.0" y2="387.0" stroke="#ebebeb" stroke-width="0.3"/>
<line x1="353.8" y1="353.5" x2="317.0" y2="381.7" stroke="#ebebeb" stroke-width="0.3"/>
<line x1="353.8" y1="353.5" x2="361.4" y2="362.0" stroke="#ebebeb" stroke-width="0.3"/>
<line x1="353.8" y1="353.5" x2="354.3" y2="324.2" stroke="#ebebeb" stroke-width="0.3"/>
<line x1="353.8" y1="353.5" x2="374.6" y2="345.0" stroke="#ebebeb" stroke-width="0.3"/>
<line x1="353.8" y1="353.5" x2="379.6" y2="353.2" stroke="#ebebeb" stroke-width="0.3"/>
<line x1="366.2" y1="351.2" x2="336.7" y2="361.5" stroke="#ebebeb" stroke-width="0.3"/>
<line x1="366.2" y1="351.2" x2="361.4" y2="362.0" stroke="#ebebeb" stroke-width="0.3"/>
<line x1="366.2" y1="351.2" x2="372.5" y2="362.7" stroke="#ebebeb" stroke-width="0.3"/>
<line x1="366.2" y1="351.2" x2="354.3" y2="367.6" stroke="#ebebeb" stroke-width="0.3"/>
<line x1="366.2" y1="351.2" x2="367.9" y2="372.9" stroke="#ebebeb" stroke-width="0.3"/>
<line x1="366.2" y1="351.2" x2="360.2" y2="378.2" stroke="#ebebeb" stroke-width="0.3"/>
<line x1="366.2" y1="351.2" x2="346.8" y2="362.7" stroke="#ebebeb" stroke-width="0.3"/>
<line x1="237.0" y1="361.5" x2="257.3" y2="372.6" stroke="#ebebeb" stroke-width="0.3"/>
<line x1="237.0" y1="361.5" x2="291.5" y2="374.3" stroke="#ebebeb" stroke-width="0.3"/>
<line x1="237.0" y1="361.5" x2="271.2" y2="385.3" stroke="#ebebeb" stroke-width="0.3"/>
<line x1="237.0" y1="361.5" x2="277.0" y2="374.7" stroke="#ebebeb" stroke-width="0.3"/>
<line x1="237.0" y1="361.5" x2="210.9" y2="338.3" stroke="#ebebeb" stroke-width="0.3"/>
<line x1="237.0" y1="361.5" x2="212.3" y2="349.4" stroke="#ebebeb" stroke-width="0.3"/>
<line x1="237.0" y1="361.5" x2="204.4" y2="358.5" stroke="#ebebeb" stroke-width="0.3"/>
<line x1="248.5" y1="362.7" x2="234.4" y2="371.2" stroke="#ebebeb" stroke-width="0.3"/>
<line x1="248.5" y1="362.7" x2="260.0" y2="384.9" stroke="#ebebeb" stroke-width="0.3"/>
<line x1="248.5" y1="362.7" x2="307.3" y2="370.3" stroke="#ebebeb" stroke-width="0.3"/>
<line x1="248.5" y1="362.7" x2="271.2" y2="385.3" stroke="#ebebeb" stroke-width="0.3"/>
<line x1="248.5" y1="362.7" x2="299.4" y2="387.4" stroke="#ebebeb" stroke-width="0.3"/>
<line x1="248.5" y1="362.7" x2="213.2" y2="361.0" stroke="#ebebeb" stroke-width="0.3"/>
<line x1="248.5" y1="362.7" x2="204.4" y2="358.5" stroke="#ebebeb" stroke-width="0.3"/>
<line x1="259.1" y1="361.0" x2="257.3" y2="372.6" stroke="#ebebeb" stroke-width="0.3"/>
<line x1="259.1" y1="361.0" x2="249.0" y2="382.1" stroke="#ebebeb" stroke-width="0.3"/>
<line x1="259.1" y1="361.0" x2="307.3" y2="370.3" stroke="#ebebeb" stroke-width="0.3"/>
<line x1="259.1" y1="361.0" x2="220.8" y2="332.3" stroke="#ebebeb" stroke-width="0.3"/>
<line x1="259.1" y1="361.0" x2="291.4" y2="334.1" stroke="#ebebeb" stroke-width="0.3"/>
<line x1="259.1" y1="361.0" x2="299.4" y2="387.4" stroke="#ebebeb" stroke-width="0.3"/>
<line x1="259.1" y1="361.0" x2="212.3" y2="349.4" stroke="#ebebeb" stroke-width="0.3"/>
<line x1="259.1" y1="361.0" x2="204.4" y2="358.5" stroke="#ebebeb" stroke-width="0.3"/>
<line x1="259.1" y1="361.0" x2="225.6" y2="375.0" stroke="#ebebeb" stroke-width="0.3"/>
<line x1="267.0" y1="365.0" x2="307.3" y2="370.3" stroke="#ebebeb" stroke-width="0.3"/>
<line x1="267.0" y1="365.0" x2="325.0" y2="374.7" stroke="#ebebeb" stroke-width="0.3"/>
<line x1="267.0" y1="365.0" x2="317.0" y2="381.7" stroke="#ebebeb" stroke-width="0.3"/>
<line x1="267.0" y1="365.0" x2="295.9" y2="364.5" stroke="#ebebeb" stroke-width="0.3"/>
<line x1="267.0" y1="365.0" x2="225.6" y2="363.8" stroke="#ebebeb" stroke-width="0.3"/>
<line x1="267.0" y1="365.0" x2="215.0" y2="370.3" stroke="#ebebeb" stroke-width="0.3"/>
<line x1="267.0" y1="365.0" x2="225.6" y2="375.0" stroke="#ebebeb" stroke-width="0.3"/>
<line x1="267.0" y1="365.0" x2="237.9" y2="380.3" stroke="#ebebeb" stroke-width="0.3"/>
<line x1="234.4" y1="371.2" x2="249.0" y2="382.1" stroke="#ebebeb" stroke-width="0.3"/>
<line x1="234.4" y1="371.2" x2="280.9" y2="385.3" stroke="#ebebeb" stroke-width="0.3"/>
<line x1="234.4" y1="371.2" x2="221.2" y2="345.4" stroke="#ebebeb" stroke-width="0.3"/>
<line x1="234.4" y1="371.2" x2="212.3" y2="349.4" stroke="#ebebeb" stroke-width="0.3"/>
<line x1="246.2" y1="372.0" x2="257.3" y2="372.6" stroke="#ebebeb" stroke-width="0.3"/>
<line x1="246.2" y1="372.0" x2="291.4" y2="334.1" stroke="#ebebeb" stroke-width="0.3"/>
<line x1="246.2" y1="372.0" x2="299.4" y2="387.4" stroke="#ebebeb" stroke-width="0.3"/>
<line x1="246.2" y1="372.0" x2="230.0" y2="328.8" stroke="#ebebeb" stroke-width="0.3"/>
<line x1="246.2" y1="372.0" x2="225.6" y2="363.8" stroke="#ebebeb" stroke-width="0.3"/>
<line x1="257.3" y1="372.6" x2="249.0" y2="382.1" stroke="#ebebeb" stroke-width="0.3"/>
<line x1="257.3" y1="372.6" x2="307.3" y2="370.3" stroke="#ebebeb" stroke-width="0.3"/>
<line x1="257.3" y1="372.6" x2="302.0" y2="377.3" stroke="#ebebeb" stroke-width="0.3"/>
<line x1="257.3" y1="372.6" x2="271.2" y2="385.3" stroke="#ebebeb" stroke-width="0.3"/>
<line x1="257.3" y1="372.6" x2="280.9" y2="385.3" stroke="#ebebeb" stroke-width="0.3"/>
<line x1="249.0" y1="382.1" x2="291.5" y2="374.3" stroke="#ebebeb" stroke-width="0.3"/>
<line x1="249.0" y1="382.1" x2="222.0" y2="355.3" stroke="#ebebeb" stroke-width="0.3"/>
<line x1="249.0" y1="382.1" x2="225.6" y2="375.0" stroke="#ebebeb" stroke-width="0.3"/>
<line x1="260.0" y1="384.9" x2="289.7" y2="385.3" stroke="#ebebeb" stroke-width="0.3"/>
<line x1="269.7" y1="386.2" x2="307.3" y2="370.3" stroke="#ebebeb" stroke-width="0.3"/>
<line x1="269.7" y1="386.2" x2="291.4" y2="334.1" stroke="#ebebeb" stroke-width="0.3"/>
<line x1="269.7" y1="386.2" x2="312.0" y2="347.2" stroke="#ebebeb" stroke-width="0.3"/>
<line x1="269.7" y1="386.2" x2="222.0" y2="355.3" stroke="#ebebeb" stroke-width="0.3"/>
<line x1="277.3" y1="362.3" x2="285.8" y2="366.8" stroke="#ebebeb" stroke-width="0.3"/>
<line x1="277.3" y1="362.3" x2="327.6" y2="365.9" stroke="#ebebeb" stroke-width="0.3"/>
<line x1="277.3" y1="362.3" x2="302.0" y2="377.3" stroke="#ebebeb" stroke-width="0.3"/>
<line x1="277.3" y1="362.3" x2="325.0" y2="374.7" stroke="#ebebeb" stroke-width="0.3"/>
<line x1="277.3" y1="362.3" x2="310.0" y2="387.0" stroke="#ebebeb" stroke-width="0.3"/>
<line x1="277.3" y1="362.3" x2="317.0" y2="381.7" stroke="#ebebeb" stroke-width="0.3"/>
<line x1="277.3" y1="362.3" x2="326.7" y2="386.2" stroke="#ebebeb" stroke-width="0.3"/>
<line x1="277.3" y1="362.3" x2="336.7" y2="361.5" stroke="#ebebeb" stroke-width="0.3"/>
<line x1="277.3" y1="362.3" x2="291.4" y2="334.1" stroke="#ebebeb" stroke-width="0.3"/>
<line x1="277.3" y1="362.3" x2="316.4" y2="339.4" stroke="#ebebeb" stroke-width="0.3"/>
<line x1="277.3" y1="362.3" x2="225.6" y2="363.8" stroke="#ebebeb" stroke-width="0.3"/>
<line x1="277.3" y1="362.3" x2="237.9" y2="380.3" stroke="#ebebeb" stroke-width="0.3"/>
<line x1="285.8" y1="366.8" x2="291.5" y2="374.3" stroke="#ebebeb" stroke-width="0.3"/>
<line x1="285.8" y1="366.8" x2="326.7" y2="386.2" stroke="#ebebeb" stroke-width="0.3"/>
<line x1="285.8" y1="366.8" x2="338.5" y2="372.0" stroke="#ebebeb" stroke-width="0.3"/>
<line x1="285.8" y1="366.8" x2="291.4" y2="334.1" stroke="#ebebeb" stroke-width="0.3"/>
<line x1="285.8" y1="366.8" x2="312.0" y2="347.2" stroke="#ebebeb" stroke-width="0.3"/>
<line x1="307.3" y1="370.3" x2="327.6" y2="365.9" stroke="#ebebeb" stroke-width="0.3"/>
<line x1="307.3" y1="370.3" x2="326.7" y2="386.2" stroke="#ebebeb" stroke-width="0.3"/>
<line x1="307.3" y1="370.3" x2="361.4" y2="362.0" stroke="#ebebeb" stroke-width="0.3"/>
<line x1="307.3" y1="370.3" x2="285.0" y2="325.3" stroke="#ebebeb" stroke-width="0.3"/>
<line x1="307.3" y1="370.3" x2="291.4" y2="334.1" stroke="#ebebeb" stroke-width="0.3"/>
<line x1="307.3" y1="370.3" x2="299.4" y2="387.4" stroke="#ebebeb" stroke-width="0.3"/>
<line x1="307.3" y1="370.3" x2="324.4" y2="316.8" stroke="#ebebeb" stroke-width="0.3"/>
<line x1="317.6" y1="367.6" x2="310.0" y2="387.0" stroke="#ebebeb" stroke-width="0.3"/>
<line x1="317.6" y1="367.6" x2="336.7" y2="361.5" stroke="#ebebeb" stroke-width="0.3"/>
<line x1="317.6" y1="367.6" x2="285.0" y2="325.3" stroke="#ebebeb" stroke-width="0.3"/>
<line x1="317.6" y1="367.6" x2="277.0" y2="374.7" stroke="#ebebeb" stroke-width="0.3"/>
<line x1="327.6" y1="365.9" x2="291.5" y2="374.3" stroke="#ebebeb" stroke-width="0.3"/>
<line x1="327.6" y1="365.9" x2="325.0" y2="374.7" stroke="#ebebeb" stroke-width="0.3"/>
<line x1="327.6" y1="365.9" x2="280.9" y2="385.3" stroke="#ebebeb" stroke-width="0.3"/>
<line x1="327.6" y1="365.9" x2="326.7" y2="386.2" stroke="#ebebeb" stroke-width="0.3"/>
<line x1="327.6" y1="365.9" x2="361.4" y2="362.0" stroke="#ebebeb" stroke-width="0.3"/>
<line x1="327.6" y1="365.9" x2="367.9" y2="372.9" stroke="#ebebeb" stroke-width="0.3"/>
<line x1="327.6" y1="365.9" x2="291.4" y2="334.1" stroke="#ebebeb" stroke-width="0.3"/>
<line x1="327.6" y1="365.9" x2="379.6" y2="353.2" stroke="#ebebeb" stroke-width="0.3"/>
<line x1="291.5" y1="374.3" x2="310.0" y2="387.0" stroke="#ebebeb" stroke-width="0.3"/>
<line x1="291.5" y1="374.3" x2="309.4" y2="330.9" stroke="#ebebeb" stroke-width="0.3"/>
<line x1="302.0" y1="377.3" x2="317.0" y2="381.7" stroke="#ebebeb" stroke-width="0.3"/>
<line x1="302.0" y1="377.3" x2="326.7" y2="386.2" stroke="#ebebeb" stroke-width="0.3"/>
<line x1="302.0" y1="377.3" x2="344.6" y2="383.2" stroke="#ebebeb" stroke-width="0.3"/>
<line x1="302.0" y1="377.3" x2="285.0" y2="325.3" stroke="#ebebeb" stroke-width="0.3"/>
<line x1="302.0" y1="377.3" x2="334.9" y2="380.3" stroke="#ebebeb" stroke-width="0.3"/>
<line x1="325.0" y1="374.7" x2="361.4" y2="362.0" stroke="#ebebeb" stroke-width="0.3"/>
<line x1="325.0" y1="374.7" x2="354.3" y2="367.6" stroke="#ebebeb" stroke-width="0.3"/>
<line x1="325.0" y1="374.7" x2="338.5" y2="372.0" stroke="#ebebeb" stroke-width="0.3"/>
<line x1="325.0" y1="374.7" x2="299.4" y2="387.4" stroke="#ebebeb" stroke-width="0.3"/>
<line x1="325.0" y1="374.7" x2="309.4" y2="330.9" stroke="#ebebeb" stroke-width="0.3"/>
<line x1="271.2" y1="385.3" x2="312.0" y2="347.2" stroke="#ebebeb" stroke-width="0.3"/>
<line x1="271.2" y1="385.3" x2="295.9" y2="364.5" stroke="#ebebeb" stroke-width="0.3"/>
<line x1="271.2" y1="385.3" x2="222.0" y2="355.3" stroke="#ebebeb" stroke-width="0.3"/>
<line x1="271.2" y1="385.3" x2="237.9" y2="380.3" stroke="#ebebeb" stroke-width="0.3"/>
<line x1="289.7" y1="385.3" x2="326.7" y2="386.2" stroke="#ebebeb" stroke-width="0.3"/>
<line x1="289.7" y1="385.3" x2="338.5" y2="372.0" stroke="#ebebeb" stroke-width="0.3"/>
<line x1="310.0" y1="387.0" x2="326.7" y2="386.2" stroke="#ebebeb" stroke-width="0.3"/>
<line x1="310.0" y1="387.0" x2="336.7" y2="361.5" stroke="#ebebeb" stroke-width="0.3"/>
<line x1="310.0" y1="387.0" x2="354.3" y2="367.6" stroke="#ebebeb" stroke-width="0.3"/>
<line x1="310.0" y1="387.0" x2="344.6" y2="383.2" stroke="#ebebeb" stroke-width="0.3"/>
<line x1="310.0" y1="387.0" x2="295.9" y2="364.5" stroke="#ebebeb" stroke-width="0.3"/>
<line x1="310.0" y1="387.0" x2="316.4" y2="339.4" stroke="#ebebeb" stroke-width="0.3"/>
<line x1="310.0" y1="387.0" x2="346.8" y2="362.7" stroke="#ebebeb" stroke-width="0.3"/>
<line x1="317.0" y1="381.7" x2="338.5" y2="372.0" stroke="#ebebeb" stroke-width="0.3"/>
<line x1="317.0" y1="381.7" x2="295.9" y2="364.5" stroke="#ebebeb" stroke-width="0.3"/>
<line x1="317.0" y1="381.7" x2="277.0" y2="374.7" stroke="#ebebeb" stroke-width="0.3"/>
<line x1="317.0" y1="381.7" x2="316.4" y2="339.4" stroke="#ebebeb" stroke-width="0.3"/>
<line x1="317.0" y1="381.7" x2="344.6" y2="339.4" stroke="#ebebeb" stroke-width="0.3"/>
<line x1="317.0" y1="381.7" x2="346.8" y2="362.7" stroke="#ebebeb" stroke-width="0.3"/>
<line x1="326.7" y1="386.2" x2="378.1" y2="370.3" stroke="#ebebeb" stroke-width="0.3"/>
<line x1="326.7" y1="386.2" x2="360.2" y2="378.2" stroke="#ebebeb" stroke-width="0.3"/>
<line x1="326.7" y1="386.2" x2="312.0" y2="347.2" stroke="#ebebeb" stroke-width="0.3"/>
<line x1="326.7" y1="386.2" x2="295.9" y2="364.5" stroke="#ebebeb" stroke-width="0.3"/>
<line x1="326.7" y1="386.2" x2="344.6" y2="339.4" stroke="#ebebeb" stroke-width="0.3"/>
<line x1="326.7" y1="386.2" x2="334.9" y2="380.3" stroke="#ebebeb" stroke-width="0.3"/>
<line x1="336.7" y1="361.5" x2="378.1" y2="370.3" stroke="#ebebeb" stroke-width="0.3"/>
<line x1="336.7" y1="361.5" x2="291.4" y2="334.1" stroke="#ebebeb" stroke-width="0.3"/>
<line x1="336.7" y1="361.5" x2="341.1" y2="330.0" stroke="#ebebeb" stroke-width="0.3"/>
<line x1="336.7" y1="361.5" x2="350.8" y2="376.1" stroke="#ebebeb" stroke-width="0.3"/>
<line x1="361.4" y1="362.0" x2="316.4" y2="339.4" stroke="#ebebeb" stroke-width="0.3"/>
<line x1="361.4" y1="362.0" x2="341.1" y2="330.0" stroke="#ebebeb" stroke-width="0.3"/>
<line x1="372.5" y1="362.7" x2="360.2" y2="378.2" stroke="#ebebeb" stroke-width="0.3"/>
<line x1="372.5" y1="362.7" x2="344.6" y2="383.2" stroke="#ebebeb" stroke-width="0.3"/>
<line x1="372.5" y1="362.7" x2="350.8" y2="376.1" stroke="#ebebeb" stroke-width="0.3"/>
<line x1="384.3" y1="363.2" x2="344.6" y2="383.2" stroke="#ebebeb" stroke-width="0.3"/>
<line x1="384.3" y1="363.2" x2="344.6" y2="339.4" stroke="#ebebeb" stroke-width="0.3"/>
<line x1="354.3" y1="367.6" x2="338.5" y2="372.0" stroke="#ebebeb" stroke-width="0.3"/>
<line x1="354.3" y1="367.6" x2="344.6" y2="383.2" stroke="#ebebeb" stroke-width="0.3"/>
<line x1="354.3" y1="367.6" x2="341.1" y2="330.0" stroke="#ebebeb" stroke-width="0.3"/>
<line x1="354.3" y1="367.6" x2="391.4" y2="356.0" stroke="#ebebeb" stroke-width="0.3"/>
<line x1="338.5" y1="372.0" x2="378.1" y2="370.3" stroke="#ebebeb" stroke-width="0.3"/>
<line x1="338.5" y1="372.0" x2="360.2" y2="378.2" stroke="#ebebeb" stroke-width="0.3"/>
<line x1="338.5" y1="372.0" x2="295.9" y2="364.5" stroke="#ebebeb" stroke-width="0.3"/>
<line x1="338.5" y1="372.0" x2="341.1" y2="330.0" stroke="#ebebeb" stroke-width="0.3"/>
<line x1="338.5" y1="372.0" x2="374.6" y2="345.0" stroke="#ebebeb" stroke-width="0.3"/>
<line x1="338.5" y1="372.0" x2="350.8" y2="376.1" stroke="#ebebeb" stroke-width="0.3"/>
<line x1="378.1" y1="370.3" x2="367.9" y2="372.9" stroke="#ebebeb" stroke-width="0.3"/>
<line x1="378.1" y1="370.3" x2="360.2" y2="378.2" stroke="#ebebeb" stroke-width="0.3"/>
<line x1="378.1" y1="370.3" x2="344.6" y2="339.4" stroke="#ebebeb" stroke-width="0.3"/>
<line x1="378.1" y1="370.3" x2="374.6" y2="345.0" stroke="#ebebeb" stroke-width="0.3"/>
<line x1="378.1" y1="370.3" x2="379.6" y2="353.2" stroke="#ebebeb" stroke-width="0.3"/>
<line x1="367.9" y1="372.9" x2="360.2" y2="378.2" stroke="#ebebeb" stroke-width="0.3"/>
<line x1="367.9" y1="372.9" x2="354.3" y2="324.2" stroke="#ebebeb" stroke-width="0.3"/>
<line x1="367.9" y1="372.9" x2="341.1" y2="330.0" stroke="#ebebeb" stroke-width="0.3"/>
<line x1="367.9" y1="372.9" x2="344.6" y2="339.4" stroke="#ebebeb" stroke-width="0.3"/>
<line x1="367.9" y1="372.9" x2="379.0" y2="353.5" stroke="#ebebeb" stroke-width="0.3"/>
<line x1="367.9" y1="372.9" x2="346.8" y2="362.7" stroke="#ebebeb" stroke-width="0.3"/>
<line x1="367.9" y1="372.9" x2="350.8" y2="376.1" stroke="#ebebeb" stroke-width="0.3"/>
<line x1="360.2" y1="378.2" x2="344.6" y2="383.2" stroke="#ebebeb" stroke-width="0.3"/>
<line x1="360.2" y1="378.2" x2="312.0" y2="347.2" stroke="#ebebeb" stroke-width="0.3"/>
<line x1="360.2" y1="378.2" x2="374.6" y2="345.0" stroke="#ebebeb" stroke-width="0.3"/>
<line x1="360.2" y1="378.2" x2="346.8" y2="362.7" stroke="#ebebeb" stroke-width="0.3"/>
<line x1="344.6" y1="383.2" x2="364.0" y2="340.6" stroke="#ebebeb" stroke-width="0.3"/>
<line x1="344.6" y1="383.2" x2="379.0" y2="353.5" stroke="#ebebeb" stroke-width="0.3"/>
<line x1="344.6" y1="383.2" x2="334.9" y2="380.3" stroke="#ebebeb" stroke-width="0.3"/>
<line x1="344.6" y1="383.2" x2="379.6" y2="353.2" stroke="#ebebeb" stroke-width="0.3"/>
<line x1="220.8" y1="332.3" x2="212.3" y2="349.4" stroke="#ebebeb" stroke-width="0.3"/>
<line x1="285.0" y1="325.3" x2="295.9" y2="364.5" stroke="#ebebeb" stroke-width="0.3"/>
<line x1="291.4" y1="334.1" x2="312.0" y2="347.2" stroke="#ebebeb" stroke-width="0.3"/>
<line x1="291.4" y1="334.1" x2="277.0" y2="374.7" stroke="#ebebeb" stroke-width="0.3"/>
<line x1="291.4" y1="334.1" x2="341.1" y2="330.0" stroke="#ebebeb" stroke-width="0.3"/>
<line x1="312.0" y1="347.2" x2="334.9" y2="380.3" stroke="#ebebeb" stroke-width="0.3"/>
<line x1="295.9" y1="364.5" x2="299.4" y2="387.4" stroke="#ebebeb" stroke-width="0.3"/>
<line x1="295.9" y1="364.5" x2="344.6" y2="339.4" stroke="#ebebeb" stroke-width="0.3"/>
<line x1="295.9" y1="364.5" x2="350.8" y2="376.1" stroke="#ebebeb" stroke-width="0.3"/>
<line x1="277.0" y1="374.7" x2="225.6" y2="375.0" stroke="#ebebeb" stroke-width="0.3"/>
<line x1="299.4" y1="387.4" x2="309.4" y2="330.9" stroke="#ebebeb" stroke-width="0.3"/>
<line x1="299.4" y1="387.4" x2="350.8" y2="376.1" stroke="#ebebeb" stroke-width="0.3"/>
<line x1="230.0" y1="328.8" x2="204.4" y2="358.5" stroke="#ebebeb" stroke-width="0.3"/>
<line x1="221.2" y1="345.4" x2="222.0" y2="355.3" stroke="#ebebeb" stroke-width="0.3"/>
<line x1="221.2" y1="345.4" x2="204.4" y2="358.5" stroke="#ebebeb" stroke-width="0.3"/>
<line x1="212.3" y1="349.4" x2="204.4" y2="358.5" stroke="#ebebeb" stroke-width="0.3"/>
<line x1="324.4" y1="316.8" x2="309.4" y2="330.9" stroke="#ebebeb" stroke-width="0.3"/>
<line x1="324.4" y1="316.8" x2="374.6" y2="345.0" stroke="#ebebeb" stroke-width="0.3"/>
<line x1="324.4" y1="316.8" x2="346.8" y2="362.7" stroke="#ebebeb" stroke-width="0.3"/>
<line x1="309.4" y1="330.9" x2="344.6" y2="339.4" stroke="#ebebeb" stroke-width="0.3"/>
<line x1="316.4" y1="339.4" x2="374.6" y2="345.0" stroke="#ebebeb" stroke-width="0.3"/>
<line x1="354.3" y1="324.2" x2="344.6" y2="339.4" stroke="#ebebeb" stroke-width="0.3"/>
<line x1="354.3" y1="324.2" x2="379.0" y2="353.5" stroke="#ebebeb" stroke-width="0.3"/>
<line x1="341.1" y1="330.0" x2="374.6" y2="345.0" stroke="#ebebeb" stroke-width="0.3"/>
<line x1="341.1" y1="330.0" x2="334.9" y2="380.3" stroke="#ebebeb" stroke-width="0.3"/>
<line x1="344.6" y1="339.4" x2="364.0" y2="340.6" stroke="#ebebeb" stroke-width="0.3"/>
<line x1="344.6" y1="339.4" x2="334.9" y2="380.3" stroke="#ebebeb" stroke-width="0.3"/>
<line x1="374.6" y1="345.0" x2="350.8" y2="376.1" stroke="#ebebeb" stroke-width="0.3"/>
<line x1="379.0" y1="353.5" x2="391.4" y2="356.0" stroke="#ebebeb" stroke-width="0.3"/>
<line x1="379.0" y1="353.5" x2="346.8" y2="362.7" stroke="#ebebeb" stroke-width="0.3"/>
<line x1="379.0" y1="353.5" x2="350.8" y2="376.1" stroke="#ebebeb" stroke-width="0.3"/>
<line x1="204.4" y1="358.5" x2="215.0" y2="370.3" stroke="#ebebeb" stroke-width="0.3"/>
<line x1="225.6" y1="363.8" x2="237.9" y2="380.3" stroke="#ebebeb" stroke-width="0.3"/>
<line x1="215.0" y1="370.3" x2="237.9" y2="380.3" stroke="#ebebeb" stroke-width="0.3"/>
<line x1="225.6" y1="375.0" x2="237.9" y2="380.3" stroke="#ebebeb" stroke-width="0.3"/>
<line x1="350.8" y1="376.1" x2="379.6" y2="353.2" stroke="#ebebeb" stroke-width="0.3"/>
<ellipse cx="240.2" cy="325.6" rx="3.31" ry="2.81" fill="#d3d3d3"/>
<text x="240.2" y="326.48" font-size="2.50" fill="#333" text-anchor="middle">TCF3</text>
<ellipse cx="249.4" cy="322.1" rx="2.86" ry="2.03" fill="#d3d3d3"/>
<text x="249.4" y="322.98" font-size="2.50" fill="#333" text-anchor="middle">SP1</text>
<ellipse cx="259.1" cy="323.0" rx="3.31" ry="2.81" fill="#d3d3d3"/>
<text x="259.1" y="323.88" font-size="2.50" fill="#333" text-anchor="middle">CEBPB</text>
<ellipse cx="266.1" cy="318.2" rx="3.31" ry="2.81" fill="#d3d3d3"/>
<text x="266.1" y="319.07" font-size="2.50" fill="#333" text-anchor="middle">NCOA1</text>
<ellipse cx="238.8" cy="336.2" rx="3.86" ry="3.28" fill="#d3d3d3"/>
<text x="238.8" y="337.09" font-size="2.55" fill="#333" text-anchor="middle">AR</text>
<ellipse cx="249.4" cy="332.7" rx="3.31" ry="2.81" fill="#d3d3d3"/>
<text x="249.4" y="333.57" font-size="2.50" fill="#333" text-anchor="middle">IRF1</text>
<ellipse cx="261.0" cy="332.0" rx="5.41" ry="5.20" fill="#d3d3d3"/>
<text x="261.0" y="333.12" font-size="3.20" fill="#333" text-anchor="middle">RUNX1</text>
<ellipse cx="229.1" cy="340.6" rx="3.31" ry="2.81" fill="#d3d3d3"/>
<text x="229.1" y="341.48" font-size="2.50" fill="#333" text-anchor="middle">SMAD3</text>
<ellipse cx="261.4" cy="341.2" rx="3.31" ry="2.81" fill="#d3d3d3"/>
<text x="261.4" y="342.07" font-size="2.50" fill="#333" text-anchor="middle">SP1</text>
<ellipse cx="203.2" cy="347.7" rx="3.31" ry="2.81" fill="#d3d3d3"/>
<text x="203.2" y="348.57" font-size="2.50" fill="#333" text-anchor="middle">TCF3</text>
<ellipse cx="244.1" cy="344.2" rx="3.31" ry="2.81" fill="#d3d3d3"/>
<text x="244.1" y="345.07" font-size="2.50" fill="#333" text-anchor="middle">EP300</text>
<ellipse cx="252.9" cy="346.8" rx="3.31" ry="2.81" fill="#d3d3d3"/>
<text x="252.9" y="347.68" font-size="2.50" fill="#333" text-anchor="middle">SMAD3</text>
<ellipse cx="233.5" cy="351.2" rx="4.33" ry="4.16" fill="#d3d3d3"/>
<text x="233.5" y="352.22" font-size="2.91" fill="#333" text-anchor="middle">TP53</text>
<ellipse cx="245.5" cy="354.2" rx="4.33" ry="4.16" fill="#d3d3d3"/>
<text x="245.5" y="355.22" font-size="2.91" fill="#333" text-anchor="middle">EZH2</text>
<ellipse cx="263.5" cy="350.7" rx="3.86" ry="3.28" fill="#d3d3d3"/>
<text x="263.5" y="351.59" font-size="2.55" fill="#333" text-anchor="middle">CREBBP</text>
<ellipse cx="286.1" cy="315.9" rx="3.86" ry="3.28" fill="#d3d3d3"/>
<text x="286.1" y="316.79" font-size="2.55" fill="#333" text-anchor="middle">NCOR2</text>
<ellipse cx="297.9" cy="317.2" rx="3.31" ry="2.81" fill="#d3d3d3"/>
<text x="297.9" y="318.07" font-size="2.50" fill="#333" text-anchor="middle">SIRT1</text>
<ellipse cx="309.4" cy="317.7" rx="3.31" ry="2.81" fill="#d3d3d3"/>
<text x="309.4" y="318.57" font-size="2.50" fill="#333" text-anchor="middle">IRF1</text>
<ellipse cx="275.5" cy="322.1" rx="4.87" ry="4.68" fill="#d3d3d3"/>
<text x="275.5" y="323.22" font-size="3.20" fill="#333" text-anchor="middle">CEBPB</text>
<ellipse cx="299.7" cy="327.0" rx="3.31" ry="2.81" fill="#d3d3d3"/>
<text x="299.7" y="327.88" font-size="2.50" fill="#333" text-anchor="middle">UBC</text>
<ellipse cx="316.4" cy="324.8" rx="4.87" ry="4.68" fill="#d3d3d3"/>
<text x="316.4" y="325.92" font-size="3.20" fill="#333" text-anchor="middle">YY1</text>
<ellipse cx="271.5" cy="333.6" rx="3.86" ry="3.28" fill="#d3d3d3"/>
<text x="271.5" y="334.49" font-size="2.55" fill="#333" text-anchor="middle">SIN3A</text>
<ellipse cx="280.8" cy="335.3" rx="3.86" ry="3.28" fill="#d3d3d3"/>
<text x="280.8" y="336.19" font-size="2.55" fill="#333" text-anchor="middle">RELA</text>
<ellipse cx="301.4" cy="337.1" rx="4.87" ry="4.68" fill="#d3d3d3"/>
<text x="301.4" y="338.22" font-size="3.20" fill="#333" text-anchor="middle">VDR</text>
<ellipse cx="323.1" cy="333.6" rx="4.87" ry="4.68" fill="#d3d3d3"/>
<text x="323.1" y="334.72" font-size="3.20" fill="#333" text-anchor="middle">MED1</text>
<ellipse cx="273.2" cy="344.2" rx="4.33" ry="4.16" fill="#d3d3d3"/>
<text x="273.2" y="345.22" font-size="2.91" fill="#333" text-anchor="middle">NCOR2</text>
<ellipse cx="285.6" cy="345.4" rx="3.31" ry="2.81" fill="#d3d3d3"/>
<text x="285.6" y="346.27" font-size="2.50" fill="#333" text-anchor="middle">SIRT1</text>
<ellipse cx="294.4" cy="345.0" rx="4.33" ry="4.16" fill="#d3d3d3"/>
<text x="294.4" y="346.02" font-size="2.91" fill="#333" text-anchor="middle">CEBPB</text>
<ellipse cx="324.4" cy="345.9" rx="4.87" ry="4.68" fill="#d3d3d3"/>
<text x="324.4" y="347.02" font-size="3.20" fill="#333" text-anchor="middle">KAT5</text>
<ellipse cx="276.2" cy="353.0" rx="3.86" ry="3.28" fill="#d3d3d3"/>
<text x="276.2" y="353.89" font-size="2.55" fill="#333" text-anchor="middle">MED1</text>
<ellipse cx="289.1" cy="355.6" rx="3.86" ry="3.28" fill="#d3d3d3"/>
<text x="289.1" y="356.49" font-size="2.55" fill="#333" text-anchor="middle">CTNNB1</text>
<ellipse cx="302.3" cy="349.4" rx="4.33" ry="4.16" fill="#d3d3d3"/>
<text x="302.3" y="350.42" font-size="2.91" fill="#333" text-anchor="middle">RELA</text>
<ellipse cx="313.3" cy="356.5" rx="3.31" ry="2.81" fill="#d3d3d3"/>
<text x="313.3" y="357.38" font-size="2.50" fill="#333" text-anchor="middle">RELA</text>
<ellipse cx="323.5" cy="355.6" rx="3.31" ry="2.81" fill="#d3d3d3"/>
<text x="323.5" y="356.48" font-size="2.50" fill="#333" text-anchor="middle">PML</text>
<ellipse cx="342.5" cy="321.2" rx="4.87" ry="4.68" fill="#d3d3d3"/>
<text x="342.5" y="322.32" font-size="3.20" fill="#333" text-anchor="middle">MED1</text>
<ellipse cx="330.9" cy="324.8" rx="3.31" ry="2.81" fill="#d3d3d3"/>
<text x="330.9" y="325.68" font-size="2.50" fill="#333" text-anchor="middle">RUNX1</text>
<ellipse cx="365.4" cy="328.8" rx="3.31" ry="2.81" fill="#d3d3d3"/>
<text x="365.4" y="329.68" font-size="2.50" fill="#333" text-anchor="middle">YY1</text>
<ellipse cx="354.9" cy="334.5" rx="3.86" ry="3.28" fill="#d3d3d3"/>
<text x="354.9" y="335.39" font-size="2.55" fill="#333" text-anchor="middle">RARA</text>
<ellipse cx="373.2" cy="334.5" rx="4.33" ry="4.16" fill="#d3d3d3"/>
<text x="373.2" y="335.52" font-size="2.91" fill="#333" text-anchor="middle">CTNNB1</text>
<ellipse cx="383.1" cy="338.0" rx="4.33" ry="4.16" fill="#d3d3d3"/>
<text x="383.1" y="339.02" font-size="2.91" fill="#333" text-anchor="middle">CTNNB1</text>
<ellipse cx="333.2" cy="336.2" rx="3.31" ry="2.81" fill="#d3d3d3"/>
<text x="333.2" y="337.07" font-size="2.50" fill="#333" text-anchor="middle">SUZ12</text>
<ellipse cx="353.5" cy="344.2" rx="3.86" ry="3.28" fill="#d3d3d3"/>
<text x="353.5" y="345.09" font-size="2.55" fill="#333" text-anchor="middle">HDAC1</text>
<ellipse cx="388.7" cy="345.4" rx="3.31" ry="2.81" fill="#d3d3d3"/>
<text x="388.7" y="346.27" font-size="2.50" fill="#333" text-anchor="middle">AR</text>
<ellipse cx="333.7" cy="348.2" rx="3.86" ry="3.28" fill="#d3d3d3"/>
<text x="333.7" y="349.09" font-size="2.55" fill="#333" text-anchor="middle">CTNNB1</text>
<ellipse cx="304.5" cy="359.6" rx="2.86" ry="2.03" fill="#d3d3d3"/>
<text x="304.5" y="360.48" font-size="2.50" fill="#333" text-anchor="middle">FOS</text>
<ellipse cx="343.8" cy="351.2" rx="4.87" ry="4.68" fill="#d3d3d3"/>
<text x="343.8" y="352.32" font-size="3.20" fill="#333" text-anchor="middle">RUNX1</text>
<ellipse cx="353.8" cy="353.5" rx="3.86" ry="3.28" fill="#d3d3d3"/>
<text x="353.8" y="354.39" font-size="2.55" fill="#333" text-anchor="middle">KAT5</text>
<ellipse cx="366.2" cy="351.2" rx="4.33" ry="4.16" fill="#d3d3d3"/>
<text x="366.2" y="352.22" font-size="2.91" fill="#333" text-anchor="middle">RARA</text>
<ellipse cx="237.0" cy="361.5" rx="3.31" ry="2.81" fill="#d3d3d3"/>
<text x="237.0" y="362.38" font-size="2.50" fill="#333" text-anchor="middle">RARA</text>
<ellipse cx="248.5" cy="362.7" rx="3.31" ry="2.81" fill="#d3d3d3"/>
<text x="248.5" y="363.57" font-size="2.50" fill="#333" text-anchor="middle">KAT5</text>
<ellipse cx="259.1" cy="361.0" rx="3.31" ry="2.81" fill="#d3d3d3"/>
<text x="259.1" y="361.88" font-size="2.50" fill="#333" text-anchor="middle">KAT5</text>
<ellipse cx="267.0" cy="365.0" rx="3.86" ry="3.28" fill="#d3d3d3"/>
<text x="267.0" y="365.89" font-size="2.55" fill="#333" text-anchor="middle">NCOR2</text>
<ellipse cx="234.4" cy="371.2" rx="3.31" ry="2.81" fill="#d3d3d3"/>
<text x="234.4" y="372.07" font-size="2.50" fill="#333" text-anchor="middle">IRF1</text>
<ellipse cx="246.2" cy="372.0" rx="2.86" ry="2.03" fill="#d3d3d3"/>
<text x="246.2" y="372.88" font-size="2.50" fill="#333" text-anchor="middle">NCOR2</text>
<ellipse cx="257.3" cy="372.6" rx="3.31" ry="2.81" fill="#d3d3d3"/>
<text x="257.3" y="373.48" font-size="2.50" fill="#333" text-anchor="middle">RARA</text>
<ellipse cx="249.0" cy="382.1" rx="2.86" ry="2.03" fill="#d3d3d3"/>
<text x="249.0" y="382.98" font-size="2.50" fill="#333" text-anchor="middle">SUMO1</text>
<ellipse cx="260.0" cy="384.9" rx="3.86" ry="3.28" fill="#d3d3d3"/>
<text x="260.0" y="385.79" font-size="2.55" fill="#333" text-anchor="middle">CEBPB</text>
<ellipse cx="269.7" cy="386.2" rx="3.31" ry="2.81" fill="#d3d3d3"/>
<text x="269.7" y="387.07" font-size="2.50" fill="#333" text-anchor="middle">TCF3</text>
<ellipse cx="277.3" cy="362.3" rx="3.31" ry="2.81" fill="#d3d3d3"/>
<text x="277.3" y="363.18" font-size="2.50" fill="#333" text-anchor="middle">TCF3</text>
<ellipse cx="285.8" cy="366.8" rx="3.86" ry="3.28" fill="#d3d3d3"/>
<text x="285.8" y="367.69" font-size="2.55" fill="#333" text-anchor="middle">EZH2</text>
<ellipse cx="307.3" cy="370.3" rx="4.87" ry="4.68" fill="#d3d3d3"/>
<text x="307.3" y="371.42" font-size="3.20" fill="#333" text-anchor="middle">SUZ12</text>
<ellipse cx="317.6" cy="367.6" rx="4.33" ry="4.16" fill="#d3d3d3"/>
<text x="317.6" y="368.62" font-size="2.91" fill="#333" text-anchor="middle">SPI1</text>
<ellipse cx="327.6" cy="365.9" rx="4.33" ry="4.16" fill="#d3d3d3"/>
<text x="327.6" y="366.92" font-size="2.91" fill="#333" text-anchor="middle">NCOA1</text>
<ellipse cx="291.5" cy="374.3" rx="3.31" ry="2.81" fill="#d3d3d3"/>
<text x="291.5" y="375.18" font-size="2.50" fill="#333" text-anchor="middle">SMAD4</text>
<ellipse cx="302.0" cy="377.3" rx="3.86" ry="3.28" fill="#d3d3d3"/>
<text x="302.0" y="378.19" font-size="2.55" fill="#333" text-anchor="middle">RUNX1</text>
<ellipse cx="325.0" cy="374.7" rx="4.87" ry="4.68" fill="#d3d3d3"/>
<text x="325.0" y="375.82" font-size="3.20" fill="#333" text-anchor="middle">SP1</text>
<ellipse cx="271.2" cy="385.3" rx="3.31" ry="2.81" fill="#d3d3d3"/>
<text x="271.2" y="386.18" font-size="2.50" fill="#333" text-anchor="middle">PML</text>
<ellipse cx="280.9" cy="385.3" rx="3.31" ry="2.81" fill="#d3d3d3"/>
<text x="280.9" y="386.18" font-size="2.50" fill="#333" text-anchor="middle">MYC</text>
<ellipse cx="289.7" cy="385.3" rx="3.31" ry="2.81" fill="#d3d3d3"/>
<text x="289.7" y="386.18" font-size="2.50" fill="#333" text-anchor="middle">MED1</text>
<ellipse cx="310.0" cy="387.0" rx="2.86" ry="2.03" fill="#d3d3d3"/>
<text x="310.0" y="387.88" font-size="2.50" fill="#333" text-anchor="middle">HDAC1</text>
<ellipse cx="317.0" cy="381.7" rx="4.87" ry="4.68" fill="#d3d3d3"/>
<text x="317.0" y="382.82" font-size="3.20" fill="#333" text-anchor="middle">MYC</text>
<ellipse cx="326.7" cy="386.2" rx="3.31" ry="2.81" fill="#d3d3d3"/>
<text x="326.7" y="387.07" font-size="2.50" fill="#333" text-anchor="middle">SP1</text>
<ellipse cx="336.7" cy="361.5" rx="3.86" ry="3.28" fill="#d3d3d3"/>
<text x="336.7" y="362.39" font-size="2.55" fill="#333" text-anchor="middle">MYC</text>
<ellipse cx="361.4" cy="362.0" rx="4.33" ry="4.16" fill="#d3d3d3"/>
<text x="361.4" y="363.02" font-size="2.91" fill="#333" text-anchor="middle">AR</text>
<ellipse cx="372.5" cy="362.7" rx="4.33" ry="4.16" fill="#d3d3d3"/>
<text x="372.5" y="363.72" font-size="2.91" fill="#333" text-anchor="middle">MYC</text>
<ellipse cx="384.3" cy="363.2" rx="3.86" ry="3.28" fill="#d3d3d3"/>
<text x="384.3" y="364.09" font-size="2.55" fill="#333" text-anchor="middle">RB1</text>
<ellipse cx="354.3" cy="367.6" rx="3.31" ry="2.81" fill="#d3d3d3"/>
<text x="354.3" y="368.48" font-size="2.50" fill="#333" text-anchor="middle">GATA1</text>
<ellipse cx="338.5" cy="372.0" rx="3.31" ry="2.81" fill="#d3d3d3"/>
<text x="338.5" y="372.88" font-size="2.50" fill="#333" text-anchor="middle">IRF1</text>
<ellipse cx="378.1" cy="370.3" rx="4.87" ry="4.68" fill="#d3d3d3"/>
<text x="378.1" y="371.42" font-size="3.20" fill="#333" text-anchor="middle">YY1</text>
<ellipse cx="367.9" cy="372.9" rx="3.86" ry="3.28" fill="#d3d3d3"/>
<text x="367.9" y="373.79" font-size="2.55" fill="#333" text-anchor="middle">MED1</text>
<ellipse cx="360.2" cy="378.2" rx="3.31" ry="2.81" fill="#d3d3d3"/>
<text x="360.2" y="379.07" font-size="2.50" fill="#333" text-anchor="middle">ESR1</text>
<ellipse cx="344.6" cy="383.2" rx="4.87" ry="4.68" fill="#d3d3d3"/>
<text x="344.6" y="384.32" font-size="3.20" fill="#333" text-anchor="middle">GATA1</text>
<ellipse cx="230.0" cy="328.8" rx="2.8" ry="1.6" fill="#dcdcdc"/>
<text x="230.0" y="329.40" font-size="2.5" fill="#555" text-anchor="middle">JUN</text>
<ellipse cx="210.9" cy="338.3" rx="2.8" ry="1.6" fill="#dcdcdc"/>
<text x="210.9" y="338.90" font-size="2.5" fill="#555" text-anchor="middle">TP53</text>
<ellipse cx="221.2" cy="345.4" rx="2.8" ry="1.6" fill="#dcdcdc"/>
<text x="221.2" y="346.00" font-size="2.5" fill="#555" text-anchor="middle">PML</text>
<ellipse cx="212.3" cy="349.4" rx="2.8" ry="1.6" fill="#dcdcdc"/>
<text x="212.3" y="350.00" font-size="2.5" fill="#555" text-anchor="middle">STAT3</text>
<ellipse cx="222.0" cy="355.3" rx="2.8" ry="1.6" fill="#dcdcdc"/>
<text x="222.0" y="355.90" font-size="2.5" fill="#555" text-anchor="middle">CEBPB</text>
<ellipse cx="324.4" cy="316.8" rx="2.8" ry="1.6" fill="#dcdcdc"/>
<text x="324.4" y="317.40" font-size="2.5" fill="#555" text-anchor="middle">MYC</text>
<ellipse cx="309.4" cy="330.9" rx="2.8" ry="1.6" fill="#dcdcdc"/>
<text x="309.4" y="331.50" font-size="2.5" fill="#555" text-anchor="middle">JUN</text>
<ellipse cx="316.4" cy="339.4" rx="2.8" ry="1.6" fill="#dcdcdc"/>
<text x="316.4" y="340.00" font-size="2.5" fill="#555" text-anchor="middle">SMAD3</text>
<ellipse cx="354.3" cy="324.2" rx="2.8" ry="1.6" fill="#dcdcdc"/>
<text x="354.3" y="324.80" font-size="2.5" fill="#555" text-anchor="middle">EP300</text>
<ellipse cx="341.1" cy="330.0" rx="2.8" ry="1.6" fill="#dcdcdc"/>
<text x="341.1" y="330.60" font-size="2.5" fill="#555" text-anchor="middle">VDR</text>
<ellipse cx="344.6" cy="339.4" rx="2.8" ry="1.6" fill="#dcdcdc"/>
<text x="344.6" y="340.00" font-size="2.5" fill="#555" text-anchor="middle">FOS</text>
<ellipse cx="364.0" cy="340.6" rx="2.8" ry="1.6" fill="#dcdcdc"/>
<text x="364.0" y="341.20" font-size="2.5" fill="#555" text-anchor="middle">RB1</text>
<ellipse cx="374.6" cy="345.0" rx="2.8" ry="1.6" fill="#dcdcdc"/>
<text x="374.6" y="345.60" font-size="2.5" fill="#555" text-anchor="middle">ESR1</text>
<ellipse cx="379.0" cy="353.5" rx="2.8" ry="1.6" fill="#dcdcdc"/>
<text x="379.0" y="354.10" font-size="2.5" fill="#555" text-anchor="middle">RB1</text>
<ellipse cx="391.4" cy="356.0" rx="2.8" ry="1.6" fill="#dcdcdc"/>
<text x="391.4" y="356.60" font-size="2.5" fill="#555" text-anchor="middle">ESR1</text>
<ellipse cx="204.4" cy="358.5" rx="2.8" ry="1.6" fill="#dcdcdc"/>
<text x="204.4" y="359.10" font-size="2.5" fill="#555" text-anchor="middle">RB1</text>
<ellipse cx="225.6" cy="363.8" rx="2.8" ry="1.6" fill="#dcdcdc"/>
<text x="225.6" y="364.40" font-size="2.5" fill="#555" text-anchor="middle">MED1</text>
<ellipse cx="215.0" cy="370.3" rx="2.8" ry="1.6" fill="#dcdcdc"/>
<text x="215.0" y="370.90" font-size="2.5" fill="#555" text-anchor="middle">SUMO1</text>
<ellipse cx="225.6" cy="375.0" rx="2.8" ry="1.6" fill="#dcdcdc"/>
<text x="225.6" y="375.60" font-size="2.5" fill="#555" text-anchor="middle">VDR</text>
<ellipse cx="237.9" cy="380.3" rx="2.8" ry="1.6" fill="#dcdcdc"/>
<text x="237.9" y="380.90" font-size="2.5" fill="#555" text-anchor="middle">CEBPB</text>
<ellipse cx="346.8" cy="362.7" rx="2.8" ry="1.6" fill="#dcdcdc"/>
<text x="346.8" y="363.30" font-size="2.5" fill="#555" text-anchor="middle">STAT3</text>
<ellipse cx="350.8" cy="376.1" rx="2.8" ry="1.6" fill="#dcdcdc"/>
<text x="350.8" y="376.70" font-size="2.5" fill="#555" text-anchor="middle">MYC</text>
<ellipse cx="334.9" cy="380.3" rx="2.8" ry="1.6" fill="#dcdcdc"/>
<text x="334.9" y="380.90" font-size="2.5" fill="#555" text-anchor="middle">KAT5</text>
<ellipse cx="379.6" cy="353.2" rx="2.8" ry="1.6" fill="#dcdcdc"/>
<text x="379.6" y="353.80" font-size="2.5" fill="#555" text-anchor="middle">SMAD3</text>
<circle cx="220.8" cy="332.3" r="2.00" fill="#e8436b"/>
<text x="220.8" y="333.18" font-size="2.50" fill="#6a1028" text-anchor="middle">SUMO1</text>
<circle cx="285.0" cy="325.3" r="3.00" fill="#e8436b"/>
<text x="285.0" y="326.18" font-size="2.50" fill="#6a1028" text-anchor="middle">MED1</text>
<circle cx="291.4" cy="334.1" r="3.50" fill="#e8436b"/>
<text x="291.4" y="334.98" font-size="2.50" fill="#6a1028" text-anchor="middle">UBC</text>
<circle cx="312.0" cy="347.2" r="4.50" fill="#e8436b"/>
<text x="312.0" y="348.30" font-size="3.15" fill="#6a1028" text-anchor="middle">EZH2</text>
<circle cx="295.9" cy="364.5" r="4.00" fill="#e8436b"/>
<text x="295.9" y="365.48" font-size="2.80" fill="#6a1028" text-anchor="middle">CEBPB</text>
<circle cx="277.0" cy="374.7" r="4.50" fill="#e8436b"/>
<text x="277.0" y="375.80" font-size="3.15" fill="#6a1028" text-anchor="middle">MED1</text>
<circle cx="299.4" cy="387.4" r="6.00" fill="#e8436b"/>
<text x="299.4" y="388.52" font-size="3.20" fill="#6a1028" text-anchor="middle">RARA</text>
<circle cx="213.2" cy="361.0" r="1.50" fill="#e8436b"/>
<text x="213.2" y="361.88" font-size="2.50" fill="#6a1028" text-anchor="middle">IRF1</text>
<line x1="271.8" y1="423.4" x2="242.3" y2="457.3" stroke="rgba(95,190,95,0.36)" stroke-width="0.35"/>
<line x1="271.8" y1="423.4" x2="251.1" y2="458.0" stroke="rgba(95,190,95,0.36)" stroke-width="0.35"/>
<line x1="271.8" y1="423.4" x2="260.0" y2="455.0" stroke="rgba(95,190,95,0.36)" stroke-width="0.35"/>
<line x1="271.8" y1="423.4" x2="267.9" y2="459.0" stroke="rgba(95,190,95,0.36)" stroke-width="0.35"/>
<line x1="271.8" y1="423.4" x2="226.1" y2="462.6" stroke="rgba(95,190,95,0.36)" stroke-width="0.35"/>
<line x1="271.8" y1="423.4" x2="217.6" y2="467.9" stroke="rgba(95,190,95,0.36)" stroke-width="0.35"/>
<line x1="271.8" y1="423.4" x2="252.6" y2="468.6" stroke="rgba(95,190,95,0.36)" stroke-width="0.35"/>
<line x1="271.8" y1="423.4" x2="260.8" y2="465.6" stroke="rgba(95,190,95,0.36)" stroke-width="0.35"/>
<line x1="271.8" y1="423.4" x2="226.5" y2="472.6" stroke="rgba(95,190,95,0.36)" stroke-width="0.35"/>
<line x1="271.8" y1="423.4" x2="257.3" y2="477.4" stroke="rgba(95,190,95,0.36)" stroke-width="0.35"/>
<line x1="271.8" y1="423.4" x2="250.3" y2="486.2" stroke="rgba(95,190,95,0.36)" stroke-width="0.35"/>
<line x1="271.8" y1="423.4" x2="224.7" y2="492.9" stroke="rgba(95,190,95,0.36)" stroke-width="0.35"/>
<line x1="271.8" y1="423.4" x2="252.9" y2="495.0" stroke="rgba(95,190,95,0.36)" stroke-width="0.35"/>
<line x1="271.8" y1="423.4" x2="261.7" y2="490.3" stroke="rgba(95,190,95,0.36)" stroke-width="0.35"/>
<line x1="271.8" y1="423.4" x2="296.7" y2="455.3" stroke="rgba(95,190,95,0.36)" stroke-width="0.35"/>
<line x1="271.8" y1="423.4" x2="313.0" y2="453.5" stroke="rgba(95,190,95,0.36)" stroke-width="0.35"/>
<line x1="271.8" y1="423.4" x2="279.1" y2="457.9" stroke="rgba(95,190,95,0.36)" stroke-width="0.35"/>
<line x1="271.8" y1="423.4" x2="289.7" y2="458.3" stroke="rgba(95,190,95,0.36)" stroke-width="0.35"/>
<line x1="271.8" y1="423.4" x2="321.4" y2="458.8" stroke="rgba(95,190,95,0.36)" stroke-width="0.35"/>
<line x1="271.8" y1="423.4" x2="300.3" y2="463.2" stroke="rgba(95,190,95,0.36)" stroke-width="0.35"/>
<line x1="271.8" y1="423.4" x2="286.2" y2="467.1" stroke="rgba(95,190,95,0.36)" stroke-width="0.35"/>
<line x1="271.8" y1="423.4" x2="267.6" y2="469.4" stroke="rgba(95,190,95,0.36)" stroke-width="0.35"/>
<line x1="271.8" y1="423.4" x2="296.4" y2="471.2" stroke="rgba(95,190,95,0.36)" stroke-width="0.35"/>
<line x1="271.8" y1="423.4" x2="310.0" y2="472.0" stroke="rgba(95,190,95,0.36)" stroke-width="0.35"/>
<line x1="271.8" y1="423.4" x2="301.2" y2="477.3" stroke="rgba(95,190,95,0.36)" stroke-width="0.35"/>
<line x1="271.8" y1="423.4" x2="295.9" y2="484.7" stroke="rgba(95,190,95,0.36)" stroke-width="0.35"/>
<line x1="271.8" y1="423.4" x2="325.0" y2="481.7" stroke="rgba(95,190,95,0.36)" stroke-width="0.35"/>
<line x1="271.8" y1="423.4" x2="321.4" y2="490.0" stroke="rgba(95,190,95,0.36)" stroke-width="0.35"/>
<line x1="271.8" y1="423.4" x2="371.1" y2="464.6" stroke="rgba(95,190,95,0.36)" stroke-width="0.35"/>
<line x1="271.8" y1="423.4" x2="335.8" y2="461.5" stroke="rgba(95,190,95,0.36)" stroke-width="0.35"/>
<line x1="271.8" y1="423.4" x2="375.5" y2="484.7" stroke="rgba(95,190,95,0.36)" stroke-width="0.35"/>
<line x1="271.8" y1="423.4" x2="335.5" y2="487.6" stroke="rgba(95,190,95,0.36)" stroke-width="0.35"/>
<line x1="271.8" y1="423.4" x2="238.6" y2="501.8" stroke="rgba(95,190,95,0.36)" stroke-width="0.35"/>
<line x1="271.8" y1="423.4" x2="285.8" y2="500.9" stroke="rgba(95,190,95,0.36)" stroke-width="0.35"/>
<line x1="271.8" y1="423.4" x2="298.2" y2="499.5" stroke="rgba(95,190,95,0.36)" stroke-width="0.35"/>
<line x1="271.8" y1="423.4" x2="242.3" y2="468.2" stroke="rgba(95,190,95,0.36)" stroke-width="0.35"/>
<line x1="280.4" y1="416.6" x2="242.3" y2="457.3" stroke="rgba(95,190,95,0.36)" stroke-width="0.35"/>
<line x1="280.4" y1="416.6" x2="251.1" y2="458.0" stroke="rgba(95,190,95,0.36)" stroke-width="0.35"/>
<line x1="280.4" y1="416.6" x2="260.0" y2="455.0" stroke="rgba(95,190,95,0.36)" stroke-width="0.35"/>
<line x1="280.4" y1="416.6" x2="267.9" y2="459.0" stroke="rgba(95,190,95,0.36)" stroke-width="0.35"/>
<line x1="280.4" y1="416.6" x2="226.1" y2="462.6" stroke="rgba(95,190,95,0.36)" stroke-width="0.35"/>
<line x1="280.4" y1="416.6" x2="260.8" y2="465.6" stroke="rgba(95,190,95,0.36)" stroke-width="0.35"/>
<line x1="280.4" y1="416.6" x2="226.5" y2="472.6" stroke="rgba(95,190,95,0.36)" stroke-width="0.35"/>
<line x1="280.4" y1="416.6" x2="257.3" y2="477.4" stroke="rgba(95,190,95,0.36)" stroke-width="0.35"/>
<line x1="280.4" y1="416.6" x2="273.5" y2="452.6" stroke="rgba(95,190,95,0.36)" stroke-width="0.35"/>
<line x1="280.4" y1="416.6" x2="296.7" y2="455.3" stroke="rgba(95,190,95,0.36)" stroke-width="0.35"/>
<line x1="280.4" y1="416.6" x2="313.0" y2="453.5" stroke="rgba(95,190,95,0.36)" stroke-width="0.35"/>
<line x1="280.4" y1="416.6" x2="279.1" y2="457.9" stroke="rgba(95,190,95,0.36)" stroke-width="0.35"/>
<line x1="280.4" y1="416.6" x2="289.7" y2="458.3" stroke="rgba(95,190,95,0.36)" stroke-width="0.35"/>
<line x1="280.4" y1="416.6" x2="308.2" y2="461.5" stroke="rgba(95,190,95,0.36)" stroke-width="0.35"/>
<line x1="280.4" y1="416.6" x2="300.3" y2="463.2" stroke="rgba(95,190,95,0.36)" stroke-width="0.35"/>
<line x1="280.4" y1="416.6" x2="286.2" y2="467.1" stroke="rgba(95,190,95,0.36)" stroke-width="0.35"/>
<line x1="280.4" y1="416.6" x2="317.9" y2="467.1" stroke="rgba(95,190,95,0.36)" stroke-width="0.35"/>
<line x1="280.4" y1="416.6" x2="328.5" y2="466.4" stroke="rgba(95,190,95,0.36)" stroke-width="0.35"/>
<line x1="280.4" y1="416.6" x2="267.6" y2="469.4" stroke="rgba(95,190,95,0.36)" stroke-width="0.35"/>
<line x1="280.4" y1="416.6" x2="324.1" y2="472.9" stroke="rgba(95,190,95,0.36)" stroke-width="0.35"/>
<line x1="280.4" y1="416.6" x2="272.9" y2="477.3" stroke="rgba(95,190,95,0.36)" stroke-width="0.35"/>
<line x1="280.4" y1="416.6" x2="287.0" y2="475.9" stroke="rgba(95,190,95,0.36)" stroke-width="0.35"/>
<line x1="280.4" y1="416.6" x2="295.9" y2="484.7" stroke="rgba(95,190,95,0.36)" stroke-width="0.35"/>
<line x1="280.4" y1="416.6" x2="344.6" y2="457.6" stroke="rgba(95,190,95,0.36)" stroke-width="0.35"/>
<line x1="280.4" y1="416.6" x2="371.1" y2="464.6" stroke="rgba(95,190,95,0.36)" stroke-width="0.35"/>
<line x1="280.4" y1="416.6" x2="362.3" y2="465.0" stroke="rgba(95,190,95,0.36)" stroke-width="0.35"/>
<line x1="280.4" y1="416.6" x2="335.8" y2="461.5" stroke="rgba(95,190,95,0.36)" stroke-width="0.35"/>
<line x1="280.4" y1="416.6" x2="344.6" y2="479.4" stroke="rgba(95,190,95,0.36)" stroke-width="0.35"/>
<line x1="280.4" y1="416.6" x2="354.3" y2="494.1" stroke="rgba(95,190,95,0.36)" stroke-width="0.35"/>
<line x1="280.4" y1="416.6" x2="263.5" y2="499.5" stroke="rgba(95,190,95,0.36)" stroke-width="0.35"/>
<line x1="280.4" y1="416.6" x2="293.0" y2="507.7" stroke="rgba(95,190,95,0.36)" stroke-width="0.35"/>
<line x1="280.4" y1="416.6" x2="329.3" y2="509.6" stroke="rgba(95,190,95,0.36)" stroke-width="0.35"/>
<line x1="280.4" y1="416.6" x2="207.9" y2="485.5" stroke="rgba(95,190,95,0.36)" stroke-width="0.35"/>
<line x1="289.0" y1="422.1" x2="242.3" y2="457.3" stroke="rgba(95,190,95,0.36)" stroke-width="0.35"/>
<line x1="289.0" y1="422.1" x2="260.0" y2="455.0" stroke="rgba(95,190,95,0.36)" stroke-width="0.35"/>
<line x1="289.0" y1="422.1" x2="226.1" y2="462.6" stroke="rgba(95,190,95,0.36)" stroke-width="0.35"/>
<line x1="289.0" y1="422.1" x2="217.6" y2="467.9" stroke="rgba(95,190,95,0.36)" stroke-width="0.35"/>
<line x1="289.0" y1="422.1" x2="260.8" y2="465.6" stroke="rgba(95,190,95,0.36)" stroke-width="0.35"/>
<line x1="289.0" y1="422.1" x2="226.5" y2="472.6" stroke="rgba(95,190,95,0.36)" stroke-width="0.35"/>
<line x1="289.0" y1="422.1" x2="246.7" y2="477.9" stroke="rgba(95,190,95,0.36)" stroke-width="0.35"/>
<line x1="289.0" y1="422.1" x2="238.4" y2="482.7" stroke="rgba(95,190,95,0.36)" stroke-width="0.35"/>
<line x1="289.0" y1="422.1" x2="273.5" y2="452.6" stroke="rgba(95,190,95,0.36)" stroke-width="0.35"/>
<line x1="289.0" y1="422.1" x2="296.7" y2="455.3" stroke="rgba(95,190,95,0.36)" stroke-width="0.35"/>
<line x1="289.0" y1="422.1" x2="313.0" y2="453.5" stroke="rgba(95,190,95,0.36)" stroke-width="0.35"/>
<line x1="289.0" y1="422.1" x2="330.3" y2="454.8" stroke="rgba(95,190,95,0.36)" stroke-width="0.35"/>
<line x1="289.0" y1="422.1" x2="289.7" y2="458.3" stroke="rgba(95,190,95,0.36)" stroke-width="0.35"/>
<line x1="289.0" y1="422.1" x2="308.2" y2="461.5" stroke="rgba(95,190,95,0.36)" stroke-width="0.35"/>
<line x1="289.0" y1="422.1" x2="321.4" y2="458.8" stroke="rgba(95,190,95,0.36)" stroke-width="0.35"/>
<line x1="289.0" y1="422.1" x2="300.3" y2="463.2" stroke="rgba(95,190,95,0.36)" stroke-width="0.35"/>
<line x1="289.0" y1="422.1" x2="286.2" y2="467.1" stroke="rgba(95,190,95,0.36)" stroke-width="0.35"/>
<line x1="289.0" y1="422.1" x2="317.9" y2="467.1" stroke="rgba(95,190,95,0.36)" stroke-width="0.35"/>
<line x1="289.0" y1="422.1" x2="328.5" y2="466.4" stroke="rgba(95,190,95,0.36)" stroke-width="0.35"/>
<line x1="289.0" y1="422.1" x2="276.5" y2="468.5" stroke="rgba(95,190,95,0.36)" stroke-width="0.35"/>
<line x1="289.0" y1="422.1" x2="267.6" y2="469.4" stroke="rgba(95,190,95,0.36)" stroke-width="0.35"/>
<line x1="289.0" y1="422.1" x2="265.0" y2="477.5" stroke="rgba(95,190,95,0.36)" stroke-width="0.35"/>
<line x1="289.0" y1="422.1" x2="272.9" y2="477.3" stroke="rgba(95,190,95,0.36)" stroke-width="0.35"/>
<line x1="289.0" y1="422.1" x2="317.9" y2="477.3" stroke="rgba(95,190,95,0.36)" stroke-width="0.35"/>
<line x1="289.0" y1="422.1" x2="286.2" y2="485.3" stroke="rgba(95,190,95,0.36)" stroke-width="0.35"/>
<line x1="289.0" y1="422.1" x2="311.7" y2="491.4" stroke="rgba(95,190,95,0.36)" stroke-width="0.35"/>
<line x1="289.0" y1="422.1" x2="344.6" y2="457.6" stroke="rgba(95,190,95,0.36)" stroke-width="0.35"/>
<line x1="289.0" y1="422.1" x2="354.9" y2="460.0" stroke="rgba(95,190,95,0.36)" stroke-width="0.35"/>
<line x1="289.0" y1="422.1" x2="335.8" y2="461.5" stroke="rgba(95,190,95,0.36)" stroke-width="0.35"/>
<line x1="289.0" y1="422.1" x2="341.1" y2="468.2" stroke="rgba(95,190,95,0.36)" stroke-width="0.35"/>
<line x1="289.0" y1="422.1" x2="334.1" y2="476.4" stroke="rgba(95,190,95,0.36)" stroke-width="0.35"/>
<line x1="289.0" y1="422.1" x2="356.1" y2="483.5" stroke="rgba(95,190,95,0.36)" stroke-width="0.35"/>
<line x1="289.0" y1="422.1" x2="263.5" y2="499.5" stroke="rgba(95,190,95,0.36)" stroke-width="0.35"/>
<line x1="289.0" y1="422.1" x2="208.8" y2="476.2" stroke="rgba(95,190,95,0.36)" stroke-width="0.35"/>
<line x1="302.0" y1="423.4" x2="251.1" y2="458.0" stroke="rgba(95,190,95,0.36)" stroke-width="0.35"/>
<line x1="302.0" y1="423.4" x2="260.0" y2="455.0" stroke="rgba(95,190,95,0.36)" stroke-width="0.35"/>
<line x1="302.0" y1="423.4" x2="267.9" y2="459.0" stroke="rgba(95,190,95,0.36)" stroke-width="0.35"/>
<line x1="302.0" y1="423.4" x2="252.6" y2="468.6" stroke="rgba(95,190,95,0.36)" stroke-width="0.35"/>
<line x1="302.0" y1="423.4" x2="260.8" y2="465.6" stroke="rgba(95,190,95,0.36)" stroke-width="0.35"/>
<line x1="302.0" y1="423.4" x2="246.7" y2="477.9" stroke="rgba(95,190,95,0.36)" stroke-width="0.35"/>
<line x1="302.0" y1="423.4" x2="264.4" y2="481.4" stroke="rgba(95,190,95,0.36)" stroke-width="0.35"/>
<line x1="302.0" y1="423.4" x2="261.7" y2="490.3" stroke="rgba(95,190,95,0.36)" stroke-width="0.35"/>
<line x1="302.0" y1="423.4" x2="273.5" y2="452.6" stroke="rgba(95,190,95,0.36)" stroke-width="0.35"/>
<line x1="302.0" y1="423.4" x2="296.7" y2="455.3" stroke="rgba(95,190,95,0.36)" stroke-width="0.35"/>
<line x1="302.0" y1="423.4" x2="313.0" y2="453.5" stroke="rgba(95,190,95,0.36)" stroke-width="0.35"/>
<line x1="302.0" y1="423.4" x2="330.3" y2="454.8" stroke="rgba(95,190,95,0.36)" stroke-width="0.35"/>
<line x1="302.0" y1="423.4" x2="289.7" y2="458.3" stroke="rgba(95,190,95,0.36)" stroke-width="0.35"/>
<line x1="302.0" y1="423.4" x2="321.4" y2="458.8" stroke="rgba(95,190,95,0.36)" stroke-width="0.35"/>
<line x1="302.0" y1="423.4" x2="300.3" y2="463.2" stroke="rgba(95,190,95,0.36)" stroke-width="0.35"/>
<line x1="302.0" y1="423.4" x2="286.2" y2="467.1" stroke="rgba(95,190,95,0.36)" stroke-width="0.35"/>
<line x1="302.0" y1="423.4" x2="317.9" y2="467.1" stroke="rgba(95,190,95,0.36)" stroke-width="0.35"/>
<line x1="302.0" y1="423.4" x2="328.5" y2="466.4" stroke="rgba(95,190,95,0.36)" stroke-width="0.35"/>
<line x1="302.0" y1="423.4" x2="267.6" y2="469.4" stroke="rgba(95,190,95,0.36)" stroke-width="0.35"/>
<line x1="302.0" y1="423.4" x2="265.0" y2="477.5" stroke="rgba(95,190,95,0.36)" stroke-width="0.35"/>
<line x1="302.0" y1="423.4" x2="296.4" y2="471.2" stroke="rgba(95,190,95,0.36)" stroke-width="0.35"/>
<line x1="302.0" y1="423.4" x2="310.0" y2="472.0" stroke="rgba(95,190,95,0.36)" stroke-width="0.35"/>
<line x1="302.0" y1="423.4" x2="286.2" y2="485.3" stroke="rgba(95,190,95,0.36)" stroke-width="0.35"/>
<line x1="302.0" y1="423.4" x2="275.6" y2="492.8" stroke="rgba(95,190,95,0.36)" stroke-width="0.35"/>
<line x1="302.0" y1="423.4" x2="291.5" y2="492.8" stroke="rgba(95,190,95,0.36)" stroke-width="0.35"/>
<line x1="302.0" y1="423.4" x2="354.9" y2="460.0" stroke="rgba(95,190,95,0.36)" stroke-width="0.35"/>
<line x1="302.0" y1="423.4" x2="341.1" y2="468.2" stroke="rgba(95,190,95,0.36)" stroke-width="0.35"/>
<line x1="302.0" y1="423.4" x2="349.0" y2="468.2" stroke="rgba(95,190,95,0.36)" stroke-width="0.35"/>
<line x1="302.0" y1="423.4" x2="354.3" y2="475.2" stroke="rgba(95,190,95,0.36)" stroke-width="0.35"/>
<line x1="302.0" y1="423.4" x2="344.6" y2="479.4" stroke="rgba(95,190,95,0.36)" stroke-width="0.35"/>
<line x1="302.0" y1="423.4" x2="335.5" y2="487.6" stroke="rgba(95,190,95,0.36)" stroke-width="0.35"/>
<line x1="302.0" y1="423.4" x2="354.3" y2="494.1" stroke="rgba(95,190,95,0.36)" stroke-width="0.35"/>
<line x1="302.0" y1="423.4" x2="320.0" y2="507.1" stroke="rgba(95,190,95,0.36)" stroke-width="0.35"/>
<line x1="302.0" y1="423.4" x2="374.6" y2="474.2" stroke="rgba(95,190,95,0.36)" stroke-width="0.35"/>
<line x1="309.4" y1="415.3" x2="242.3" y2="457.3" stroke="rgba(95,190,95,0.36)" stroke-width="0.35"/>
<line x1="309.4" y1="415.3" x2="260.0" y2="455.0" stroke="rgba(95,190,95,0.36)" stroke-width="0.35"/>
<line x1="309.4" y1="415.3" x2="267.9" y2="459.0" stroke="rgba(95,190,95,0.36)" stroke-width="0.35"/>
<line x1="309.4" y1="415.3" x2="235.3" y2="462.6" stroke="rgba(95,190,95,0.36)" stroke-width="0.35"/>
<line x1="309.4" y1="415.3" x2="252.6" y2="468.6" stroke="rgba(95,190,95,0.36)" stroke-width="0.35"/>
<line x1="309.4" y1="415.3" x2="238.4" y2="482.7" stroke="rgba(95,190,95,0.36)" stroke-width="0.35"/>
<line x1="309.4" y1="415.3" x2="261.7" y2="490.3" stroke="rgba(95,190,95,0.36)" stroke-width="0.35"/>
<line x1="309.4" y1="415.3" x2="267.9" y2="496.1" stroke="rgba(95,190,95,0.36)" stroke-width="0.35"/>
<line x1="309.4" y1="415.3" x2="273.5" y2="452.6" stroke="rgba(95,190,95,0.36)" stroke-width="0.35"/>
<line x1="309.4" y1="415.3" x2="296.7" y2="455.3" stroke="rgba(95,190,95,0.36)" stroke-width="0.35"/>
<line x1="309.4" y1="415.3" x2="313.0" y2="453.5" stroke="rgba(95,190,95,0.36)" stroke-width="0.35"/>
<line x1="309.4" y1="415.3" x2="330.3" y2="454.8" stroke="rgba(95,190,95,0.36)" stroke-width="0.35"/>
<line x1="309.4" y1="415.3" x2="279.1" y2="457.9" stroke="rgba(95,190,95,0.36)" stroke-width="0.35"/>
<line x1="309.4" y1="415.3" x2="289.7" y2="458.3" stroke="rgba(95,190,95,0.36)" stroke-width="0.35"/>
<line x1="309.4" y1="415.3" x2="321.4" y2="458.8" stroke="rgba(95,190,95,0.36)" stroke-width="0.35"/>
<line x1="309.4" y1="415.3" x2="286.2" y2="467.1" stroke="rgba(95,190,95,0.36)" stroke-width="0.35"/>
<line x1="309.4" y1="415.3" x2="317.9" y2="467.1" stroke="rgba(95,190,95,0.36)" stroke-width="0.35"/>
<line x1="309.4" y1="415.3" x2="265.0" y2="477.5" stroke="rgba(95,190,95,0.36)" stroke-width="0.35"/>
<line x1="309.4" y1="415.3" x2="310.0" y2="472.0" stroke="rgba(95,190,95,0.36)" stroke-width="0.35"/>
<line x1="309.4" y1="415.3" x2="272.9" y2="477.3" stroke="rgba(95,190,95,0.36)" stroke-width="0.35"/>
<line x1="309.4" y1="415.3" x2="317.9" y2="477.3" stroke="rgba(95,190,95,0.36)" stroke-width="0.35"/>
<line x1="309.4" y1="415.3" x2="286.2" y2="485.3" stroke="rgba(95,190,95,0.36)" stroke-width="0.35"/>
<line x1="309.4" y1="415.3" x2="325.0" y2="481.7" stroke="rgba(95,190,95,0.36)" stroke-width="0.35"/>
<line x1="309.4" y1="415.3" x2="302.9" y2="490.6" stroke="rgba(95,190,95,0.36)" stroke-width="0.35"/>
<line x1="309.4" y1="415.3" x2="344.6" y2="457.6" stroke="rgba(95,190,95,0.36)" stroke-width="0.35"/>
<line x1="309.4" y1="415.3" x2="354.9" y2="460.0" stroke="rgba(95,190,95,0.36)" stroke-width="0.35"/>
<line x1="309.4" y1="415.3" x2="371.1" y2="464.6" stroke="rgba(95,190,95,0.36)" stroke-width="0.35"/>
<line x1="309.4" y1="415.3" x2="362.3" y2="465.0" stroke="rgba(95,190,95,0.36)" stroke-width="0.35"/>
<line x1="309.4" y1="415.3" x2="335.8" y2="461.5" stroke="rgba(95,190,95,0.36)" stroke-width="0.35"/>
<line x1="309.4" y1="415.3" x2="341.1" y2="468.2" stroke="rgba(95,190,95,0.36)" stroke-width="0.35"/>
<line x1="309.4" y1="415.3" x2="349.0" y2="468.2" stroke="rgba(95,190,95,0.36)" stroke-width="0.35"/>
<line x1="309.4" y1="415.3" x2="334.1" y2="476.4" stroke="rgba(95,190,95,0.36)" stroke-width="0.35"/>
<line x1="309.4" y1="415.3" x2="356.1" y2="483.5" stroke="rgba(95,190,95,0.36)" stroke-width="0.35"/>
<line x1="309.4" y1="415.3" x2="366.2" y2="482.6" stroke="rgba(95,190,95,0.36)" stroke-width="0.35"/>
<line x1="309.4" y1="415.3" x2="375.5" y2="484.7" stroke="rgba(95,190,95,0.36)" stroke-width="0.35"/>
<line x1="309.4" y1="415.3" x2="346.8" y2="487.9" stroke="rgba(95,190,95,0.36)" stroke-width="0.35"/>
<line x1="309.4" y1="415.3" x2="229.5" y2="500.2" stroke="rgba(95,190,95,0.36)" stroke-width="0.35"/>
<line x1="309.4" y1="415.3" x2="249.5" y2="504.7" stroke="rgba(95,190,95,0.36)" stroke-width="0.35"/>
<line x1="309.4" y1="415.3" x2="207.9" y2="485.5" stroke="rgba(95,190,95,0.36)" stroke-width="0.35"/>
<line x1="315.1" y1="424.3" x2="242.3" y2="457.3" stroke="rgba(95,190,95,0.36)" stroke-width="0.35"/>
<line x1="315.1" y1="424.3" x2="235.3" y2="462.6" stroke="rgba(95,190,95,0.36)" stroke-width="0.35"/>
<line x1="315.1" y1="424.3" x2="257.3" y2="477.4" stroke="rgba(95,190,95,0.36)" stroke-width="0.35"/>
<line x1="315.1" y1="424.3" x2="273.5" y2="452.6" stroke="rgba(95,190,95,0.36)" stroke-width="0.35"/>
<line x1="315.1" y1="424.3" x2="296.7" y2="455.3" stroke="rgba(95,190,95,0.36)" stroke-width="0.35"/>
<line x1="315.1" y1="424.3" x2="313.0" y2="453.5" stroke="rgba(95,190,95,0.36)" stroke-width="0.35"/>
<line x1="315.1" y1="424.3" x2="279.1" y2="457.9" stroke="rgba(95,190,95,0.36)" stroke-width="0.35"/>
<line x1="315.1" y1="424.3" x2="289.7" y2="458.3" stroke="rgba(95,190,95,0.36)" stroke-width="0.35"/>
<line x1="315.1" y1="424.3" x2="308.2" y2="461.5" stroke="rgba(95,190,95,0.36)" stroke-width="0.35"/>
<line x1="315.1" y1="424.3" x2="321.4" y2="458.8" stroke="rgba(95,190,95,0.36)" stroke-width="0.35"/>
<line x1="315.1" y1="424.3" x2="300.3" y2="463.2" stroke="rgba(95,190,95,0.36)" stroke-width="0.35"/>
<line x1="315.1" y1="424.3" x2="286.2" y2="467.1" stroke="rgba(95,190,95,0.36)" stroke-width="0.35"/>
<line x1="315.1" y1="424.3" x2="317.9" y2="467.1" stroke="rgba(95,190,95,0.36)" stroke-width="0.35"/>
<line x1="315.1" y1="424.3" x2="328.5" y2="466.4" stroke="rgba(95,190,95,0.36)" stroke-width="0.35"/>
<line x1="315.1" y1="424.3" x2="267.6" y2="469.4" stroke="rgba(95,190,95,0.36)" stroke-width="0.35"/>
<line x1="315.1" y1="424.3" x2="296.4" y2="471.2" stroke="rgba(95,190,95,0.36)" stroke-width="0.35"/>
<line x1="315.1" y1="424.3" x2="310.0" y2="472.0" stroke="rgba(95,190,95,0.36)" stroke-width="0.35"/>
<line x1="315.1" y1="424.3" x2="324.1" y2="472.9" stroke="rgba(95,190,95,0.36)" stroke-width="0.35"/>
<line x1="315.1" y1="424.3" x2="287.0" y2="475.9" stroke="rgba(95,190,95,0.36)" stroke-width="0.35"/>
<line x1="315.1" y1="424.3" x2="295.9" y2="484.7" stroke="rgba(95,190,95,0.36)" stroke-width="0.35"/>
<line x1="315.1" y1="424.3" x2="310.0" y2="482.3" stroke="rgba(95,190,95,0.36)" stroke-width="0.35"/>
<line x1="315.1" y1="424.3" x2="325.0" y2="481.7" stroke="rgba(95,190,95,0.36)" stroke-width="0.35"/>
<line x1="315.1" y1="424.3" x2="302.9" y2="490.6" stroke="rgba(95,190,95,0.36)" stroke-width="0.35"/>
<line x1="315.1" y1="424.3" x2="344.6" y2="457.6" stroke="rgba(95,190,95,0.36)" stroke-width="0.35"/>
<line x1="315.1" y1="424.3" x2="354.9" y2="460.0" stroke="rgba(95,190,95,0.36)" stroke-width="0.35"/>
<line x1="315.1" y1="424.3" x2="362.3" y2="465.0" stroke="rgba(95,190,95,0.36)" stroke-width="0.35"/>
<line x1="315.1" y1="424.3" x2="349.0" y2="468.2" stroke="rgba(95,190,95,0.36)" stroke-width="0.35"/>
<line x1="315.1" y1="424.3" x2="364.4" y2="473.4" stroke="rgba(95,190,95,0.36)" stroke-width="0.35"/>
<line x1="315.1" y1="424.3" x2="335.5" y2="487.6" stroke="rgba(95,190,95,0.36)" stroke-width="0.35"/>
<line x1="315.1" y1="424.3" x2="364.4" y2="491.1" stroke="rgba(95,190,95,0.36)" stroke-width="0.35"/>
<line x1="315.1" y1="424.3" x2="354.3" y2="494.1" stroke="rgba(95,190,95,0.36)" stroke-width="0.35"/>
<line x1="315.1" y1="424.3" x2="276.7" y2="502.5" stroke="rgba(95,190,95,0.36)" stroke-width="0.35"/>
<line x1="315.1" y1="424.3" x2="285.8" y2="500.9" stroke="rgba(95,190,95,0.36)" stroke-width="0.35"/>
<line x1="315.1" y1="424.3" x2="249.5" y2="504.7" stroke="rgba(95,190,95,0.36)" stroke-width="0.35"/>
<line x1="315.1" y1="424.3" x2="261.3" y2="506.3" stroke="rgba(95,190,95,0.36)" stroke-width="0.35"/>
<line x1="315.1" y1="424.3" x2="303.4" y2="509.3" stroke="rgba(95,190,95,0.36)" stroke-width="0.35"/>
<line x1="315.1" y1="424.3" x2="363.1" y2="500.3" stroke="rgba(95,190,95,0.36)" stroke-width="0.35"/>
<line x1="315.1" y1="424.3" x2="312.2" y2="510.0" stroke="rgba(95,190,95,0.36)" stroke-width="0.35"/>
<line x1="315.1" y1="424.3" x2="242.3" y2="468.2" stroke="rgba(95,190,95,0.36)" stroke-width="0.35"/>
<line x1="315.1" y1="424.3" x2="208.8" y2="476.2" stroke="rgba(95,190,95,0.36)" stroke-width="0.35"/>
<line x1="325.1" y1="418.2" x2="251.1" y2="458.0" stroke="rgba(95,190,95,0.36)" stroke-width="0.35"/>
<line x1="325.1" y1="418.2" x2="260.0" y2="455.0" stroke="rgba(95,190,95,0.36)" stroke-width="0.35"/>
<line x1="325.1" y1="418.2" x2="267.9" y2="459.0" stroke="rgba(95,190,95,0.36)" stroke-width="0.35"/>
<line x1="325.1" y1="418.2" x2="260.8" y2="465.6" stroke="rgba(95,190,95,0.36)" stroke-width="0.35"/>
<line x1="325.1" y1="418.2" x2="246.7" y2="477.9" stroke="rgba(95,190,95,0.36)" stroke-width="0.35"/>
<line x1="325.1" y1="418.2" x2="296.7" y2="455.3" stroke="rgba(95,190,95,0.36)" stroke-width="0.35"/>
<line x1="325.1" y1="418.2" x2="313.0" y2="453.5" stroke="rgba(95,190,95,0.36)" stroke-width="0.35"/>
<line x1="325.1" y1="418.2" x2="308.2" y2="461.5" stroke="rgba(95,190,95,0.36)" stroke-width="0.35"/>
<line x1="325.1" y1="418.2" x2="321.4" y2="458.8" stroke="rgba(95,190,95,0.36)" stroke-width="0.35"/>
<line x1="325.1" y1="418.2" x2="286.2" y2="467.1" stroke="rgba(95,190,95,0.36)" stroke-width="0.35"/>
<line x1="325.1" y1="418.2" x2="317.9" y2="467.1" stroke="rgba(95,190,95,0.36)" stroke-width="0.35"/>
<line x1="325.1" y1="418.2" x2="328.5" y2="466.4" stroke="rgba(95,190,95,0.36)" stroke-width="0.35"/>
<line x1="325.1" y1="418.2" x2="276.5" y2="468.5" stroke="rgba(95,190,95,0.36)" stroke-width="0.35"/>
<line x1="325.1" y1="418.2" x2="296.4" y2="471.2" stroke="rgba(95,190,95,0.36)" stroke-width="0.35"/>
<line x1="325.1" y1="418.2" x2="324.1" y2="472.9" stroke="rgba(95,190,95,0.36)" stroke-width="0.35"/>
<line x1="325.1" y1="418.2" x2="317.9" y2="477.3" stroke="rgba(95,190,95,0.36)" stroke-width="0.35"/>
<line x1="325.1" y1="418.2" x2="275.6" y2="485.3" stroke="rgba(95,190,95,0.36)" stroke-width="0.35"/>
<line x1="325.1" y1="418.2" x2="344.6" y2="457.6" stroke="rgba(95,190,95,0.36)" stroke-width="0.35"/>
<line x1="325.1" y1="418.2" x2="354.9" y2="460.0" stroke="rgba(95,190,95,0.36)" stroke-width="0.35"/>
<line x1="325.1" y1="418.2" x2="349.0" y2="468.2" stroke="rgba(95,190,95,0.36)" stroke-width="0.35"/>
<line x1="325.1" y1="418.2" x2="354.3" y2="475.2" stroke="rgba(95,190,95,0.36)" stroke-width="0.35"/>
<line x1="325.1" y1="418.2" x2="372.1" y2="498.6" stroke="rgba(95,190,95,0.36)" stroke-width="0.35"/>
<line x1="325.1" y1="418.2" x2="329.3" y2="509.6" stroke="rgba(95,190,95,0.36)" stroke-width="0.35"/>
<line x1="325.1" y1="418.2" x2="242.3" y2="468.2" stroke="rgba(95,190,95,0.36)" stroke-width="0.35"/>
<line x1="325.1" y1="418.2" x2="374.6" y2="474.2" stroke="rgba(95,190,95,0.36)" stroke-width="0.35"/>
<line x1="325.1" y1="418.2" x2="385.2" y2="484.7" stroke="rgba(95,190,95,0.36)" stroke-width="0.35"/>
<line x1="343.4" y1="415.3" x2="267.9" y2="459.0" stroke="rgba(95,190,95,0.36)" stroke-width="0.35"/>
<line x1="343.4" y1="415.3" x2="218.5" y2="477.4" stroke="rgba(95,190,95,0.36)" stroke-width="0.35"/>
<line x1="343.4" y1="415.3" x2="296.7" y2="455.3" stroke="rgba(95,190,95,0.36)" stroke-width="0.35"/>
<line x1="343.4" y1="415.3" x2="330.3" y2="454.8" stroke="rgba(95,190,95,0.36)" stroke-width="0.35"/>
<line x1="343.4" y1="415.3" x2="289.7" y2="458.3" stroke="rgba(95,190,95,0.36)" stroke-width="0.35"/>
<line x1="343.4" y1="415.3" x2="321.4" y2="458.8" stroke="rgba(95,190,95,0.36)" stroke-width="0.35"/>
<line x1="343.4" y1="415.3" x2="300.3" y2="463.2" stroke="rgba(95,190,95,0.36)" stroke-width="0.35"/>
<line x1="343.4" y1="415.3" x2="286.2" y2="467.1" stroke="rgba(95,190,95,0.36)" stroke-width="0.35"/>
<line x1="343.4" y1="415.3" x2="310.0" y2="472.0" stroke="rgba(95,190,95,0.36)" stroke-width="0.35"/>
<line x1="343.4" y1="415.3" x2="324.1" y2="472.9" stroke="rgba(95,190,95,0.36)" stroke-width="0.35"/>
<line x1="343.4" y1="415.3" x2="301.2" y2="477.3" stroke="rgba(95,190,95,0.36)" stroke-width="0.35"/>
<line x1="343.4" y1="415.3" x2="325.0" y2="481.7" stroke="rgba(95,190,95,0.36)" stroke-width="0.35"/>
<line x1="343.4" y1="415.3" x2="275.6" y2="492.8" stroke="rgba(95,190,95,0.36)" stroke-width="0.35"/>
<line x1="343.4" y1="415.3" x2="344.6" y2="457.6" stroke="rgba(95,190,95,0.36)" stroke-width="0.35"/>
<line x1="343.4" y1="415.3" x2="362.3" y2="465.0" stroke="rgba(95,190,95,0.36)" stroke-width="0.35"/>
<line x1="343.4" y1="415.3" x2="341.1" y2="468.2" stroke="rgba(95,190,95,0.36)" stroke-width="0.35"/>
<line x1="343.4" y1="415.3" x2="349.0" y2="468.2" stroke="rgba(95,190,95,0.36)" stroke-width="0.35"/>
<line x1="343.4" y1="415.3" x2="354.3" y2="475.2" stroke="rgba(95,190,95,0.36)" stroke-width="0.35"/>
<line x1="343.4" y1="415.3" x2="346.8" y2="487.9" stroke="rgba(95,190,95,0.36)" stroke-width="0.35"/>
<line x1="343.4" y1="415.3" x2="249.5" y2="504.7" stroke="rgba(95,190,95,0.36)" stroke-width="0.35"/>
<line x1="343.4" y1="415.3" x2="276.7" y2="510.9" stroke="rgba(95,190,95,0.36)" stroke-width="0.35"/>
<line x1="343.4" y1="415.3" x2="363.1" y2="500.3" stroke="rgba(95,190,95,0.36)" stroke-width="0.35"/>
<line x1="343.4" y1="415.3" x2="329.3" y2="509.6" stroke="rgba(95,190,95,0.36)" stroke-width="0.35"/>
<line x1="242.3" y1="457.3" x2="251.1" y2="458.0" stroke="#e2e2e2" stroke-width="0.3"/>
<line x1="242.3" y1="457.3" x2="260.8" y2="465.6" stroke="#e2e2e2" stroke-width="0.3"/>
<line x1="260.0" y1="455.0" x2="279.1" y2="457.9" stroke="#e2e2e2" stroke-width="0.3"/>
<line x1="267.9" y1="459.0" x2="286.2" y2="467.1" stroke="#e2e2e2" stroke-width="0.3"/>
<line x1="267.9" y1="459.0" x2="265.0" y2="477.5" stroke="#e2e2e2" stroke-width="0.3"/>
<line x1="226.1" y1="462.6" x2="235.3" y2="462.6" stroke="#e2e2e2" stroke-width="0.3"/>
<line x1="252.6" y1="468.6" x2="264.4" y2="481.4" stroke="#e2e2e2" stroke-width="0.3"/>
<line x1="260.8" y1="465.6" x2="257.3" y2="477.4" stroke="#e2e2e2" stroke-width="0.3"/>
<line x1="226.5" y1="472.6" x2="224.7" y2="492.9" stroke="#e2e2e2" stroke-width="0.3"/>
<line x1="235.3" y1="473.5" x2="257.3" y2="477.4" stroke="#e2e2e2" stroke-width="0.3"/>
<line x1="257.3" y1="477.4" x2="245.0" y2="496.1" stroke="#e2e2e2" stroke-width="0.3"/>
<line x1="257.3" y1="477.4" x2="265.0" y2="477.5" stroke="#e2e2e2" stroke-width="0.3"/>
<line x1="257.3" y1="477.4" x2="263.5" y2="499.5" stroke="#e2e2e2" stroke-width="0.3"/>
<line x1="264.4" y1="481.4" x2="245.0" y2="496.1" stroke="#e2e2e2" stroke-width="0.3"/>
<line x1="264.4" y1="481.4" x2="261.7" y2="490.3" stroke="#e2e2e2" stroke-width="0.3"/>
<line x1="264.4" y1="481.4" x2="287.0" y2="475.9" stroke="#e2e2e2" stroke-width="0.3"/>
<line x1="250.3" y1="486.2" x2="267.9" y2="496.1" stroke="#e2e2e2" stroke-width="0.3"/>
<line x1="252.9" y1="495.0" x2="265.0" y2="477.5" stroke="#e2e2e2" stroke-width="0.3"/>
<line x1="261.7" y1="490.3" x2="272.9" y2="477.3" stroke="#e2e2e2" stroke-width="0.3"/>
<line x1="267.9" y1="496.1" x2="286.2" y2="485.3" stroke="#e2e2e2" stroke-width="0.3"/>
<line x1="267.9" y1="496.1" x2="275.6" y2="492.8" stroke="#e2e2e2" stroke-width="0.3"/>
<line x1="296.7" y1="455.3" x2="300.3" y2="463.2" stroke="#e2e2e2" stroke-width="0.3"/>
<line x1="313.0" y1="453.5" x2="308.2" y2="461.5" stroke="#e2e2e2" stroke-width="0.3"/>
<line x1="313.0" y1="453.5" x2="321.4" y2="458.8" stroke="#e2e2e2" stroke-width="0.3"/>
<line x1="313.0" y1="453.5" x2="317.9" y2="477.3" stroke="#e2e2e2" stroke-width="0.3"/>
<line x1="330.3" y1="454.8" x2="317.9" y2="467.1" stroke="#e2e2e2" stroke-width="0.3"/>
<line x1="330.3" y1="454.8" x2="324.1" y2="472.9" stroke="#e2e2e2" stroke-width="0.3"/>
<line x1="289.7" y1="458.3" x2="287.0" y2="475.9" stroke="#e2e2e2" stroke-width="0.3"/>
<line x1="308.2" y1="461.5" x2="286.2" y2="467.1" stroke="#e2e2e2" stroke-width="0.3"/>
<line x1="321.4" y1="458.8" x2="335.8" y2="461.5" stroke="#e2e2e2" stroke-width="0.3"/>
<line x1="321.4" y1="458.8" x2="334.1" y2="476.4" stroke="#e2e2e2" stroke-width="0.3"/>
<line x1="300.3" y1="463.2" x2="310.0" y2="482.3" stroke="#e2e2e2" stroke-width="0.3"/>
<line x1="286.2" y1="467.1" x2="296.4" y2="471.2" stroke="#e2e2e2" stroke-width="0.3"/>
<line x1="317.9" y1="467.1" x2="325.0" y2="481.7" stroke="#e2e2e2" stroke-width="0.3"/>
<line x1="328.5" y1="466.4" x2="324.1" y2="472.9" stroke="#e2e2e2" stroke-width="0.3"/>
<line x1="328.5" y1="466.4" x2="325.0" y2="481.7" stroke="#e2e2e2" stroke-width="0.3"/>
<line x1="276.5" y1="468.5" x2="287.0" y2="475.9" stroke="#e2e2e2" stroke-width="0.3"/>
<line x1="267.6" y1="469.4" x2="287.0" y2="475.9" stroke="#e2e2e2" stroke-width="0.3"/>
<line x1="267.6" y1="469.4" x2="275.6" y2="492.8" stroke="#e2e2e2" stroke-width="0.3"/>
<line x1="265.0" y1="477.5" x2="286.2" y2="485.3" stroke="#e2e2e2" stroke-width="0.3"/>
<line x1="265.0" y1="477.5" x2="263.5" y2="499.5" stroke="#e2e2e2" stroke-width="0.3"/>
<line x1="310.0" y1="472.0" x2="302.9" y2="490.6" stroke="#e2e2e2" stroke-width="0.3"/>
<line x1="310.0" y1="472.0" x2="334.1" y2="476.4" stroke="#e2e2e2" stroke-width="0.3"/>
<line x1="272.9" y1="477.3" x2="275.6" y2="485.3" stroke="#e2e2e2" stroke-width="0.3"/>
<line x1="272.9" y1="477.3" x2="295.9" y2="484.7" stroke="#e2e2e2" stroke-width="0.3"/>
<line x1="287.0" y1="475.9" x2="275.6" y2="485.3" stroke="#e2e2e2" stroke-width="0.3"/>
<line x1="301.2" y1="477.3" x2="309.3" y2="499.8" stroke="#e2e2e2" stroke-width="0.3"/>
<line x1="317.9" y1="477.3" x2="311.7" y2="491.4" stroke="#e2e2e2" stroke-width="0.3"/>
<line x1="317.9" y1="477.3" x2="335.8" y2="461.5" stroke="#e2e2e2" stroke-width="0.3"/>
<line x1="275.6" y1="485.3" x2="286.2" y2="485.3" stroke="#e2e2e2" stroke-width="0.3"/>
<line x1="286.2" y1="485.3" x2="310.0" y2="482.3" stroke="#e2e2e2" stroke-width="0.3"/>
<line x1="286.2" y1="485.3" x2="291.5" y2="492.8" stroke="#e2e2e2" stroke-width="0.3"/>
<line x1="295.9" y1="484.7" x2="275.6" y2="492.8" stroke="#e2e2e2" stroke-width="0.3"/>
<line x1="295.9" y1="484.7" x2="285.8" y2="500.9" stroke="#e2e2e2" stroke-width="0.3"/>
<line x1="310.0" y1="482.3" x2="302.9" y2="490.6" stroke="#e2e2e2" stroke-width="0.3"/>
<line x1="310.0" y1="482.3" x2="334.1" y2="476.4" stroke="#e2e2e2" stroke-width="0.3"/>
<line x1="325.0" y1="481.7" x2="335.5" y2="487.6" stroke="#e2e2e2" stroke-width="0.3"/>
<line x1="325.0" y1="481.7" x2="340.2" y2="493.2" stroke="#e2e2e2" stroke-width="0.3"/>
<line x1="325.0" y1="481.7" x2="309.3" y2="499.8" stroke="#e2e2e2" stroke-width="0.3"/>
<line x1="275.6" y1="492.8" x2="276.7" y2="502.5" stroke="#e2e2e2" stroke-width="0.3"/>
<line x1="302.9" y1="490.6" x2="303.4" y2="509.3" stroke="#e2e2e2" stroke-width="0.3"/>
<line x1="311.7" y1="491.4" x2="321.4" y2="490.0" stroke="#e2e2e2" stroke-width="0.3"/>
<line x1="321.4" y1="490.0" x2="320.0" y2="507.1" stroke="#e2e2e2" stroke-width="0.3"/>
<line x1="344.6" y1="457.6" x2="354.9" y2="460.0" stroke="#e2e2e2" stroke-width="0.3"/>
<line x1="371.1" y1="464.6" x2="375.5" y2="484.7" stroke="#e2e2e2" stroke-width="0.3"/>
<line x1="362.3" y1="465.0" x2="341.1" y2="468.2" stroke="#e2e2e2" stroke-width="0.3"/>
<line x1="362.3" y1="465.0" x2="366.2" y2="482.6" stroke="#e2e2e2" stroke-width="0.3"/>
<line x1="335.8" y1="461.5" x2="344.6" y2="479.4" stroke="#e2e2e2" stroke-width="0.3"/>
<line x1="349.0" y1="468.2" x2="356.1" y2="483.5" stroke="#e2e2e2" stroke-width="0.3"/>
<line x1="334.1" y1="476.4" x2="356.1" y2="483.5" stroke="#e2e2e2" stroke-width="0.3"/>
<line x1="334.1" y1="476.4" x2="346.8" y2="487.9" stroke="#e2e2e2" stroke-width="0.3"/>
<line x1="354.3" y1="475.2" x2="375.5" y2="484.7" stroke="#e2e2e2" stroke-width="0.3"/>
<line x1="344.6" y1="479.4" x2="335.5" y2="487.6" stroke="#e2e2e2" stroke-width="0.3"/>
<line x1="344.6" y1="479.4" x2="330.6" y2="495.4" stroke="#e2e2e2" stroke-width="0.3"/>
<line x1="364.4" y1="491.1" x2="354.3" y2="494.1" stroke="#e2e2e2" stroke-width="0.3"/>
<line x1="364.4" y1="491.1" x2="372.1" y2="498.6" stroke="#e2e2e2" stroke-width="0.3"/>
<line x1="354.3" y1="494.1" x2="336.7" y2="505.2" stroke="#e2e2e2" stroke-width="0.3"/>
<line x1="354.3" y1="494.1" x2="347.0" y2="499.8" stroke="#e2e2e2" stroke-width="0.3"/>
<line x1="263.5" y1="499.5" x2="249.5" y2="504.7" stroke="#e2e2e2" stroke-width="0.3"/>
<line x1="276.7" y1="502.5" x2="298.2" y2="499.5" stroke="#e2e2e2" stroke-width="0.3"/>
<line x1="285.8" y1="500.9" x2="276.7" y2="510.9" stroke="#e2e2e2" stroke-width="0.3"/>
<line x1="298.2" y1="499.5" x2="312.2" y2="510.0" stroke="#e2e2e2" stroke-width="0.3"/>
<line x1="249.5" y1="504.7" x2="261.3" y2="506.3" stroke="#e2e2e2" stroke-width="0.3"/>
<line x1="330.6" y1="495.4" x2="347.0" y2="499.8" stroke="#e2e2e2" stroke-width="0.3"/>
<line x1="323.2" y1="499.8" x2="336.7" y2="505.2" stroke="#e2e2e2" stroke-width="0.3"/>
<line x1="323.2" y1="499.8" x2="312.2" y2="510.0" stroke="#e2e2e2" stroke-width="0.3"/>
<line x1="336.7" y1="505.2" x2="356.2" y2="505.2" stroke="#e2e2e2" stroke-width="0.3"/>
<line x1="242.3" y1="457.3" x2="261.3" y2="544.4" stroke="rgba(170,215,170,0.55)" stroke-width="0.25"/>
<line x1="251.1" y1="458.0" x2="251.7" y2="545.6" stroke="rgba(170,215,170,0.55)" stroke-width="0.25"/>
<line x1="251.1" y1="458.0" x2="267.2" y2="539.4" stroke="rgba(170,215,170,0.55)" stroke-width="0.25"/>
<line x1="260.0" y1="455.0" x2="275.1" y2="533.1" stroke="rgba(170,215,170,0.55)" stroke-width="0.25"/>
<line x1="235.3" y1="462.6" x2="241.5" y2="540.3" stroke="rgba(170,215,170,0.55)" stroke-width="0.25"/>
<line x1="235.3" y1="462.6" x2="261.3" y2="544.4" stroke="rgba(170,215,170,0.55)" stroke-width="0.25"/>
<line x1="252.6" y1="468.6" x2="261.3" y2="544.4" stroke="rgba(170,215,170,0.55)" stroke-width="0.25"/>
<line x1="257.3" y1="477.4" x2="251.7" y2="545.6" stroke="rgba(170,215,170,0.55)" stroke-width="0.25"/>
<line x1="264.4" y1="481.4" x2="241.5" y2="540.3" stroke="rgba(170,215,170,0.55)" stroke-width="0.25"/>
<line x1="250.3" y1="486.2" x2="251.7" y2="545.6" stroke="rgba(170,215,170,0.55)" stroke-width="0.25"/>
<line x1="237.0" y1="491.5" x2="251.7" y2="545.6" stroke="rgba(170,215,170,0.55)" stroke-width="0.25"/>
<line x1="245.0" y1="496.1" x2="261.3" y2="544.4" stroke="rgba(170,215,170,0.55)" stroke-width="0.25"/>
<line x1="267.9" y1="496.1" x2="267.2" y2="539.4" stroke="rgba(170,215,170,0.55)" stroke-width="0.25"/>
<line x1="267.9" y1="496.1" x2="299.8" y2="544.9" stroke="rgba(170,215,170,0.55)" stroke-width="0.25"/>
<line x1="273.5" y1="452.6" x2="284.6" y2="544.4" stroke="rgba(170,215,170,0.55)" stroke-width="0.25"/>
<line x1="273.5" y1="452.6" x2="293.0" y2="538.1" stroke="rgba(170,215,170,0.55)" stroke-width="0.25"/>
<line x1="296.7" y1="455.3" x2="284.6" y2="544.4" stroke="rgba(170,215,170,0.55)" stroke-width="0.25"/>
<line x1="296.7" y1="455.3" x2="293.0" y2="538.1" stroke="rgba(170,215,170,0.55)" stroke-width="0.25"/>
<line x1="296.7" y1="455.3" x2="312.2" y2="537.7" stroke="rgba(170,215,170,0.55)" stroke-width="0.25"/>
<line x1="330.3" y1="454.8" x2="324.4" y2="541.8" stroke="rgba(170,215,170,0.55)" stroke-width="0.25"/>
<line x1="308.2" y1="461.5" x2="312.2" y2="537.7" stroke="rgba(170,215,170,0.55)" stroke-width="0.25"/>
<line x1="321.4" y1="458.8" x2="284.6" y2="544.4" stroke="rgba(170,215,170,0.55)" stroke-width="0.25"/>
<line x1="321.4" y1="458.8" x2="299.8" y2="544.9" stroke="rgba(170,215,170,0.55)" stroke-width="0.25"/>
<line x1="321.4" y1="458.8" x2="324.4" y2="541.8" stroke="rgba(170,215,170,0.55)" stroke-width="0.25"/>
<line x1="286.2" y1="467.1" x2="251.7" y2="545.6" stroke="rgba(170,215,170,0.55)" stroke-width="0.25"/>
<line x1="286.2" y1="467.1" x2="293.0" y2="538.1" stroke="rgba(170,215,170,0.55)" stroke-width="0.25"/>
<line x1="276.5" y1="468.5" x2="241.5" y2="540.3" stroke="rgba(170,215,170,0.55)" stroke-width="0.25"/>
<line x1="276.5" y1="468.5" x2="267.2" y2="539.4" stroke="rgba(170,215,170,0.55)" stroke-width="0.25"/>
<line x1="276.5" y1="468.5" x2="299.8" y2="544.9" stroke="rgba(170,215,170,0.55)" stroke-width="0.25"/>
<line x1="267.6" y1="469.4" x2="275.1" y2="533.1" stroke="rgba(170,215,170,0.55)" stroke-width="0.25"/>
<line x1="267.6" y1="469.4" x2="284.6" y2="544.4" stroke="rgba(170,215,170,0.55)" stroke-width="0.25"/>
<line x1="265.0" y1="477.5" x2="261.3" y2="544.4" stroke="rgba(170,215,170,0.55)" stroke-width="0.25"/>
<line x1="265.0" y1="477.5" x2="275.1" y2="533.1" stroke="rgba(170,215,170,0.55)" stroke-width="0.25"/>
<line x1="296.4" y1="471.2" x2="275.1" y2="533.1" stroke="rgba(170,215,170,0.55)" stroke-width="0.25"/>
<line x1="296.4" y1="471.2" x2="293.0" y2="538.1" stroke="rgba(170,215,170,0.55)" stroke-width="0.25"/>
<line x1="324.1" y1="472.9" x2="324.4" y2="541.8" stroke="rgba(170,215,170,0.55)" stroke-width="0.25"/>
<line x1="272.9" y1="477.3" x2="261.3" y2="544.4" stroke="rgba(170,215,170,0.55)" stroke-width="0.25"/>
<line x1="272.9" y1="477.3" x2="267.2" y2="539.4" stroke="rgba(170,215,170,0.55)" stroke-width="0.25"/>
<line x1="287.0" y1="475.9" x2="284.6" y2="544.4" stroke="rgba(170,215,170,0.55)" stroke-width="0.25"/>
<line x1="317.9" y1="477.3" x2="324.4" y2="541.8" stroke="rgba(170,215,170,0.55)" stroke-width="0.25"/>
<line x1="275.6" y1="485.3" x2="241.5" y2="540.3" stroke="rgba(170,215,170,0.55)" stroke-width="0.25"/>
<line x1="275.6" y1="485.3" x2="261.3" y2="544.4" stroke="rgba(170,215,170,0.55)" stroke-width="0.25"/>
<line x1="275.6" y1="485.3" x2="267.2" y2="539.4" stroke="rgba(170,215,170,0.55)" stroke-width="0.25"/>
<line x1="275.6" y1="485.3" x2="284.6" y2="544.4" stroke="rgba(170,215,170,0.55)" stroke-width="0.25"/>
<line x1="275.6" y1="485.3" x2="293.0" y2="538.1" stroke="rgba(170,215,170,0.55)" stroke-width="0.25"/>
<line x1="286.2" y1="485.3" x2="267.2" y2="539.4" stroke="rgba(170,215,170,0.55)" stroke-width="0.25"/>
<line x1="286.2" y1="485.3" x2="299.8" y2="544.9" stroke="rgba(170,215,170,0.55)" stroke-width="0.25"/>
<line x1="295.9" y1="484.7" x2="275.1" y2="533.1" stroke="rgba(170,215,170,0.55)" stroke-width="0.25"/>
<line x1="295.9" y1="484.7" x2="299.8" y2="544.9" stroke="rgba(170,215,170,0.55)" stroke-width="0.25"/>
<line x1="310.0" y1="482.3" x2="284.6" y2="544.4" stroke="rgba(170,215,170,0.55)" stroke-width="0.25"/>
<line x1="310.0" y1="482.3" x2="324.4" y2="541.8" stroke="rgba(170,215,170,0.55)" stroke-width="0.25"/>
<line x1="325.0" y1="481.7" x2="324.4" y2="541.8" stroke="rgba(170,215,170,0.55)" stroke-width="0.25"/>
<line x1="275.6" y1="492.8" x2="275.1" y2="533.1" stroke="rgba(170,215,170,0.55)" stroke-width="0.25"/>
<line x1="291.5" y1="492.8" x2="293.0" y2="538.1" stroke="rgba(170,215,170,0.55)" stroke-width="0.25"/>
<line x1="291.5" y1="492.8" x2="299.8" y2="544.9" stroke="rgba(170,215,170,0.55)" stroke-width="0.25"/>
<line x1="302.9" y1="490.6" x2="299.8" y2="544.9" stroke="rgba(170,215,170,0.55)" stroke-width="0.25"/>
<line x1="302.9" y1="490.6" x2="312.2" y2="537.7" stroke="rgba(170,215,170,0.55)" stroke-width="0.25"/>
<line x1="276.7" y1="502.5" x2="275.1" y2="533.1" stroke="rgba(170,215,170,0.55)" stroke-width="0.25"/>
<line x1="285.8" y1="500.9" x2="251.7" y2="545.6" stroke="rgba(170,215,170,0.55)" stroke-width="0.25"/>
<line x1="285.8" y1="500.9" x2="299.8" y2="544.9" stroke="rgba(170,215,170,0.55)" stroke-width="0.25"/>
<line x1="298.2" y1="499.5" x2="284.6" y2="544.4" stroke="rgba(170,215,170,0.55)" stroke-width="0.25"/>
<line x1="261.3" y1="506.3" x2="284.6" y2="544.4" stroke="rgba(170,215,170,0.55)" stroke-width="0.25"/>
<line x1="261.3" y1="506.3" x2="293.0" y2="538.1" stroke="rgba(170,215,170,0.55)" stroke-width="0.25"/>
<line x1="276.7" y1="510.9" x2="251.7" y2="545.6" stroke="rgba(170,215,170,0.55)" stroke-width="0.25"/>
<line x1="276.7" y1="510.9" x2="284.6" y2="544.4" stroke="rgba(170,215,170,0.55)" stroke-width="0.25"/>
<line x1="276.7" y1="510.9" x2="293.0" y2="538.1" stroke="rgba(170,215,170,0.55)" stroke-width="0.25"/>
<line x1="293.0" y1="507.7" x2="284.6" y2="544.4" stroke="rgba(170,215,170,0.55)" stroke-width="0.25"/>
<line x1="303.4" y1="509.3" x2="261.3" y2="544.4" stroke="rgba(170,215,170,0.55)" stroke-width="0.25"/>
<line x1="303.4" y1="509.3" x2="312.2" y2="537.7" stroke="rgba(170,215,170,0.55)" stroke-width="0.25"/>
<line x1="330.6" y1="495.4" x2="324.4" y2="541.8" stroke="rgba(170,215,170,0.55)" stroke-width="0.25"/>
<line x1="309.3" y1="499.8" x2="293.0" y2="538.1" stroke="rgba(170,215,170,0.55)" stroke-width="0.25"/>
<line x1="323.2" y1="499.8" x2="312.2" y2="537.7" stroke="rgba(170,215,170,0.55)" stroke-width="0.25"/>
<line x1="323.2" y1="499.8" x2="324.4" y2="541.8" stroke="rgba(170,215,170,0.55)" stroke-width="0.25"/>
<line x1="336.7" y1="505.2" x2="312.2" y2="537.7" stroke="rgba(170,215,170,0.55)" stroke-width="0.25"/>
<line x1="345.2" y1="508.3" x2="324.4" y2="541.8" stroke="rgba(170,215,170,0.55)" stroke-width="0.25"/>
<circle cx="271.8" cy="423.4" r="6.30" fill="#3d85c8"/>
<text x="271.8" y="424.52" font-size="3.20" fill="#1d4a78" text-anchor="middle">RUNX1</text>
<circle cx="280.4" cy="416.6" r="3.90" fill="#3d85c8"/>
<text x="280.4" y="417.56" font-size="2.73" fill="#1d4a78" text-anchor="middle">UBC</text>
<circle cx="289.0" cy="422.1" r="5.90" fill="#3d85c8"/>
<text x="289.0" y="423.22" font-size="3.20" fill="#1d4a78" text-anchor="middle">CREBBP</text>
<circle cx="302.0" cy="423.4" r="6.30" fill="#3d85c8"/>
<text x="302.0" y="424.52" font-size="3.20" fill="#1d4a78" text-anchor="middle">SP1</text>
<circle cx="309.4" cy="415.3" r="3.60" fill="#3d85c8"/>
<text x="309.4" y="416.18" font-size="2.52" fill="#1d4a78" text-anchor="middle">SUZ12</text>
<circle cx="315.1" cy="424.3" r="6.80" fill="#3d85c8"/>
<text x="315.1" y="425.42" font-size="3.20" fill="#1d4a78" text-anchor="middle">IRF1</text>
<circle cx="325.1" cy="418.2" r="4.50" fill="#3d85c8"/>
<text x="325.1" y="419.30" font-size="3.15" fill="#1d4a78" text-anchor="middle">VDR</text>
<circle cx="343.4" cy="415.3" r="3.60" fill="#3d85c8"/>
<text x="343.4" y="416.18" font-size="2.52" fill="#1d4a78" text-anchor="middle">SPI1</text>
<ellipse cx="242.3" cy="457.3" rx="3.66" ry="3.10" fill="#d3d3d3"/>
<text x="242.3" y="458.18" font-size="2.50" fill="#333" text-anchor="middle">VDR</text>
<ellipse cx="251.1" cy="458.0" rx="3.66" ry="3.10" fill="#d3d3d3"/>
<text x="251.1" y="458.88" font-size="2.50" fill="#333" text-anchor="middle">EP300</text>
<ellipse cx="260.0" cy="455.0" rx="3.66" ry="3.10" fill="#d3d3d3"/>
<text x="260.0" y="455.88" font-size="2.50" fill="#333" text-anchor="middle">CTNNB1</text>
<ellipse cx="267.9" cy="459.0" rx="3.66" ry="3.10" fill="#d3d3d3"/>
<text x="267.9" y="459.88" font-size="2.50" fill="#333" text-anchor="middle">CEBPB</text>
<ellipse cx="226.1" cy="462.6" rx="3.16" ry="2.24" fill="#d3d3d3"/>
<text x="226.1" y="463.48" font-size="2.50" fill="#333" text-anchor="middle">GATA1</text>
<ellipse cx="235.3" cy="462.6" rx="3.66" ry="3.10" fill="#d3d3d3"/>
<text x="235.3" y="463.48" font-size="2.50" fill="#333" text-anchor="middle">SP1</text>
<ellipse cx="217.6" cy="467.9" rx="3.66" ry="3.10" fill="#d3d3d3"/>
<text x="217.6" y="468.77" font-size="2.50" fill="#333" text-anchor="middle">EP300</text>
<ellipse cx="252.6" cy="468.6" rx="3.16" ry="2.24" fill="#d3d3d3"/>
<text x="252.6" y="469.48" font-size="2.50" fill="#333" text-anchor="middle">TCF3</text>
<ellipse cx="260.8" cy="465.6" rx="3.66" ry="3.10" fill="#d3d3d3"/>
<text x="260.8" y="466.48" font-size="2.50" fill="#333" text-anchor="middle">CREBBP</text>
<ellipse cx="226.5" cy="472.6" rx="3.16" ry="2.24" fill="#d3d3d3"/>
<text x="226.5" y="473.48" font-size="2.50" fill="#333" text-anchor="middle">PML</text>
<ellipse cx="235.3" cy="473.5" rx="3.66" ry="3.10" fill="#d3d3d3"/>
<text x="235.3" y="474.38" font-size="2.50" fill="#333" text-anchor="middle">UBC</text>
<ellipse cx="218.5" cy="477.4" rx="3.16" ry="2.24" fill="#d3d3d3"/>
<text x="218.5" y="478.27" font-size="2.50" fill="#333" text-anchor="middle">SUZ12</text>
<ellipse cx="246.7" cy="477.9" rx="3.66" ry="3.10" fill="#d3d3d3"/>
<text x="246.7" y="478.77" font-size="2.50" fill="#333" text-anchor="middle">CEBPB</text>
<ellipse cx="257.3" cy="477.4" rx="3.66" ry="3.10" fill="#d3d3d3"/>
<text x="257.3" y="478.27" font-size="2.50" fill="#333" text-anchor="middle">SRF</text>
<ellipse cx="264.4" cy="481.4" rx="3.66" ry="3.10" fill="#d3d3d3"/>
<text x="264.4" y="482.27" font-size="2.50" fill="#333" text-anchor="middle">RARA</text>
<ellipse cx="228.2" cy="482.7" rx="3.16" ry="2.24" fill="#d3d3d3"/>
<text x="228.2" y="483.57" font-size="2.50" fill="#333" text-anchor="middle">HDAC1</text>
<ellipse cx="238.4" cy="482.7" rx="3.66" ry="3.10" fill="#d3d3d3"/>
<text x="238.4" y="483.57" font-size="2.50" fill="#333" text-anchor="middle">CTNNB1</text>
<ellipse cx="250.3" cy="486.2" rx="5.38" ry="5.17" fill="#d3d3d3"/>
<text x="250.3" y="487.32" font-size="3.20" fill="#333" text-anchor="middle">HDAC1</text>
<ellipse cx="237.0" cy="491.5" rx="3.16" ry="2.24" fill="#d3d3d3"/>
<text x="237.0" y="492.38" font-size="2.50" fill="#333" text-anchor="middle">AR</text>
<ellipse cx="224.7" cy="492.9" rx="3.16" ry="2.24" fill="#d3d3d3"/>
<text x="224.7" y="493.77" font-size="2.50" fill="#333" text-anchor="middle">EP300</text>
<ellipse cx="215.9" cy="496.1" rx="3.66" ry="3.10" fill="#d3d3d3"/>
<text x="215.9" y="496.98" font-size="2.50" fill="#333" text-anchor="middle">SUZ12</text>
<ellipse cx="245.0" cy="496.1" rx="3.66" ry="3.10" fill="#d3d3d3"/>
<text x="245.0" y="496.98" font-size="2.50" fill="#333" text-anchor="middle">SMAD4</text>
<ellipse cx="252.9" cy="495.0" rx="3.66" ry="3.10" fill="#d3d3d3"/>
<text x="252.9" y="495.88" font-size="2.50" fill="#333" text-anchor="middle">SUZ12</text>
<ellipse cx="261.7" cy="490.3" rx="3.66" ry="3.10" fill="#d3d3d3"/>
<text x="261.7" y="491.18" font-size="2.50" fill="#333" text-anchor="middle">SMAD3</text>
<ellipse cx="267.9" cy="496.1" rx="3.66" ry="3.10" fill="#d3d3d3"/>
<text x="267.9" y="496.98" font-size="2.50" fill="#333" text-anchor="middle">ESR1</text>
<ellipse cx="273.5" cy="452.6" rx="3.66" ry="3.10" fill="#d3d3d3"/>
<text x="273.5" y="453.48" font-size="2.50" fill="#333" text-anchor="middle">VDR</text>
<ellipse cx="296.7" cy="455.3" rx="4.19" ry="4.02" fill="#d3d3d3"/>
<text x="296.7" y="456.29" font-size="2.82" fill="#333" text-anchor="middle">UBC</text>
<ellipse cx="313.0" cy="453.5" rx="4.19" ry="4.02" fill="#d3d3d3"/>
<text x="313.0" y="454.49" font-size="2.82" fill="#333" text-anchor="middle">GATA1</text>
<ellipse cx="330.3" cy="454.8" rx="3.66" ry="3.10" fill="#d3d3d3"/>
<text x="330.3" y="455.68" font-size="2.50" fill="#333" text-anchor="middle">EP300</text>
<ellipse cx="279.1" cy="457.9" rx="3.66" ry="3.10" fill="#d3d3d3"/>
<text x="279.1" y="458.77" font-size="2.50" fill="#333" text-anchor="middle">HDAC2</text>
<ellipse cx="289.7" cy="458.3" rx="3.66" ry="3.10" fill="#d3d3d3"/>
<text x="289.7" y="459.18" font-size="2.50" fill="#333" text-anchor="middle">GATA1</text>
<ellipse cx="308.2" cy="461.5" rx="3.66" ry="3.10" fill="#d3d3d3"/>
<text x="308.2" y="462.38" font-size="2.50" fill="#333" text-anchor="middle">RUNX1</text>
<ellipse cx="321.4" cy="458.8" rx="3.66" ry="3.10" fill="#d3d3d3"/>
<text x="321.4" y="459.68" font-size="2.50" fill="#333" text-anchor="middle">PML</text>
<ellipse cx="300.3" cy="463.2" rx="3.66" ry="3.10" fill="#d3d3d3"/>
<text x="300.3" y="464.07" font-size="2.50" fill="#333" text-anchor="middle">PML</text>
<ellipse cx="286.2" cy="467.1" rx="3.66" ry="3.10" fill="#d3d3d3"/>
<text x="286.2" y="467.98" font-size="2.50" fill="#333" text-anchor="middle">PML</text>
<ellipse cx="317.9" cy="467.1" rx="3.66" ry="3.10" fill="#d3d3d3"/>
<text x="317.9" y="467.98" font-size="2.50" fill="#333" text-anchor="middle">SMAD4</text>
<ellipse cx="328.5" cy="466.4" rx="3.66" ry="3.10" fill="#d3d3d3"/>
<text x="328.5" y="467.27" font-size="2.50" fill="#333" text-anchor="middle">UBC</text>
<ellipse cx="276.5" cy="468.5" rx="3.66" ry="3.10" fill="#d3d3d3"/>
<text x="276.5" y="469.38" font-size="2.50" fill="#333" text-anchor="middle">VDR</text>
<ellipse cx="267.6" cy="469.4" rx="3.66" ry="3.10" fill="#d3d3d3"/>
<text x="267.6" y="470.27" font-size="2.50" fill="#333" text-anchor="middle">IRF1</text>
<ellipse cx="265.0" cy="477.5" rx="3.66" ry="3.10" fill="#d3d3d3"/>
<text x="265.0" y="478.38" font-size="2.50" fill="#333" text-anchor="middle">SMAD3</text>
<ellipse cx="296.4" cy="471.2" rx="3.66" ry="3.10" fill="#d3d3d3"/>
<text x="296.4" y="472.07" font-size="2.50" fill="#333" text-anchor="middle">AR</text>
<ellipse cx="310.0" cy="472.0" rx="3.66" ry="3.10" fill="#d3d3d3"/>
<text x="310.0" y="472.88" font-size="2.50" fill="#333" text-anchor="middle">YY1</text>
<ellipse cx="324.1" cy="472.9" rx="3.66" ry="3.10" fill="#d3d3d3"/>
<text x="324.1" y="473.77" font-size="2.50" fill="#333" text-anchor="middle">CTNNB1</text>
<ellipse cx="272.9" cy="477.3" rx="3.66" ry="3.10" fill="#d3d3d3"/>
<text x="272.9" y="478.18" font-size="2.50" fill="#333" text-anchor="middle">VDR</text>
<ellipse cx="287.0" cy="475.9" rx="3.66" ry="3.10" fill="#d3d3d3"/>
<text x="287.0" y="476.77" font-size="2.50" fill="#333" text-anchor="middle">RUNX1</text>
<ellipse cx="301.2" cy="477.3" rx="3.66" ry="3.10" fill="#d3d3d3"/>
<text x="301.2" y="478.18" font-size="2.50" fill="#333" text-anchor="middle">CREBBP</text>
<ellipse cx="317.9" cy="477.3" rx="3.66" ry="3.10" fill="#d3d3d3"/>
<text x="317.9" y="478.18" font-size="2.50" fill="#333" text-anchor="middle">STAT3</text>
<ellipse cx="275.6" cy="485.3" rx="3.66" ry="3.10" fill="#d3d3d3"/>
<text x="275.6" y="486.18" font-size="2.50" fill="#333" text-anchor="middle">SUZ12</text>
<ellipse cx="286.2" cy="485.3" rx="3.66" ry="3.10" fill="#d3d3d3"/>
<text x="286.2" y="486.18" font-size="2.50" fill="#333" text-anchor="middle">SMAD4</text>
<ellipse cx="295.9" cy="484.7" rx="3.66" ry="3.10" fill="#d3d3d3"/>
<text x="295.9" y="485.57" font-size="2.50" fill="#333" text-anchor="middle">SUZ12</text>
<ellipse cx="310.0" cy="482.3" rx="3.66" ry="3.10" fill="#d3d3d3"/>
<text x="310.0" y="483.18" font-size="2.50" fill="#333" text-anchor="middle">SIRT1</text>
<ellipse cx="325.0" cy="481.7" rx="3.66" ry="3.10" fill="#d3d3d3"/>
<text x="325.0" y="482.57" font-size="2.50" fill="#333" text-anchor="middle">SRF</text>
<ellipse cx="275.6" cy="492.8" rx="3.66" ry="3.10" fill="#d3d3d3"/>
<text x="275.6" y="493.68" font-size="2.50" fill="#333" text-anchor="middle">GATA1</text>
<ellipse cx="291.5" cy="492.8" rx="3.66" ry="3.10" fill="#d3d3d3"/>
<text x="291.5" y="493.68" font-size="2.50" fill="#333" text-anchor="middle">KAT5</text>
<ellipse cx="302.9" cy="490.6" rx="3.66" ry="3.10" fill="#d3d3d3"/>
<text x="302.9" y="491.48" font-size="2.50" fill="#333" text-anchor="middle">CREBBP</text>
<ellipse cx="311.7" cy="491.4" rx="3.66" ry="3.10" fill="#d3d3d3"/>
<text x="311.7" y="492.27" font-size="2.50" fill="#333" text-anchor="middle">KAT5</text>
<ellipse cx="321.4" cy="490.0" rx="3.66" ry="3.10" fill="#d3d3d3"/>
<text x="321.4" y="490.88" font-size="2.50" fill="#333" text-anchor="middle">SRF</text>
<ellipse cx="344.6" cy="457.6" rx="3.66" ry="3.10" fill="#d3d3d3"/>
<text x="344.6" y="458.48" font-size="2.50" fill="#333" text-anchor="middle">CEBPB</text>
<ellipse cx="354.9" cy="460.0" rx="3.66" ry="3.10" fill="#d3d3d3"/>
<text x="354.9" y="460.88" font-size="2.50" fill="#333" text-anchor="middle">RB1</text>
<ellipse cx="371.1" cy="464.6" rx="6.58" ry="6.32" fill="#d3d3d3"/>
<text x="371.1" y="465.72" font-size="3.20" fill="#333" text-anchor="middle">SIN3A</text>
<ellipse cx="362.3" cy="465.0" rx="3.66" ry="3.10" fill="#d3d3d3"/>
<text x="362.3" y="465.88" font-size="2.50" fill="#333" text-anchor="middle">MED1</text>
<ellipse cx="335.8" cy="461.5" rx="4.78" ry="4.60" fill="#d3d3d3"/>
<text x="335.8" y="462.62" font-size="3.20" fill="#333" text-anchor="middle">JUN</text>
<ellipse cx="341.1" cy="468.2" rx="4.19" ry="4.02" fill="#d3d3d3"/>
<text x="341.1" y="469.19" font-size="2.82" fill="#333" text-anchor="middle">PML</text>
<ellipse cx="349.0" cy="468.2" rx="3.66" ry="3.10" fill="#d3d3d3"/>
<text x="349.0" y="469.07" font-size="2.50" fill="#333" text-anchor="middle">NCOA1</text>
<ellipse cx="334.1" cy="476.4" rx="7.77" ry="7.47" fill="#d3d3d3"/>
<text x="334.1" y="477.52" font-size="3.20" fill="#333" text-anchor="middle">HDAC1</text>
<ellipse cx="354.3" cy="475.2" rx="5.38" ry="5.17" fill="#d3d3d3"/>
<text x="354.3" y="476.32" font-size="3.20" fill="#333" text-anchor="middle">JUN</text>
<ellipse cx="364.4" cy="473.4" rx="5.38" ry="5.17" fill="#d3d3d3"/>
<text x="364.4" y="474.52" font-size="3.20" fill="#333" text-anchor="middle">SUZ12</text>
<ellipse cx="383.4" cy="474.7" rx="3.66" ry="3.10" fill="#d3d3d3"/>
<text x="383.4" y="475.57" font-size="2.50" fill="#333" text-anchor="middle">KAT5</text>
<ellipse cx="344.6" cy="479.4" rx="3.66" ry="3.10" fill="#d3d3d3"/>
<text x="344.6" y="480.27" font-size="2.50" fill="#333" text-anchor="middle">FOS</text>
<ellipse cx="356.1" cy="483.5" rx="3.66" ry="3.10" fill="#d3d3d3"/>
<text x="356.1" y="484.38" font-size="2.50" fill="#333" text-anchor="middle">CEBPB</text>
<ellipse cx="366.2" cy="482.6" rx="3.66" ry="3.10" fill="#d3d3d3"/>
<text x="366.2" y="483.48" font-size="2.50" fill="#333" text-anchor="middle">NCOA1</text>
<ellipse cx="375.5" cy="484.7" rx="5.98" ry="5.75" fill="#d3d3d3"/>
<text x="375.5" y="485.82" font-size="3.20" fill="#333" text-anchor="middle">EZH2</text>
<ellipse cx="335.5" cy="487.6" rx="4.19" ry="4.02" fill="#d3d3d3"/>
<text x="335.5" y="488.59" font-size="2.82" fill="#333" text-anchor="middle">SMAD4</text>
<ellipse cx="346.8" cy="487.9" rx="3.66" ry="3.10" fill="#d3d3d3"/>
<text x="346.8" y="488.77" font-size="2.50" fill="#333" text-anchor="middle">MED1</text>
<ellipse cx="364.4" cy="491.1" rx="3.66" ry="3.10" fill="#d3d3d3"/>
<text x="364.4" y="491.98" font-size="2.50" fill="#333" text-anchor="middle">NCOA1</text>
<ellipse cx="379.5" cy="492.9" rx="4.19" ry="4.02" fill="#d3d3d3"/>
<text x="379.5" y="493.89" font-size="2.82" fill="#333" text-anchor="middle">UBC</text>
<ellipse cx="340.2" cy="493.2" rx="3.66" ry="3.10" fill="#d3d3d3"/>
<text x="340.2" y="494.07" font-size="2.50" fill="#333" text-anchor="middle">SIN3A</text>
<ellipse cx="354.3" cy="494.1" rx="3.66" ry="3.10" fill="#d3d3d3"/>
<text x="354.3" y="494.98" font-size="2.50" fill="#333" text-anchor="middle">SRF</text>
<ellipse cx="229.5" cy="500.2" rx="3.66" ry="3.10" fill="#d3d3d3"/>
<text x="229.5" y="501.07" font-size="2.50" fill="#333" text-anchor="middle">SIRT1</text>
<ellipse cx="238.6" cy="501.8" rx="3.66" ry="3.10" fill="#d3d3d3"/>
<text x="238.6" y="502.68" font-size="2.50" fill="#333" text-anchor="middle">PML</text>
<ellipse cx="263.5" cy="499.5" rx="3.66" ry="3.10" fill="#d3d3d3"/>
<text x="263.5" y="500.38" font-size="2.50" fill="#333" text-anchor="middle">CEBPB</text>
<ellipse cx="276.7" cy="502.5" rx="3.66" ry="3.10" fill="#d3d3d3"/>
<text x="276.7" y="503.38" font-size="2.50" fill="#333" text-anchor="middle">EP300</text>
<ellipse cx="285.8" cy="500.9" rx="3.66" ry="3.10" fill="#d3d3d3"/>
<text x="285.8" y="501.77" font-size="2.50" fill="#333" text-anchor="middle">HDAC1</text>
<ellipse cx="298.2" cy="499.5" rx="3.66" ry="3.10" fill="#d3d3d3"/>
<text x="298.2" y="500.38" font-size="2.50" fill="#333" text-anchor="middle">SUZ12</text>
<ellipse cx="249.5" cy="504.7" rx="3.66" ry="3.10" fill="#d3d3d3"/>
<text x="249.5" y="505.57" font-size="2.50" fill="#333" text-anchor="middle">AR</text>
<ellipse cx="261.3" cy="506.3" rx="3.66" ry="3.10" fill="#d3d3d3"/>
<text x="261.3" y="507.18" font-size="2.50" fill="#333" text-anchor="middle">EP300</text>
<ellipse cx="276.7" cy="510.9" rx="4.19" ry="4.02" fill="#d3d3d3"/>
<text x="276.7" y="511.89" font-size="2.82" fill="#333" text-anchor="middle">AR</text>
<ellipse cx="293.0" cy="507.7" rx="3.66" ry="3.10" fill="#d3d3d3"/>
<text x="293.0" y="508.57" font-size="2.50" fill="#333" text-anchor="middle">JUN</text>
<ellipse cx="303.4" cy="509.3" rx="3.66" ry="3.10" fill="#d3d3d3"/>
<text x="303.4" y="510.18" font-size="2.50" fill="#333" text-anchor="middle">AR</text>
<ellipse cx="330.6" cy="495.4" rx="5.98" ry="5.75" fill="#d3d3d3"/>
<text x="330.6" y="496.52" font-size="3.20" fill="#333" text-anchor="middle">CTNNB1</text>
<ellipse cx="309.3" cy="499.8" rx="3.66" ry="3.10" fill="#d3d3d3"/>
<text x="309.3" y="500.68" font-size="2.50" fill="#333" text-anchor="middle">SMAD3</text>
<ellipse cx="323.2" cy="499.8" rx="3.66" ry="3.10" fill="#d3d3d3"/>
<text x="323.2" y="500.68" font-size="2.50" fill="#333" text-anchor="middle">SUMO1</text>
<ellipse cx="336.7" cy="505.2" rx="3.66" ry="3.10" fill="#d3d3d3"/>
<text x="336.7" y="506.07" font-size="2.50" fill="#333" text-anchor="middle">MED1</text>
<ellipse cx="347.0" cy="499.8" rx="3.66" ry="3.10" fill="#d3d3d3"/>
<text x="347.0" y="500.68" font-size="2.50" fill="#333" text-anchor="middle">CREBBP</text>
<ellipse cx="363.1" cy="500.3" rx="4.78" ry="4.60" fill="#d3d3d3"/>
<text x="363.1" y="501.42" font-size="3.20" fill="#333" text-anchor="middle">UBC</text>
<ellipse cx="372.1" cy="498.6" rx="3.66" ry="3.10" fill="#d3d3d3"/>
<text x="372.1" y="499.48" font-size="2.50" fill="#333" text-anchor="middle">RUNX1</text>
<ellipse cx="312.2" cy="510.0" rx="3.66" ry="3.10" fill="#d3d3d3"/>
<text x="312.2" y="510.88" font-size="2.50" fill="#333" text-anchor="middle">RUNX1</text>
<ellipse cx="320.0" cy="507.1" rx="3.66" ry="3.10" fill="#d3d3d3"/>
<text x="320.0" y="507.98" font-size="2.50" fill="#333" text-anchor="middle">NCOR2</text>
<ellipse cx="329.3" cy="509.6" rx="6.58" ry="6.32" fill="#d3d3d3"/>
<text x="329.3" y="510.72" font-size="3.20" fill="#333" text-anchor="middle">SIRT1</text>
<ellipse cx="345.2" cy="508.3" rx="4.78" ry="4.60" fill="#d3d3d3"/>
<text x="345.2" y="509.42" font-size="3.20" fill="#333" text-anchor="middle">SPI1</text>
<ellipse cx="356.2" cy="505.2" rx="3.66" ry="3.10" fill="#d3d3d3"/>
<text x="356.2" y="506.07" font-size="2.50" fill="#333" text-anchor="middle">NCOA1</text>
<ellipse cx="242.3" cy="468.2" rx="2.8" ry="1.6" fill="#dcdcdc"/>
<text x="242.3" y="468.80" font-size="2.5" fill="#555" text-anchor="middle">ESR1</text>
<ellipse cx="208.8" cy="476.2" rx="2.8" ry="1.6" fill="#dcdcdc"/>
<text x="208.8" y="476.80" font-size="2.5" fill="#555" text-anchor="middle">HDAC2</text>
<ellipse cx="207.9" cy="485.5" rx="2.8" ry="1.6" fill="#dcdcdc"/>
<text x="207.9" y="486.10" font-size="2.5" fill="#555" text-anchor="middle">TP53</text>
<ellipse cx="217.6" cy="486.7" rx="2.8" ry="1.6" fill="#dcdcdc"/>
<text x="217.6" y="487.30" font-size="2.5" fill="#555" text-anchor="middle">SMAD4</text>
<ellipse cx="374.6" cy="474.2" rx="2.8" ry="1.6" fill="#dcdcdc"/>
<text x="374.6" y="474.80" font-size="2.5" fill="#555" text-anchor="middle">IRF1</text>
<ellipse cx="385.2" cy="484.7" rx="2.8" ry="1.6" fill="#dcdcdc"/>
<text x="385.2" y="485.30" font-size="2.5" fill="#555" text-anchor="middle">SUZ12</text>
<circle cx="241.5" cy="540.3" r="4.00" fill="#e8436b"/>
<text x="241.5" y="541.28" font-size="2.80" fill="#6a1028" text-anchor="middle">AR</text>
<circle cx="251.7" cy="545.6" r="2.50" fill="#e8436b"/>
<text x="251.7" y="546.48" font-size="2.50" fill="#6a1028" text-anchor="middle">MED1</text>
<circle cx="261.3" cy="544.4" r="2.50" fill="#e8436b"/>
<text x="261.3" y="545.27" font-size="2.50" fill="#6a1028" text-anchor="middle">NCOA1</text>
<circle cx="267.2" cy="539.4" r="4.00" fill="#e8436b"/>
<text x="267.2" y="540.38" font-size="2.80" fill="#6a1028" text-anchor="middle">RB1</text>
<circle cx="275.1" cy="533.1" r="6.00" fill="#e8436b"/>
<text x="275.1" y="534.22" font-size="3.20" fill="#6a1028" text-anchor="middle">HDAC2</text>
<circle cx="284.6" cy="544.4" r="2.50" fill="#e8436b"/>
<text x="284.6" y="545.27" font-size="2.50" fill="#6a1028" text-anchor="middle">NCOR2</text>
<circle cx="293.0" cy="538.1" r="4.50" fill="#e8436b"/>
<text x="293.0" y="539.20" font-size="3.15" fill="#6a1028" text-anchor="middle">GATA1</text>
<circle cx="299.8" cy="544.9" r="2.50" fill="#e8436b"/>
<text x="299.8" y="545.77" font-size="2.50" fill="#6a1028" text-anchor="middle">KAT5</text>
<circle cx="312.2" cy="537.7" r="4.50" fill="#e8436b"/>
<text x="312.2" y="538.80" font-size="3.15" fill="#6a1028" text-anchor="middle">AR</text>
<circle cx="324.4" cy="541.8" r="3.50" fill="#e8436b"/>
<text x="324.4" y="542.67" font-size="2.50" fill="#6a1028" text-anchor="middle">SMAD3</text>
</svg></body></html>
